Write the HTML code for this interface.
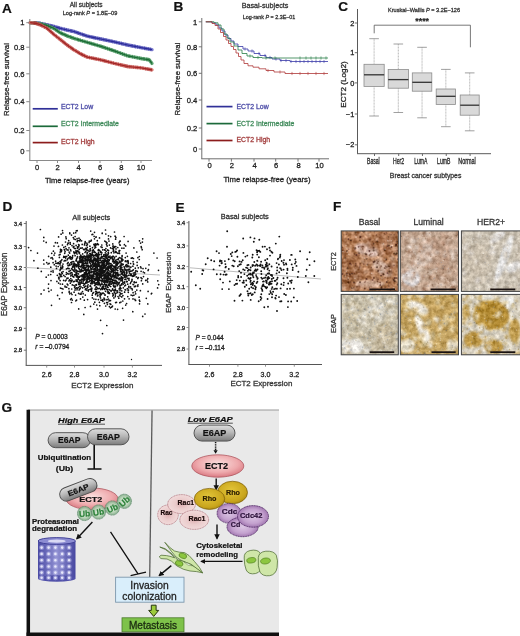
<!DOCTYPE html>
<html><head><meta charset="utf-8"><title>Figure</title>
<style>html,body{margin:0;padding:0;background:#fff}svg{display:block;filter:blur(0.35px)}text{font-family:'Liberation Sans', Arial, sans-serif}</style>
</head><body>
<svg width="520" height="636" viewBox="0 0 520 636" font-family="Liberation Sans, Arial, sans-serif">
<rect width="520" height="636" fill="#fff"/>
<text x="2.00" y="12.50" font-size="13.6" text-anchor="start" font-weight="bold" font-style="normal" fill="#111" stroke="#111" stroke-width="0.2">A</text>
<text x="173.50" y="11.10" font-size="13.6" text-anchor="start" font-weight="bold" font-style="normal" fill="#111" stroke="#111" stroke-width="0.2">B</text>
<text x="338.30" y="10.80" font-size="13.6" text-anchor="start" font-weight="bold" font-style="normal" fill="#111" stroke="#111" stroke-width="0.2">C</text>
<text x="2.50" y="211.40" font-size="13.6" text-anchor="start" font-weight="bold" font-style="normal" fill="#111" stroke="#111" stroke-width="0.2">D</text>
<text x="175.50" y="211.90" font-size="13.6" text-anchor="start" font-weight="bold" font-style="normal" fill="#111" stroke="#111" stroke-width="0.2">E</text>
<text x="333.00" y="211.40" font-size="13.6" text-anchor="start" font-weight="bold" font-style="normal" fill="#111" stroke="#111" stroke-width="0.2">F</text>
<text x="1.60" y="412.40" font-size="13.6" text-anchor="start" font-weight="bold" font-style="normal" fill="#111" stroke="#111" stroke-width="0.2">G</text>
<text x="86.20" y="7.14" font-size="6.5" text-anchor="middle" font-weight="normal" font-style="normal" fill="#333" stroke="#333" stroke-width="0.28">All subjects</text>
<text x="90.00" y="14.62" font-size="5.6" text-anchor="middle" font-weight="normal" font-style="normal" fill="#333" stroke="#333" stroke-width="0.28">Log-rank <tspan font-style="italic">P</tspan> = 1.8E–09</text>
<line x1="29.80" y1="19.00" x2="29.80" y2="160.50" stroke="#8a8a8a" stroke-width="1.1"/>
<line x1="29.30" y1="160.50" x2="152.00" y2="160.50" stroke="#8a8a8a" stroke-width="1.1"/>
<line x1="26.30" y1="22.70" x2="29.80" y2="22.70" stroke="#8a8a8a" stroke-width="1"/>
<text x="24.60" y="25.44" font-size="7.6" text-anchor="end" font-weight="normal" font-style="normal" fill="#222" stroke="#222" stroke-width="0.28">1</text>
<line x1="26.30" y1="47.20" x2="29.80" y2="47.20" stroke="#8a8a8a" stroke-width="1"/>
<text x="24.60" y="49.94" font-size="7.6" text-anchor="end" font-weight="normal" font-style="normal" fill="#222" stroke="#222" stroke-width="0.28">0.8</text>
<line x1="26.30" y1="73.80" x2="29.80" y2="73.80" stroke="#8a8a8a" stroke-width="1"/>
<text x="24.60" y="76.54" font-size="7.6" text-anchor="end" font-weight="normal" font-style="normal" fill="#222" stroke="#222" stroke-width="0.28">0.6</text>
<line x1="26.30" y1="101.70" x2="29.80" y2="101.70" stroke="#8a8a8a" stroke-width="1"/>
<text x="24.60" y="104.44" font-size="7.6" text-anchor="end" font-weight="normal" font-style="normal" fill="#222" stroke="#222" stroke-width="0.28">0.4</text>
<line x1="26.30" y1="130.50" x2="29.80" y2="130.50" stroke="#8a8a8a" stroke-width="1"/>
<text x="24.60" y="133.24" font-size="7.6" text-anchor="end" font-weight="normal" font-style="normal" fill="#222" stroke="#222" stroke-width="0.28">0.2</text>
<line x1="26.30" y1="150.80" x2="29.80" y2="150.80" stroke="#8a8a8a" stroke-width="1"/>
<text x="24.60" y="153.54" font-size="7.6" text-anchor="end" font-weight="normal" font-style="normal" fill="#222" stroke="#222" stroke-width="0.28">0</text>
<line x1="37.00" y1="160.50" x2="37.00" y2="163.00" stroke="#8a8a8a" stroke-width="1"/>
<text x="37.00" y="169.54" font-size="7.6" text-anchor="middle" font-weight="normal" font-style="normal" fill="#222" stroke="#222" stroke-width="0.28">0</text>
<line x1="57.50" y1="160.50" x2="57.50" y2="163.00" stroke="#8a8a8a" stroke-width="1"/>
<text x="57.50" y="169.54" font-size="7.6" text-anchor="middle" font-weight="normal" font-style="normal" fill="#222" stroke="#222" stroke-width="0.28">2</text>
<line x1="78.50" y1="160.50" x2="78.50" y2="163.00" stroke="#8a8a8a" stroke-width="1"/>
<text x="78.50" y="169.54" font-size="7.6" text-anchor="middle" font-weight="normal" font-style="normal" fill="#222" stroke="#222" stroke-width="0.28">4</text>
<line x1="100.00" y1="160.50" x2="100.00" y2="163.00" stroke="#8a8a8a" stroke-width="1"/>
<text x="100.00" y="169.54" font-size="7.6" text-anchor="middle" font-weight="normal" font-style="normal" fill="#222" stroke="#222" stroke-width="0.28">6</text>
<line x1="121.30" y1="160.50" x2="121.30" y2="163.00" stroke="#8a8a8a" stroke-width="1"/>
<text x="121.30" y="169.54" font-size="7.6" text-anchor="middle" font-weight="normal" font-style="normal" fill="#222" stroke="#222" stroke-width="0.28">8</text>
<line x1="141.00" y1="160.50" x2="141.00" y2="163.00" stroke="#8a8a8a" stroke-width="1"/>
<text x="141.00" y="169.54" font-size="7.6" text-anchor="middle" font-weight="normal" font-style="normal" fill="#222" stroke="#222" stroke-width="0.28">10</text>
<text x="87.20" y="182.72" font-size="7.55" text-anchor="middle" font-weight="normal" font-style="normal" fill="#222" stroke="#222" stroke-width="0.28">Time relapse-free (years)</text>
<text x="6.20" y="82.29" font-size="7.75" text-anchor="middle" font-weight="normal" font-style="normal" fill="#222" stroke="#222" stroke-width="0.28" transform="rotate(-90 6.20 79.50)">Relapse-free survival</text>
<path d="M30.2 22.7 L40.0 23.3 L47.0 24.8 L53.7 26.5 L60.4 28.3 L67.0 30.0 L73.9 31.5 L80.6 33.8 L87.3 36.1 L94.0 37.6 L100.8 39.0 L114.2 41.8 L127.7 45.0 L141.2 47.7 L152.0 49.6" fill="none" stroke="#6464c4" stroke-width="3.4" stroke-linejoin="round" stroke-linecap="round" opacity="0.85"/>
<path d="M30.2 22.7 L40.0 23.3 L47.0 24.8 L53.7 26.5 L60.4 28.3 L67.0 30.0 L73.9 31.5 L80.6 33.8 L87.3 36.1 L94.0 37.6 L100.8 39.0 L114.2 41.8 L127.7 45.0 L141.2 47.7 L152.0 49.6" fill="none" stroke="#2a2a98" stroke-width="1.2" stroke-linejoin="round"/>
<path d="M34.2 21.0v3.8M35.8 21.1v3.8M37.2 21.2v3.8M39.3 21.4v3.8M40.5 21.5v3.8M42.5 21.9v3.8M44.2 22.3v3.8M45.4 22.5v3.8M47.3 23.0v3.8M48.4 23.3v3.8M50.2 23.7v3.8M51.4 24.0v3.8M52.7 24.3v3.8M54.5 24.8v3.8M56.9 25.5v3.8M58.2 25.8v3.8M59.6 26.2v3.8M61.7 26.7v3.8M64.4 27.4v3.8M66.4 27.9v3.8M68.1 28.3v3.8M70.8 28.9v3.8M71.9 29.2v3.8M74.4 29.8v3.8M76.0 30.3v3.8M77.3 30.8v3.8M78.6 31.2v3.8M80.2 31.8v3.8M82.6 32.6v3.8M84.0 33.1v3.8M86.0 33.8v3.8M88.1 34.4v3.8M89.8 34.8v3.8M91.8 35.2v3.8M93.0 35.5v3.8M94.2 35.7v3.8M95.6 36.0v3.8M97.8 36.5v3.8M99.6 36.9v3.8M101.2 37.2v3.8M103.3 37.6v3.8M105.1 38.0v3.8M106.7 38.3v3.8M109.0 38.8v3.8M111.2 39.3v3.8M112.7 39.6v3.8M114.8 40.0v3.8M116.7 40.5v3.8M119.2 41.1v3.8M121.5 41.6v3.8M123.0 42.0v3.8M125.7 42.6v3.8M127.0 42.9v3.8M128.8 43.3v3.8M131.1 43.8v3.8M132.4 44.0v3.8M134.3 44.4v3.8M135.5 44.7v3.8M137.6 45.1v3.8M139.9 45.5v3.8M142.0 45.9v3.8M144.5 46.4v3.8M146.1 46.7v3.8M148.3 47.0v3.8M150.3 47.4v3.8" fill="none" stroke="#2a2a98" stroke-width="0.55" opacity="0.9"/>
<path d="M30.2 22.7 L40.0 23.6 L47.0 25.6 L53.7 28.3 L60.4 32.9 L67.0 35.8 L73.9 38.3 L80.6 40.4 L87.3 42.3 L100.8 46.3 L114.2 50.9 L127.7 55.8 L141.2 58.5 L149.2 59.8 L152.0 63.5" fill="none" stroke="#55a26a" stroke-width="3.4" stroke-linejoin="round" stroke-linecap="round" opacity="0.85"/>
<path d="M30.2 22.7 L40.0 23.6 L47.0 25.6 L53.7 28.3 L60.4 32.9 L67.0 35.8 L73.9 38.3 L80.6 40.4 L87.3 42.3 L100.8 46.3 L114.2 50.9 L127.7 55.8 L141.2 58.5 L149.2 59.8 L152.0 63.5" fill="none" stroke="#1a6a34" stroke-width="1.2" stroke-linejoin="round"/>
<path d="M34.2 21.2v3.8M36.0 21.3v3.8M38.5 21.6v3.8M41.1 22.0v3.8M42.9 22.5v3.8M45.1 23.2v3.8M46.3 23.5v3.8M48.5 24.3v3.8M50.7 25.2v3.8M53.4 26.3v3.8M55.8 27.8v3.8M57.3 28.9v3.8M59.0 30.1v3.8M61.2 31.4v3.8M62.3 31.9v3.8M64.2 32.7v3.8M65.6 33.3v3.8M66.8 33.8v3.8M68.0 34.3v3.8M70.4 35.1v3.8M71.7 35.6v3.8M73.2 36.1v3.8M74.9 36.7v3.8M77.4 37.5v3.8M78.6 37.9v3.8M80.4 38.4v3.8M82.4 39.0v3.8M84.9 39.7v3.8M87.3 40.4v3.8M89.8 41.1v3.8M91.4 41.6v3.8M93.1 42.1v3.8M94.8 42.6v3.8M97.3 43.4v3.8M99.9 44.1v3.8M101.3 44.6v3.8M102.7 45.0v3.8M104.1 45.5v3.8M105.6 46.1v3.8M107.5 46.7v3.8M109.5 47.4v3.8M111.1 47.9v3.8M112.2 48.3v3.8M113.9 48.9v3.8M115.6 49.5v3.8M117.6 50.2v3.8M120.3 51.2v3.8M122.5 52.0v3.8M124.4 52.7v3.8M126.5 53.5v3.8M128.7 54.1v3.8M129.8 54.3v3.8M132.4 54.8v3.8M134.7 55.3v3.8M137.2 55.8v3.8M139.6 56.3v3.8M141.3 56.6v3.8M143.1 56.9v3.8M144.3 57.1v3.8M146.5 57.5v3.8M147.7 57.6v3.8M148.9 57.8v3.8M150.3 59.3v3.8M151.7 61.1v3.8" fill="none" stroke="#1a6a34" stroke-width="0.55" opacity="0.9"/>
<path d="M30.2 22.7 L36.0 23.3 L40.2 24.8 L47.0 28.3 L53.7 34.2 L60.4 39.6 L67.1 45.0 L73.9 49.8 L80.6 53.9 L87.3 57.1 L100.8 59.8 L114.2 63.3 L127.7 66.5 L141.2 67.9 L152.0 69.8" fill="none" stroke="#d2645e" stroke-width="3.4" stroke-linejoin="round" stroke-linecap="round" opacity="0.85"/>
<path d="M30.2 22.7 L36.0 23.3 L40.2 24.8 L47.0 28.3 L53.7 34.2 L60.4 39.6 L67.1 45.0 L73.9 49.8 L80.6 53.9 L87.3 57.1 L100.8 59.8 L114.2 63.3 L127.7 66.5 L141.2 67.9 L152.0 69.8" fill="none" stroke="#a02424" stroke-width="1.2" stroke-linejoin="round"/>
<path d="M34.2 21.2v3.8M35.4 21.3v3.8M36.5 21.6v3.8M37.8 22.1v3.8M39.1 22.5v3.8M40.8 23.2v3.8M41.9 23.8v3.8M44.4 25.1v3.8M46.5 26.1v3.8M47.8 27.1v3.8M49.3 28.5v3.8M51.0 29.9v3.8M52.7 31.4v3.8M54.0 32.5v3.8M56.4 34.5v3.8M59.1 36.7v3.8M61.0 38.2v3.8M62.8 39.7v3.8M64.1 40.7v3.8M65.3 41.7v3.8M67.0 43.0v3.8M68.5 44.1v3.8M70.9 45.8v3.8M72.3 46.8v3.8M73.4 47.6v3.8M76.1 49.2v3.8M78.0 50.4v3.8M79.3 51.2v3.8M81.3 52.3v3.8M82.4 52.9v3.8M84.4 53.8v3.8M87.1 55.1v3.8M89.5 55.6v3.8M91.7 56.1v3.8M93.3 56.4v3.8M95.0 56.7v3.8M96.3 57.0v3.8M98.7 57.5v3.8M100.6 57.9v3.8M103.0 58.5v3.8M104.6 58.9v3.8M106.0 59.3v3.8M108.4 59.9v3.8M111.1 60.6v3.8M113.6 61.2v3.8M116.0 61.8v3.8M118.4 62.4v3.8M120.7 62.9v3.8M122.1 63.3v3.8M124.1 63.7v3.8M125.7 64.1v3.8M126.9 64.4v3.8M128.0 64.6v3.8M129.6 64.8v3.8M131.1 64.9v3.8M133.3 65.2v3.8M135.9 65.5v3.8M137.7 65.6v3.8M140.3 65.9v3.8M143.0 66.3v3.8M145.6 66.8v3.8M147.3 67.1v3.8M148.8 67.3v3.8M150.2 67.6v3.8M151.6 67.8v3.8" fill="none" stroke="#a02424" stroke-width="0.55" opacity="0.9"/>
<line x1="32.70" y1="108.80" x2="57.80" y2="108.80" stroke="#303098" stroke-width="1.7"/>
<text x="61.00" y="109.48" font-size="6.9" text-anchor="start" font-weight="normal" font-style="normal" fill="#4a4aa6" stroke="#4a4aa6" stroke-width="0.28">ECT2 Low</text>
<line x1="32.70" y1="126.30" x2="57.80" y2="126.30" stroke="#1c6a3a" stroke-width="1.7"/>
<text x="61.00" y="126.38" font-size="6.9" text-anchor="start" font-weight="normal" font-style="normal" fill="#3f8a5a" stroke="#3f8a5a" stroke-width="0.28">ECT2 Intermediate</text>
<line x1="32.70" y1="142.60" x2="57.80" y2="142.60" stroke="#8c1c1c" stroke-width="1.7"/>
<text x="61.00" y="143.88" font-size="6.9" text-anchor="start" font-weight="normal" font-style="normal" fill="#a23c3c" stroke="#a23c3c" stroke-width="0.28">ECT2 High</text>
<text x="265.00" y="7.99" font-size="7.2" text-anchor="middle" font-weight="normal" font-style="normal" fill="#333" stroke="#333" stroke-width="0.28">Basal-subjects</text>
<text x="269.00" y="18.94" font-size="5.4" text-anchor="middle" font-weight="normal" font-style="normal" fill="#333" stroke="#333" stroke-width="0.28">Log-rank <tspan font-style="italic">P</tspan> = 2.3E–01</text>
<line x1="201.80" y1="18.00" x2="201.80" y2="158.80" stroke="#666" stroke-width="0.95"/>
<line x1="201.30" y1="158.80" x2="329.00" y2="158.80" stroke="#666" stroke-width="0.95"/>
<line x1="198.80" y1="21.80" x2="201.80" y2="21.80" stroke="#666" stroke-width="0.9"/>
<text x="197.30" y="24.54" font-size="7.6" text-anchor="end" font-weight="normal" font-style="normal" fill="#222" stroke="#222" stroke-width="0.28">1</text>
<line x1="198.80" y1="46.80" x2="201.80" y2="46.80" stroke="#666" stroke-width="0.9"/>
<text x="197.30" y="49.54" font-size="7.6" text-anchor="end" font-weight="normal" font-style="normal" fill="#222" stroke="#222" stroke-width="0.28">0.8</text>
<line x1="198.80" y1="73.30" x2="201.80" y2="73.30" stroke="#666" stroke-width="0.9"/>
<text x="197.30" y="76.04" font-size="7.6" text-anchor="end" font-weight="normal" font-style="normal" fill="#222" stroke="#222" stroke-width="0.28">0.6</text>
<line x1="198.80" y1="100.00" x2="201.80" y2="100.00" stroke="#666" stroke-width="0.9"/>
<text x="197.30" y="102.74" font-size="7.6" text-anchor="end" font-weight="normal" font-style="normal" fill="#222" stroke="#222" stroke-width="0.28">0.4</text>
<line x1="198.80" y1="128.00" x2="201.80" y2="128.00" stroke="#666" stroke-width="0.9"/>
<text x="197.30" y="130.74" font-size="7.6" text-anchor="end" font-weight="normal" font-style="normal" fill="#222" stroke="#222" stroke-width="0.28">0.2</text>
<line x1="198.80" y1="149.00" x2="201.80" y2="149.00" stroke="#666" stroke-width="0.9"/>
<text x="197.30" y="151.74" font-size="7.6" text-anchor="end" font-weight="normal" font-style="normal" fill="#222" stroke="#222" stroke-width="0.28">0</text>
<line x1="209.00" y1="158.80" x2="209.00" y2="161.60" stroke="#666" stroke-width="0.9"/>
<text x="209.50" y="168.04" font-size="7.6" text-anchor="middle" font-weight="normal" font-style="normal" fill="#222" stroke="#222" stroke-width="0.28">0</text>
<line x1="231.40" y1="158.80" x2="231.40" y2="161.60" stroke="#666" stroke-width="0.9"/>
<text x="231.90" y="168.04" font-size="7.6" text-anchor="middle" font-weight="normal" font-style="normal" fill="#222" stroke="#222" stroke-width="0.28">2</text>
<line x1="254.00" y1="158.80" x2="254.00" y2="161.60" stroke="#666" stroke-width="0.9"/>
<text x="254.50" y="168.04" font-size="7.6" text-anchor="middle" font-weight="normal" font-style="normal" fill="#222" stroke="#222" stroke-width="0.28">4</text>
<line x1="275.70" y1="158.80" x2="275.70" y2="161.60" stroke="#666" stroke-width="0.9"/>
<text x="276.20" y="168.04" font-size="7.6" text-anchor="middle" font-weight="normal" font-style="normal" fill="#222" stroke="#222" stroke-width="0.28">6</text>
<line x1="298.00" y1="158.80" x2="298.00" y2="161.60" stroke="#666" stroke-width="0.9"/>
<text x="298.50" y="168.04" font-size="7.6" text-anchor="middle" font-weight="normal" font-style="normal" fill="#222" stroke="#222" stroke-width="0.28">8</text>
<line x1="319.00" y1="158.80" x2="319.00" y2="161.60" stroke="#666" stroke-width="0.9"/>
<text x="319.50" y="168.04" font-size="7.6" text-anchor="middle" font-weight="normal" font-style="normal" fill="#222" stroke="#222" stroke-width="0.28">10</text>
<text x="267.00" y="182.11" font-size="7.8" text-anchor="middle" font-weight="normal" font-style="normal" fill="#222" stroke="#222" stroke-width="0.28">Time relapse-free (years)</text>
<text x="177.50" y="81.79" font-size="7.75" text-anchor="middle" font-weight="normal" font-style="normal" fill="#222" stroke="#222" stroke-width="0.28" transform="rotate(-90 177.50 79.00)">Relapse-free survival</text>
<path d="M205.8 21.8 H212.0 V23.0 H216.0 V25.0 H219.0 V28.0 H222.0 V31.0 H225.0 V35.0 H228.0 V38.5 H231.0 V41.0 H234.0 V44.0 H238.0 V46.5 H243.0 V49.0 H248.0 V51.0 H254.0 V53.5 H260.0 V55.5 H266.0 V57.5 H272.0 V59.0 H280.0 V60.5 H290.0 V61.5 H328.0 V61.5" fill="none" stroke="#3a3aa8" stroke-width="0.9" opacity="0.9"/>
<path d="M245.0 47.4v3.2M252.0 49.4v3.2M259.0 51.9v3.2M265.0 53.9v3.2M270.0 55.9v3.2M276.0 57.4v3.2M281.0 58.9v3.2M286.0 58.9v3.2M291.0 59.9v3.2M296.0 59.9v3.2M300.0 59.9v3.2M304.0 59.9v3.2M308.0 59.9v3.2M312.0 59.9v3.2M316.0 59.9v3.2M320.0 59.9v3.2M324.0 59.9v3.2" fill="none" stroke="#3a3aa8" stroke-width="0.6"/>
<path d="M205.8 21.8 H214.0 V22.8 H218.0 V25.0 H221.0 V29.0 H224.0 V34.0 H227.0 V38.0 H230.0 V42.0 H234.0 V46.0 H238.0 V50.0 H242.0 V53.5 H247.0 V56.0 H253.0 V57.5 H262.0 V58.0 H328.0 V58.0" fill="none" stroke="#2a8048" stroke-width="0.9" opacity="0.9"/>
<path d="M250.0 54.4v3.2M258.0 55.9v3.2M266.0 56.4v3.2M275.0 56.4v3.2M300.0 56.4v3.2M306.0 56.4v3.2M311.0 56.4v3.2M316.0 56.4v3.2M321.0 56.4v3.2M326.0 56.4v3.2" fill="none" stroke="#2a8048" stroke-width="0.6"/>
<path d="M205.8 21.8 H212.0 V23.5 H215.0 V25.5 H218.0 V29.0 H220.5 V32.5 H223.5 V36.5 H226.0 V40.0 H228.5 V43.5 H231.0 V46.5 H233.5 V49.5 H236.0 V53.0 H238.5 V56.5 H241.0 V60.0 H244.0 V63.5 H248.0 V65.8 H253.0 V67.2 H259.0 V68.8 H266.0 V70.5 H274.0 V72.0 H285.0 V73.5 H328.0 V73.5" fill="none" stroke="#b03a3a" stroke-width="0.9" opacity="0.9"/>
<path d="M268.0 68.9v3.2M280.0 70.4v3.2M292.0 71.9v3.2M300.0 71.9v3.2M308.0 71.9v3.2M316.0 71.9v3.2M324.0 71.9v3.2" fill="none" stroke="#b03a3a" stroke-width="0.6"/>
<line x1="206.50" y1="106.60" x2="232.50" y2="106.60" stroke="#303098" stroke-width="1.7"/>
<text x="236.50" y="108.58" font-size="6.9" text-anchor="start" font-weight="normal" font-style="normal" fill="#4a4aa6" stroke="#4a4aa6" stroke-width="0.28">ECT2 Low</text>
<line x1="206.50" y1="123.60" x2="232.50" y2="123.60" stroke="#1c6a3a" stroke-width="1.7"/>
<text x="236.50" y="125.58" font-size="6.9" text-anchor="start" font-weight="normal" font-style="normal" fill="#3f8a5a" stroke="#3f8a5a" stroke-width="0.28">ECT2 Intermediate</text>
<line x1="206.50" y1="140.50" x2="232.50" y2="140.50" stroke="#8c1c1c" stroke-width="1.7"/>
<text x="236.50" y="142.48" font-size="6.9" text-anchor="start" font-weight="normal" font-style="normal" fill="#a23c3c" stroke="#a23c3c" stroke-width="0.28">ECT2 High</text>
<text x="424.00" y="11.72" font-size="5.6" text-anchor="middle" font-weight="normal" font-style="normal" fill="#333" stroke="#333" stroke-width="0.28">Kruskal–Wallis <tspan font-style="italic">P</tspan> = 3.2E–126</text>
<text x="422.20" y="23.87" font-size="8.8" text-anchor="middle" font-weight="bold" font-style="normal" fill="#222" stroke="#222" stroke-width="0.2">****</text>
<path d="M374.2 33.3V25.2H470.4V47.3" fill="none" stroke="#555" stroke-width="0.8"/>
<line x1="357.50" y1="9.00" x2="357.50" y2="153.70" stroke="#5a5a5a" stroke-width="1"/>
<line x1="357.00" y1="153.70" x2="491.00" y2="153.70" stroke="#5a5a5a" stroke-width="1"/>
<line x1="354.80" y1="23.00" x2="357.50" y2="23.00" stroke="#5a5a5a" stroke-width="0.9"/>
<text x="354.30" y="25.66" font-size="7.4" text-anchor="end" font-weight="normal" font-style="normal" fill="#222" stroke="#222" stroke-width="0.28">2</text>
<line x1="354.80" y1="52.70" x2="357.50" y2="52.70" stroke="#5a5a5a" stroke-width="0.9"/>
<text x="354.30" y="55.36" font-size="7.4" text-anchor="end" font-weight="normal" font-style="normal" fill="#222" stroke="#222" stroke-width="0.28">1</text>
<line x1="354.80" y1="82.90" x2="357.50" y2="82.90" stroke="#5a5a5a" stroke-width="0.9"/>
<text x="354.30" y="85.56" font-size="7.4" text-anchor="end" font-weight="normal" font-style="normal" fill="#222" stroke="#222" stroke-width="0.28">0</text>
<line x1="354.80" y1="114.00" x2="357.50" y2="114.00" stroke="#5a5a5a" stroke-width="0.9"/>
<text x="354.30" y="116.66" font-size="7.4" text-anchor="end" font-weight="normal" font-style="normal" fill="#222" stroke="#222" stroke-width="0.28">−1</text>
<line x1="354.80" y1="144.80" x2="357.50" y2="144.80" stroke="#5a5a5a" stroke-width="0.9"/>
<text x="354.30" y="147.46" font-size="7.4" text-anchor="end" font-weight="normal" font-style="normal" fill="#222" stroke="#222" stroke-width="0.28">−2</text>
<text x="343.30" y="87.42" font-size="8.1" text-anchor="middle" font-weight="normal" font-style="normal" fill="#222" stroke="#222" stroke-width="0.28" transform="rotate(-90 343.30 84.50)">ECT2 (Log2)</text>
<line x1="374.10" y1="38.70" x2="374.10" y2="64.30" stroke="#999" stroke-width="0.7" stroke-dasharray="1 0.5"/>
<line x1="374.10" y1="86.40" x2="374.10" y2="116.00" stroke="#999" stroke-width="0.7" stroke-dasharray="1 0.5"/>
<line x1="369.30" y1="38.70" x2="378.90" y2="38.70" stroke="#888" stroke-width="0.8"/>
<line x1="369.30" y1="116.00" x2="378.90" y2="116.00" stroke="#888" stroke-width="0.8"/>
<rect x="364" y="64.3" width="20.2" height="22.1" fill="#d9d9d9" stroke="#8c8c8c" stroke-width="0.8"/>
<line x1="364.00" y1="74.80" x2="384.20" y2="74.80" stroke="#333" stroke-width="1.3"/>
<line x1="374.50" y1="153.70" x2="374.50" y2="156.00" stroke="#5a5a5a" stroke-width="0.9"/>
<text x="373.40" y="163.75" font-size="8.2" text-anchor="middle" font-weight="normal" font-style="normal" fill="#222" stroke="#222" stroke-width="0.3" textLength="12.7" lengthAdjust="spacingAndGlyphs">Basal</text>
<line x1="398.30" y1="44.00" x2="398.30" y2="69.40" stroke="#999" stroke-width="0.7" stroke-dasharray="1 0.5"/>
<line x1="398.30" y1="88.20" x2="398.30" y2="112.50" stroke="#999" stroke-width="0.7" stroke-dasharray="1 0.5"/>
<line x1="393.50" y1="44.00" x2="403.10" y2="44.00" stroke="#888" stroke-width="0.8"/>
<line x1="393.50" y1="112.50" x2="403.10" y2="112.50" stroke="#888" stroke-width="0.8"/>
<rect x="388.2" y="69.4" width="20.2" height="18.8" fill="#d9d9d9" stroke="#8c8c8c" stroke-width="0.8"/>
<line x1="388.20" y1="79.60" x2="408.40" y2="79.60" stroke="#333" stroke-width="1.3"/>
<line x1="398.70" y1="153.70" x2="398.70" y2="156.00" stroke="#5a5a5a" stroke-width="0.9"/>
<text x="398.50" y="163.75" font-size="8.2" text-anchor="middle" font-weight="normal" font-style="normal" fill="#222" stroke="#222" stroke-width="0.3" textLength="11.1" lengthAdjust="spacingAndGlyphs">Her2</text>
<line x1="422.05" y1="47.30" x2="422.05" y2="72.90" stroke="#999" stroke-width="0.7" stroke-dasharray="1 0.5"/>
<line x1="422.05" y1="91.20" x2="422.05" y2="117.80" stroke="#999" stroke-width="0.7" stroke-dasharray="1 0.5"/>
<line x1="417.25" y1="47.30" x2="426.85" y2="47.30" stroke="#888" stroke-width="0.8"/>
<line x1="417.25" y1="117.80" x2="426.85" y2="117.80" stroke="#888" stroke-width="0.8"/>
<rect x="412.3" y="72.9" width="19.5" height="18.3" fill="#d9d9d9" stroke="#8c8c8c" stroke-width="0.8"/>
<line x1="412.30" y1="82.30" x2="431.80" y2="82.30" stroke="#333" stroke-width="1.3"/>
<line x1="422.45" y1="153.70" x2="422.45" y2="156.00" stroke="#5a5a5a" stroke-width="0.9"/>
<text x="420.80" y="163.75" font-size="8.2" text-anchor="middle" font-weight="normal" font-style="normal" fill="#222" stroke="#222" stroke-width="0.3" textLength="13.2" lengthAdjust="spacingAndGlyphs">LumA</text>
<line x1="445.85" y1="69.40" x2="445.85" y2="89.00" stroke="#999" stroke-width="0.7" stroke-dasharray="1 0.5"/>
<line x1="445.85" y1="104.40" x2="445.85" y2="126.70" stroke="#999" stroke-width="0.7" stroke-dasharray="1 0.5"/>
<line x1="441.05" y1="69.40" x2="450.65" y2="69.40" stroke="#888" stroke-width="0.8"/>
<line x1="441.05" y1="126.70" x2="450.65" y2="126.70" stroke="#888" stroke-width="0.8"/>
<rect x="436.2" y="89" width="19.3" height="15.4" fill="#d9d9d9" stroke="#8c8c8c" stroke-width="0.8"/>
<line x1="436.20" y1="96.30" x2="455.50" y2="96.30" stroke="#333" stroke-width="1.3"/>
<line x1="446.25" y1="153.70" x2="446.25" y2="156.00" stroke="#5a5a5a" stroke-width="0.9"/>
<text x="443.70" y="163.75" font-size="8.2" text-anchor="middle" font-weight="normal" font-style="normal" fill="#222" stroke="#222" stroke-width="0.3" textLength="13.2" lengthAdjust="spacingAndGlyphs">LumB</text>
<line x1="469.70" y1="72.90" x2="469.70" y2="95.00" stroke="#999" stroke-width="0.7" stroke-dasharray="1 0.5"/>
<line x1="469.70" y1="115.20" x2="469.70" y2="130.80" stroke="#999" stroke-width="0.7" stroke-dasharray="1 0.5"/>
<line x1="464.90" y1="72.90" x2="474.50" y2="72.90" stroke="#888" stroke-width="0.8"/>
<line x1="464.90" y1="130.80" x2="474.50" y2="130.80" stroke="#888" stroke-width="0.8"/>
<rect x="460.2" y="95" width="19.0" height="20.2" fill="#d9d9d9" stroke="#8c8c8c" stroke-width="0.8"/>
<line x1="460.20" y1="105.20" x2="479.20" y2="105.20" stroke="#333" stroke-width="1.3"/>
<line x1="470.10" y1="153.70" x2="470.10" y2="156.00" stroke="#5a5a5a" stroke-width="0.9"/>
<text x="467.00" y="163.75" font-size="8.2" text-anchor="middle" font-weight="normal" font-style="normal" fill="#222" stroke="#222" stroke-width="0.3" textLength="17.5" lengthAdjust="spacingAndGlyphs">Normal</text>
<text x="425.60" y="178.47" font-size="6.85" text-anchor="middle" font-weight="normal" font-style="normal" fill="#333" stroke="#333" stroke-width="0.28">Breast cancer subtypes</text>
<text x="91.30" y="219.90" font-size="7.5" text-anchor="middle" font-weight="normal" font-style="normal" fill="#333" stroke="#333" stroke-width="0.28">All subjects</text>
<line x1="26.20" y1="221.00" x2="26.20" y2="365.40" stroke="#555" stroke-width="1"/>
<line x1="25.70" y1="365.40" x2="162.00" y2="365.40" stroke="#555" stroke-width="1"/>
<line x1="23.80" y1="223.50" x2="26.20" y2="223.50" stroke="#555" stroke-width="0.8"/>
<text x="22.30" y="225.73" font-size="6.2" text-anchor="end" font-weight="normal" font-style="normal" fill="#222" stroke="#222" stroke-width="0.28">3.4</text>
<line x1="23.80" y1="246.60" x2="26.20" y2="246.60" stroke="#555" stroke-width="0.8"/>
<text x="22.30" y="248.83" font-size="6.2" text-anchor="end" font-weight="normal" font-style="normal" fill="#222" stroke="#222" stroke-width="0.28">3.3</text>
<line x1="23.80" y1="267.50" x2="26.20" y2="267.50" stroke="#555" stroke-width="0.8"/>
<text x="22.30" y="269.73" font-size="6.2" text-anchor="end" font-weight="normal" font-style="normal" fill="#222" stroke="#222" stroke-width="0.28">3.2</text>
<line x1="23.80" y1="287.50" x2="26.20" y2="287.50" stroke="#555" stroke-width="0.8"/>
<text x="22.30" y="289.73" font-size="6.2" text-anchor="end" font-weight="normal" font-style="normal" fill="#222" stroke="#222" stroke-width="0.28">3.1</text>
<line x1="23.80" y1="307.70" x2="26.20" y2="307.70" stroke="#555" stroke-width="0.8"/>
<text x="22.30" y="309.93" font-size="6.2" text-anchor="end" font-weight="normal" font-style="normal" fill="#222" stroke="#222" stroke-width="0.28">3.0</text>
<line x1="23.80" y1="328.30" x2="26.20" y2="328.30" stroke="#555" stroke-width="0.8"/>
<text x="22.30" y="330.53" font-size="6.2" text-anchor="end" font-weight="normal" font-style="normal" fill="#222" stroke="#222" stroke-width="0.28">2.9</text>
<line x1="23.80" y1="350.20" x2="26.20" y2="350.20" stroke="#555" stroke-width="0.8"/>
<text x="22.30" y="352.43" font-size="6.2" text-anchor="end" font-weight="normal" font-style="normal" fill="#222" stroke="#222" stroke-width="0.28">2.8</text>
<line x1="46.70" y1="365.40" x2="46.70" y2="367.60" stroke="#777" stroke-width="0.8"/>
<text x="46.70" y="377.26" font-size="7.1" text-anchor="middle" font-weight="normal" font-style="normal" fill="#222" stroke="#222" stroke-width="0.28">2.6</text>
<line x1="74.50" y1="365.40" x2="74.50" y2="367.60" stroke="#777" stroke-width="0.8"/>
<text x="74.50" y="377.26" font-size="7.1" text-anchor="middle" font-weight="normal" font-style="normal" fill="#222" stroke="#222" stroke-width="0.28">2.8</text>
<line x1="104.00" y1="365.40" x2="104.00" y2="367.60" stroke="#777" stroke-width="0.8"/>
<text x="104.00" y="377.26" font-size="7.1" text-anchor="middle" font-weight="normal" font-style="normal" fill="#222" stroke="#222" stroke-width="0.28">3.0</text>
<line x1="132.40" y1="365.40" x2="132.40" y2="367.60" stroke="#777" stroke-width="0.8"/>
<text x="132.40" y="377.26" font-size="7.1" text-anchor="middle" font-weight="normal" font-style="normal" fill="#222" stroke="#222" stroke-width="0.28">3.2</text>
<text x="102.30" y="388.48" font-size="8" text-anchor="middle" font-weight="normal" font-style="normal" fill="#333" stroke="#333" stroke-width="0.28">ECT2 Expression</text>
<text x="3.60" y="287.45" font-size="8.2" text-anchor="middle" font-weight="normal" font-style="normal" fill="#333" stroke="#333" stroke-width="0.28" transform="rotate(-90 3.60 284.50)">E6AP Expression</text>
<line x1="26.20" y1="267.50" x2="160.00" y2="275.00" stroke="#bdbdbd" stroke-width="1"/>
<path d="M67.5 244.7h0M110.3 258.7h0M77.5 246.8h0M123.3 284.1h0M127.5 261.7h0M98.0 254.4h0M113.3 294.1h0M80.2 288.6h0M117.8 270.6h0M58.6 283.1h0M96.1 261.5h0M106.0 276.8h0M128.0 260.7h0M120.7 293.8h0M127.0 272.0h0M83.1 281.6h0M100.3 272.1h0M126.5 270.8h0M52.1 257.6h0M60.9 275.5h0M104.3 262.6h0M97.8 281.3h0M99.6 288.4h0M96.8 284.0h0M127.8 296.6h0M84.6 279.9h0M60.5 249.4h0M58.7 278.6h0M73.4 266.0h0M94.2 269.0h0M86.2 271.4h0M133.8 276.1h0M108.6 285.3h0M94.0 252.2h0M86.9 283.0h0M65.1 256.8h0M118.1 283.9h0M98.2 281.0h0M101.3 254.4h0M66.7 256.5h0M116.5 265.1h0M80.0 256.7h0M67.4 263.7h0M74.4 271.3h0M50.8 267.2h0M85.2 241.5h0M112.5 268.5h0M53.4 251.2h0M103.8 264.6h0M113.6 282.6h0M111.3 276.5h0M124.7 283.1h0M107.0 242.9h0M115.9 290.6h0M92.1 262.7h0M136.8 252.0h0M107.4 304.5h0M79.4 276.6h0M135.7 274.2h0M109.2 284.1h0M79.9 266.0h0M103.9 282.2h0M97.3 267.2h0M77.7 262.0h0M115.8 274.1h0M80.9 255.9h0M151.3 293.8h0M110.7 236.6h0M110.4 278.5h0M131.7 281.0h0M96.7 276.9h0M59.1 278.1h0M104.5 261.4h0M124.5 298.8h0M70.0 256.6h0M103.8 273.4h0M90.0 255.5h0M140.4 290.7h0M74.1 248.0h0M132.1 288.8h0M134.4 286.7h0M80.6 270.9h0M54.8 253.1h0M96.8 277.0h0M83.4 266.1h0M107.2 276.6h0M110.8 274.8h0M91.5 279.8h0M99.0 258.9h0M85.5 268.1h0M95.8 271.8h0M98.0 272.4h0M95.3 252.4h0M106.4 285.7h0M106.7 268.8h0M106.9 258.2h0M60.1 265.0h0M79.4 277.2h0M76.3 230.8h0M77.2 288.4h0M90.4 250.1h0M82.7 274.8h0M107.9 273.9h0M127.7 284.2h0M97.6 278.1h0M131.1 288.4h0M118.5 258.4h0M95.0 279.5h0M92.1 283.7h0M109.9 284.2h0M93.8 304.1h0M122.8 270.9h0M99.8 305.7h0M91.1 280.9h0M117.6 273.1h0M74.7 269.0h0M105.2 286.5h0M113.7 272.7h0M115.1 280.0h0M102.1 271.4h0M93.1 278.6h0M76.9 258.2h0M98.1 250.0h0M89.3 241.2h0M84.3 275.7h0M109.3 271.0h0M93.4 249.9h0M134.6 282.7h0M119.9 261.3h0M94.3 244.6h0M113.6 285.2h0M60.1 263.4h0M110.6 247.9h0M61.5 249.8h0M85.4 248.9h0M98.6 273.5h0M110.7 281.5h0M128.1 290.5h0M71.8 259.1h0M76.8 252.0h0M96.4 269.8h0M107.8 249.8h0M73.2 265.9h0M94.0 265.1h0M96.7 259.4h0M112.0 277.0h0M96.2 260.6h0M94.5 232.3h0M78.4 267.5h0M67.9 268.1h0M100.9 251.6h0M93.0 264.9h0M107.2 279.8h0M97.3 258.3h0M95.1 268.7h0M112.7 276.3h0M83.5 249.3h0M90.5 258.7h0M75.8 265.0h0M88.2 269.9h0M108.5 266.0h0M144.5 272.8h0M120.0 275.1h0M120.3 241.0h0M83.0 271.1h0M110.0 303.8h0M104.5 288.5h0M113.3 285.3h0M108.2 269.4h0M108.2 256.8h0M121.6 259.7h0M103.0 299.7h0M93.5 269.6h0M121.3 273.9h0M81.8 271.0h0M109.6 281.5h0M82.5 291.6h0M131.3 275.4h0M103.4 265.0h0M126.3 264.7h0M111.5 265.5h0M84.1 277.7h0M124.7 274.0h0M84.5 279.0h0M97.0 274.1h0M128.5 290.1h0M87.6 299.6h0M98.1 280.7h0M85.1 267.4h0M63.0 289.0h0M125.3 257.6h0M67.9 243.2h0M121.5 267.3h0M96.8 265.5h0M95.6 254.8h0M98.5 250.4h0M96.6 274.0h0M107.4 268.3h0M79.9 269.4h0M88.3 289.9h0M113.4 270.8h0M88.6 259.0h0M79.3 262.3h0M103.9 277.9h0M109.4 300.4h0M83.9 268.0h0M153.9 253.1h0M87.6 270.7h0M101.1 276.0h0M93.2 274.3h0M99.1 280.7h0M60.1 252.1h0M98.0 255.9h0M77.1 275.4h0M85.0 276.7h0M112.9 276.5h0M108.2 270.1h0M69.8 265.2h0M107.1 264.2h0M96.0 279.9h0M80.4 276.0h0M135.3 268.2h0M100.9 268.4h0M128.8 279.1h0M116.0 263.3h0M97.7 269.8h0M62.5 284.2h0M116.0 248.9h0M112.9 270.5h0M107.0 276.4h0M68.0 262.5h0M127.9 266.7h0M77.5 248.3h0M73.6 270.8h0M131.9 281.1h0M102.9 301.3h0M87.6 259.2h0M108.6 279.1h0M77.7 250.9h0M103.8 274.3h0M71.9 263.2h0M87.1 274.6h0M95.7 268.5h0M90.9 283.3h0M125.8 269.3h0M114.9 262.3h0M99.4 280.5h0M128.3 269.4h0M96.5 272.5h0M68.0 265.6h0M84.5 273.0h0M75.4 239.5h0M98.8 273.7h0M87.0 280.4h0M92.5 260.9h0M107.6 250.1h0M84.5 267.6h0M115.0 270.4h0M104.2 262.0h0M104.0 293.6h0M84.3 300.2h0M85.1 268.3h0M101.5 284.5h0M73.3 237.5h0M110.1 282.7h0M110.5 307.8h0M102.1 274.1h0M116.6 277.9h0M131.3 258.2h0M114.2 267.4h0M116.5 302.3h0M97.9 266.5h0M88.0 257.0h0M85.4 276.8h0M98.7 271.0h0M94.5 282.0h0M107.9 269.6h0M111.3 270.0h0M74.9 286.3h0M107.3 258.4h0M119.6 278.0h0M66.7 287.2h0M104.7 283.2h0M102.0 268.6h0M67.0 278.5h0M98.6 266.2h0M105.0 272.1h0M111.5 267.0h0M97.3 240.7h0M89.5 277.9h0M124.7 269.1h0M95.6 291.3h0M91.5 279.0h0M131.6 275.7h0M122.5 264.1h0M102.2 269.6h0M100.3 285.8h0M145.8 268.3h0M86.5 275.0h0M76.9 273.5h0M109.4 268.0h0M108.6 250.5h0M113.2 251.2h0M84.1 260.3h0M90.0 280.5h0M99.6 264.8h0M108.9 293.3h0M98.1 275.0h0M122.8 277.5h0M72.3 300.1h0M142.2 249.7h0M97.2 275.6h0M117.3 282.1h0M92.6 254.8h0M100.1 284.4h0M76.2 252.6h0M97.5 243.5h0M92.8 263.2h0M107.0 261.8h0M80.4 261.9h0M97.0 260.8h0M98.2 280.3h0M121.7 296.9h0M82.3 261.9h0M48.3 288.3h0M83.5 267.3h0M108.5 253.1h0M107.3 271.1h0M61.5 268.4h0M121.9 248.2h0M114.1 275.3h0M107.5 277.5h0M124.1 271.0h0M115.5 267.1h0M112.6 261.1h0M95.8 293.3h0M106.9 269.2h0M75.1 255.7h0M101.9 283.4h0M106.5 278.5h0M97.2 288.3h0M90.2 261.3h0M115.8 273.6h0M92.4 261.3h0M92.9 277.7h0M105.1 254.6h0M106.5 273.8h0M78.0 277.5h0M92.4 264.6h0M113.9 290.5h0M84.2 273.9h0M80.5 298.9h0M88.1 284.8h0M85.1 279.1h0M142.4 242.1h0M89.3 275.5h0M96.1 260.6h0M141.0 277.7h0M65.1 276.6h0M63.6 280.4h0M86.4 270.2h0M123.2 275.5h0M70.2 242.6h0M121.7 283.8h0M81.7 279.2h0M107.9 280.4h0M52.8 258.9h0M116.0 282.8h0M115.6 239.2h0M101.4 277.2h0M149.0 264.8h0M91.4 269.5h0M115.7 266.7h0M120.9 262.8h0M103.3 263.6h0M101.2 261.1h0M66.1 280.0h0M104.1 263.3h0M102.0 284.1h0M78.5 265.5h0M108.8 278.8h0M91.3 240.2h0M122.9 278.3h0M98.3 266.2h0M103.3 265.0h0M77.5 256.7h0M86.1 259.8h0M74.8 275.1h0M71.8 275.0h0M77.7 271.7h0M125.5 277.0h0M83.4 268.4h0M101.0 246.8h0M85.8 270.4h0M88.6 269.6h0M112.7 282.7h0M116.1 280.8h0M92.2 268.9h0M92.6 264.9h0M94.4 245.9h0M91.3 268.6h0M78.5 266.7h0M108.3 269.3h0M139.5 240.8h0M93.9 244.4h0M117.6 309.3h0M48.0 264.0h0M108.4 267.5h0M109.0 241.1h0M115.0 277.7h0M98.5 262.0h0M110.8 265.3h0M102.5 263.7h0M53.1 262.7h0M102.0 280.9h0M80.5 266.8h0M110.3 273.9h0M122.8 301.0h0M79.8 241.0h0M115.1 293.5h0M116.4 284.0h0M85.6 258.3h0M115.8 260.3h0M61.7 250.8h0M147.8 303.9h0M84.3 257.9h0M102.6 260.5h0M124.2 273.0h0M76.3 284.5h0M86.3 271.2h0M97.7 265.7h0M104.5 261.5h0M61.1 234.2h0M72.7 255.7h0M97.5 270.7h0M109.1 273.3h0M82.1 257.9h0M55.6 261.2h0M107.7 278.7h0M95.6 267.2h0M116.7 273.1h0M112.8 280.2h0M102.3 288.5h0M86.5 263.3h0M81.8 256.6h0M129.1 298.8h0M98.5 277.8h0M121.5 284.6h0M122.1 256.5h0M85.2 274.2h0M126.7 275.8h0M80.8 262.5h0M84.8 256.2h0M128.0 266.1h0M98.4 299.6h0M121.7 278.2h0M85.8 273.7h0M130.4 283.5h0M123.2 275.2h0M108.3 268.8h0M106.5 289.1h0M69.4 264.7h0M102.8 262.9h0M91.8 279.8h0M138.0 284.8h0M104.5 249.8h0M136.6 277.0h0M97.3 254.6h0M96.9 254.9h0M99.4 276.6h0M98.6 273.9h0M81.0 286.9h0M84.9 243.2h0M94.2 259.0h0M77.8 262.0h0M103.8 254.8h0M95.2 289.1h0M111.7 270.0h0M100.6 268.8h0M97.0 279.9h0M96.1 236.9h0M97.6 257.8h0M111.0 263.7h0M101.0 300.2h0M77.1 251.4h0M69.8 232.9h0M60.4 269.2h0M85.2 242.5h0M68.3 273.9h0M82.5 262.6h0M104.6 289.5h0M136.8 290.1h0M100.9 273.0h0M134.0 295.1h0M91.8 275.3h0M103.7 271.6h0M88.0 250.3h0M87.3 247.3h0M122.5 281.1h0M73.9 285.3h0M115.8 246.7h0M134.8 286.7h0M139.3 259.5h0M108.6 277.4h0M102.0 273.0h0M119.1 252.8h0M73.2 247.1h0M86.8 260.0h0M105.3 274.8h0M98.6 260.9h0M89.2 281.6h0M113.3 273.7h0M91.5 290.2h0M86.1 277.0h0M121.1 269.9h0M114.5 257.3h0M118.3 275.8h0M66.3 274.3h0M80.2 284.8h0M84.4 265.7h0M103.7 266.3h0M103.2 263.2h0M111.4 272.1h0M102.2 233.1h0M121.2 274.0h0M62.3 265.8h0M107.3 286.1h0M76.3 287.8h0M94.8 302.2h0M95.1 278.8h0M90.7 253.6h0M119.9 285.8h0M128.8 286.4h0M86.5 245.5h0M85.0 258.8h0M81.7 275.4h0M104.6 267.3h0M101.5 268.5h0M102.3 280.9h0M117.2 263.6h0M67.9 284.9h0M100.3 285.5h0M65.1 260.4h0M98.5 250.4h0M87.7 278.3h0M119.6 295.1h0M80.7 248.2h0M108.4 284.4h0M101.9 252.8h0M113.6 283.2h0M109.1 265.1h0M104.1 281.7h0M86.8 243.1h0M104.6 277.6h0M98.3 282.2h0M86.3 267.1h0M91.9 276.9h0M129.9 271.5h0M139.1 297.2h0M113.8 280.5h0M133.4 273.0h0M95.8 255.1h0M107.5 289.8h0M108.6 277.4h0M94.0 271.7h0M69.5 279.9h0M89.8 253.7h0M83.0 256.4h0M115.1 287.1h0M70.8 278.5h0M115.8 264.8h0M68.3 255.2h0M85.3 272.7h0M90.8 241.2h0M102.7 249.8h0M116.1 256.3h0M84.1 256.2h0M87.1 286.1h0M115.0 280.8h0M104.4 249.8h0M87.6 260.9h0M78.5 273.9h0M83.2 258.0h0M77.1 238.7h0M109.9 290.0h0M101.5 257.2h0M43.9 264.0h0M122.3 277.8h0M116.5 293.0h0M120.5 267.4h0M119.0 283.8h0M67.3 259.7h0M69.5 264.1h0M109.6 257.2h0M56.9 281.4h0M105.5 291.3h0M71.5 280.4h0M139.5 303.8h0M93.8 273.0h0M94.9 283.2h0M118.8 274.4h0M70.8 275.9h0M88.6 277.1h0M103.3 293.0h0M120.8 267.3h0M105.0 295.2h0M87.3 274.3h0M121.8 290.8h0M108.4 253.6h0M72.8 269.5h0M105.7 306.0h0M80.8 282.9h0M113.4 249.5h0M81.6 269.8h0M88.1 266.4h0M107.4 260.4h0M107.3 262.7h0M87.1 275.7h0M86.5 272.2h0M130.0 275.3h0M95.1 279.6h0M90.7 283.7h0M72.3 274.5h0M87.8 257.5h0M133.4 263.8h0M133.1 284.4h0M127.1 261.1h0M122.0 293.6h0M95.7 267.9h0M147.1 280.0h0M89.5 260.1h0M106.9 275.9h0M101.6 294.1h0M91.4 275.5h0M127.2 260.8h0M118.8 298.2h0M70.9 250.8h0M77.2 241.6h0M107.1 246.0h0M108.0 291.4h0M65.7 260.7h0M59.6 274.7h0M83.3 264.1h0M99.1 277.6h0M91.1 269.1h0M87.1 269.9h0M74.5 267.3h0M59.4 257.4h0M136.3 277.0h0M72.8 269.6h0M78.6 244.5h0M83.3 277.8h0M105.7 269.9h0M79.5 252.4h0M125.0 277.5h0M79.0 238.2h0M70.6 299.6h0M75.0 265.4h0M102.2 268.5h0M92.4 250.4h0M77.0 289.8h0M82.9 279.2h0M64.1 261.0h0M103.2 285.0h0M75.5 274.7h0M105.7 261.1h0M107.5 259.2h0M82.1 267.3h0M43.7 260.1h0M78.0 246.9h0M89.5 279.1h0M89.9 286.0h0M74.8 248.5h0M129.0 280.2h0M116.9 261.6h0M114.1 276.0h0M111.0 272.3h0M122.1 264.9h0M78.7 246.9h0M121.2 263.5h0M77.1 254.0h0M89.1 251.3h0M92.2 260.5h0M87.0 255.2h0M98.7 263.8h0M100.3 273.8h0M104.8 241.1h0M87.3 257.5h0M113.5 250.8h0M83.7 263.8h0M91.3 282.5h0M89.1 281.8h0M68.7 240.7h0M122.4 279.7h0M107.8 273.2h0M107.7 254.9h0M117.0 265.7h0M117.7 274.2h0M58.5 246.3h0M120.6 271.6h0M90.1 272.1h0M89.5 261.3h0M100.0 272.3h0M128.3 275.3h0M135.6 300.4h0M132.3 289.8h0M100.6 272.3h0M95.1 259.6h0M96.7 261.0h0M130.8 282.3h0M89.1 242.5h0M96.9 264.2h0M76.3 251.1h0M53.0 270.8h0M96.7 305.0h0M97.4 267.9h0M126.9 276.3h0M101.3 265.4h0M85.9 288.6h0M118.0 296.5h0M91.0 269.3h0M80.4 280.5h0M70.1 273.4h0M119.9 292.6h0M79.2 282.0h0M83.7 257.5h0M71.5 281.7h0M131.0 267.0h0M82.8 263.0h0M148.1 291.4h0M87.1 243.8h0M84.5 284.1h0M135.4 272.1h0M84.2 260.9h0M60.3 276.6h0M76.3 281.2h0M63.8 247.4h0M103.8 260.5h0M113.6 272.5h0M74.5 274.9h0M114.8 246.5h0M134.5 282.4h0M113.2 246.9h0M83.6 263.0h0M119.5 253.4h0M80.3 239.6h0M93.2 274.0h0M64.3 256.7h0M108.2 293.2h0M111.3 267.9h0M74.4 253.6h0M84.7 270.0h0M97.0 292.6h0M103.7 256.2h0M128.9 287.7h0M100.0 260.5h0M60.6 250.3h0M116.2 261.8h0M71.6 268.6h0M102.9 279.0h0M111.1 291.3h0M81.2 280.8h0M78.3 276.4h0M101.6 273.9h0M117.4 272.7h0M120.2 285.4h0M100.7 262.7h0M82.9 260.5h0M94.0 269.0h0M157.6 287.9h0M113.4 260.6h0M83.8 263.5h0M101.8 256.4h0M130.2 267.3h0M119.6 241.4h0M97.9 273.8h0M101.8 278.8h0M103.6 273.1h0M60.1 254.4h0M51.1 271.4h0M104.1 268.3h0M81.6 259.5h0M134.9 299.3h0M96.8 287.4h0M66.2 238.7h0M88.3 256.6h0M86.8 270.8h0M158.5 270.3h0M99.0 273.9h0M97.3 282.6h0M133.5 258.5h0M101.2 266.9h0M105.1 250.2h0M62.8 232.9h0M108.5 274.2h0M99.5 237.9h0M90.5 258.5h0M69.7 253.1h0M112.0 279.6h0M97.5 277.0h0M85.9 269.1h0M98.8 277.7h0M96.6 267.8h0M95.3 260.8h0M142.7 283.9h0M106.6 302.6h0M126.1 253.1h0M111.9 283.6h0M135.7 293.8h0M113.4 256.3h0M80.6 271.0h0M108.1 257.6h0M90.3 263.3h0M99.2 274.8h0M92.3 252.2h0M122.9 295.6h0M95.9 283.7h0M106.9 280.4h0M107.6 261.1h0M109.5 285.6h0M80.1 294.1h0M139.8 301.3h0M137.8 286.3h0M91.2 260.8h0M81.7 269.1h0M97.3 279.1h0M57.6 295.4h0M143.5 276.6h0M111.5 278.6h0M103.5 268.0h0M95.5 258.4h0M101.6 270.2h0M104.4 259.3h0M98.8 270.8h0M110.1 257.3h0M106.4 284.7h0M109.9 266.8h0M88.2 265.3h0M112.6 293.5h0M94.8 260.7h0M105.5 273.9h0M79.8 257.1h0M96.0 278.9h0M74.1 252.4h0M108.0 254.8h0M100.2 275.1h0M95.8 255.8h0M96.8 265.3h0M104.7 259.6h0M119.8 250.5h0M94.5 269.6h0M117.2 264.7h0M108.9 263.9h0M112.8 296.0h0M90.0 274.8h0M79.5 280.4h0M122.2 274.2h0M75.3 272.0h0M121.0 288.4h0M114.3 247.5h0M84.4 287.3h0M73.5 281.7h0M135.6 286.2h0M120.4 268.9h0M73.5 264.8h0M94.0 268.7h0M111.9 270.2h0M101.8 276.4h0M97.9 295.2h0M106.8 272.5h0M93.8 260.8h0M124.9 276.2h0M76.4 259.0h0M95.3 263.5h0M119.7 257.5h0M107.8 273.5h0M74.4 267.0h0M96.1 276.6h0M89.0 272.8h0M64.7 250.1h0M113.7 286.6h0M97.7 261.8h0M119.7 244.8h0M82.0 276.7h0M111.1 257.9h0M60.3 284.0h0M101.1 258.2h0M99.1 282.5h0M46.2 277.2h0M112.8 243.9h0M113.4 248.1h0M120.8 279.0h0M143.0 268.6h0M98.1 284.3h0M85.2 258.4h0M90.6 267.9h0M76.4 273.3h0M108.9 272.6h0M132.0 270.8h0M124.1 266.6h0M113.1 245.9h0M102.0 268.2h0M88.1 260.1h0M91.1 259.1h0M54.1 255.1h0M87.0 261.1h0M76.8 264.9h0M113.7 269.0h0M88.1 287.0h0M117.5 285.6h0M121.1 269.1h0M95.4 284.8h0M86.9 266.7h0M105.6 276.3h0M92.5 282.6h0M94.4 279.4h0M119.4 282.3h0M112.7 256.4h0M71.8 257.5h0M107.5 292.0h0M73.6 270.4h0M80.9 257.4h0M92.5 278.6h0M102.3 286.8h0M78.3 279.1h0M116.6 273.8h0M107.5 263.8h0M76.2 261.1h0M85.1 307.5h0M88.3 291.0h0M102.0 274.9h0M112.9 261.7h0M116.3 278.0h0M67.7 273.5h0M109.1 277.9h0M129.7 269.2h0M108.2 281.8h0M80.0 283.6h0M69.0 247.8h0M108.4 256.7h0M95.7 247.2h0M99.4 254.7h0M104.8 250.1h0M107.0 267.7h0M99.3 269.3h0M100.6 252.4h0M46.7 262.6h0M79.3 260.9h0M106.5 244.2h0M82.7 259.3h0M76.9 271.2h0M95.2 258.4h0M78.3 278.0h0M84.8 276.0h0M107.0 245.5h0M76.3 266.7h0M104.8 281.7h0M114.0 286.6h0M90.5 266.0h0M113.5 266.6h0M119.1 251.6h0M111.1 269.6h0M58.7 277.3h0M104.2 271.2h0M76.5 260.3h0M128.2 263.4h0M28.6 247.6h0M74.0 264.5h0M90.1 256.3h0M81.2 281.7h0M69.2 292.3h0M87.1 253.4h0M113.7 280.1h0M77.1 277.0h0M61.2 251.7h0M120.5 270.0h0M72.0 273.0h0M116.3 272.5h0M61.9 259.7h0M106.4 281.8h0M135.1 272.3h0M88.4 268.0h0M122.1 260.9h0M124.1 236.5h0M114.0 263.2h0M107.2 280.8h0M74.3 265.2h0M102.8 278.8h0M79.4 253.6h0M59.5 298.8h0M94.2 266.4h0M68.1 278.1h0M87.3 288.0h0M115.0 272.9h0M112.5 257.1h0M91.5 261.1h0M72.6 266.3h0M95.1 289.2h0M30.9 250.5h0M79.6 260.8h0M106.4 276.8h0M98.6 263.6h0M107.9 276.4h0M61.1 260.7h0M70.5 249.6h0M100.9 271.3h0M100.3 258.4h0M94.0 256.9h0M105.6 280.6h0M133.1 292.7h0M81.9 261.3h0M79.2 271.3h0M137.6 285.8h0M54.0 246.1h0M72.1 273.1h0M98.0 274.1h0M133.6 264.2h0M81.0 294.2h0M104.8 260.4h0M57.4 242.9h0M49.1 263.4h0M98.9 283.7h0M95.2 260.1h0M83.2 293.7h0M62.7 266.9h0M98.5 278.5h0M89.9 275.6h0M114.3 270.5h0M88.8 266.0h0M78.7 264.2h0M92.0 271.9h0M124.7 292.0h0M89.1 276.9h0M103.9 281.3h0M98.4 273.7h0M88.6 257.8h0M115.4 290.4h0M111.2 278.0h0M103.3 264.7h0M62.3 273.6h0M102.0 263.0h0M78.7 284.5h0M61.9 288.5h0M110.8 304.3h0M83.6 267.5h0M87.9 270.6h0M93.8 259.1h0M119.5 262.6h0M87.8 276.0h0M87.2 262.4h0M105.1 266.1h0M73.1 264.8h0M93.6 292.6h0M76.1 279.9h0M82.3 262.7h0M91.5 272.7h0M115.3 296.6h0M85.3 286.2h0M117.9 284.2h0M82.8 280.0h0M95.9 274.5h0M92.6 278.2h0M120.3 288.9h0M93.9 283.0h0M127.0 261.7h0M127.4 256.3h0M108.9 279.8h0M127.7 278.4h0M88.4 257.6h0M73.0 276.6h0M93.3 259.5h0M108.6 261.2h0M89.3 262.4h0M131.1 295.1h0M94.8 248.1h0M103.5 271.8h0M105.0 278.8h0M91.6 281.6h0M114.7 275.5h0M89.9 262.2h0M111.9 257.1h0M94.8 259.3h0M70.1 274.0h0M97.5 270.4h0M115.5 252.3h0M96.7 273.7h0M114.6 257.7h0M112.3 275.2h0M125.1 289.7h0M109.0 301.0h0M98.0 264.2h0M91.2 256.1h0M97.4 244.3h0M96.3 275.6h0M117.8 268.3h0M125.8 265.4h0M95.3 243.9h0M82.8 256.8h0M127.2 281.6h0M76.4 273.8h0M107.4 268.3h0M98.4 266.0h0M87.4 244.7h0M96.2 286.9h0M126.0 270.6h0M83.4 264.9h0M115.5 277.4h0M86.6 273.1h0M94.0 276.3h0M90.0 249.2h0M99.1 280.3h0M76.4 265.2h0M115.1 267.7h0M85.3 295.1h0M114.2 286.2h0M79.6 288.9h0M65.7 258.1h0M112.4 289.9h0M79.9 258.4h0M101.8 245.0h0M110.4 279.4h0M89.3 275.8h0M113.1 276.4h0M108.1 291.6h0M88.7 270.7h0M87.9 282.1h0M90.1 275.1h0M100.7 271.3h0M131.3 274.0h0M125.5 285.2h0M123.6 271.8h0M116.0 282.8h0M86.1 271.7h0M95.5 269.1h0M123.2 264.4h0M65.5 242.0h0M89.3 260.1h0M98.3 277.5h0M132.0 279.3h0M106.9 261.7h0M109.2 289.6h0M123.9 248.2h0M115.2 293.5h0M113.9 252.8h0M92.1 276.8h0M106.0 260.6h0M80.8 280.1h0M72.3 284.9h0M98.4 274.0h0M72.3 258.2h0M111.3 252.7h0M137.9 257.7h0M74.5 266.9h0M107.3 281.1h0M90.9 266.2h0M93.5 261.7h0M48.4 275.0h0M102.8 272.8h0M85.9 271.4h0M97.7 269.0h0M119.2 250.7h0M102.8 256.8h0M91.9 288.7h0M77.2 265.5h0M86.6 280.7h0M79.2 245.0h0M107.9 266.9h0M91.9 283.2h0M80.9 262.5h0M100.8 275.9h0M88.1 282.0h0M141.1 271.3h0M133.9 247.9h0M125.0 269.6h0M100.6 266.0h0M85.8 251.4h0M90.4 285.8h0M119.9 268.8h0M87.9 259.2h0M75.0 290.1h0M110.7 273.5h0M88.6 255.1h0M123.3 284.1h0M79.7 280.2h0M76.7 275.1h0M79.5 261.7h0M107.5 277.1h0M117.4 262.0h0M128.3 292.3h0M97.8 276.1h0M83.1 265.7h0M72.6 267.3h0M101.8 288.2h0M116.2 283.5h0M91.1 266.0h0M91.5 271.9h0M60.9 274.4h0M67.9 258.6h0M98.4 263.3h0M129.9 273.6h0M128.2 290.0h0M88.5 273.8h0M122.9 269.5h0M99.7 262.9h0M99.1 265.5h0M99.6 283.4h0M124.7 275.9h0M101.9 281.8h0M92.4 255.3h0M119.3 261.0h0M115.9 260.1h0M133.1 261.7h0M114.3 292.2h0M79.5 286.6h0M82.2 244.4h0M111.9 281.3h0M94.1 236.3h0M96.9 265.8h0M90.7 265.1h0M63.6 257.3h0M132.6 295.6h0M91.1 259.6h0M105.6 285.1h0M111.9 256.8h0M101.1 272.3h0M125.6 289.9h0M108.1 287.5h0M90.4 289.0h0M89.8 273.9h0M115.6 260.7h0M84.5 244.9h0M101.2 269.8h0M91.7 275.6h0M57.4 263.4h0M99.7 266.8h0M113.2 295.3h0M89.4 256.4h0M86.4 269.4h0M109.3 260.4h0M117.2 259.5h0M113.9 278.0h0M106.9 299.7h0M92.9 267.1h0M107.1 282.7h0M72.3 269.6h0M83.8 276.1h0M124.3 274.7h0M96.0 272.1h0M41.3 271.4h0M108.8 273.8h0M90.4 259.2h0M94.6 285.4h0M96.0 287.4h0M48.6 256.4h0M103.3 270.6h0M66.1 256.4h0M122.0 256.8h0M79.0 252.7h0M87.4 276.8h0M109.4 245.1h0M126.0 266.5h0M86.7 290.1h0M96.4 253.5h0M85.7 258.6h0M78.6 262.6h0M114.8 277.2h0M71.5 302.5h0M79.0 268.6h0M98.6 280.1h0M91.7 275.0h0M138.4 277.5h0M77.2 271.1h0M82.6 262.8h0M101.6 275.0h0M92.5 280.3h0M94.3 252.3h0M114.9 267.8h0M121.3 265.0h0M109.0 275.8h0M46.2 242.4h0M76.5 285.1h0M61.7 276.4h0M119.0 279.7h0M110.9 265.5h0M97.8 272.9h0M106.1 280.5h0M94.0 260.2h0M87.2 273.7h0M66.1 248.7h0M90.1 261.5h0M92.8 234.3h0M91.5 265.7h0M112.9 246.3h0M92.1 275.3h0M107.4 287.1h0M118.3 259.4h0M110.2 267.5h0M82.6 287.8h0M85.9 256.9h0M90.2 257.6h0M117.4 278.0h0M124.9 279.5h0M86.2 281.9h0M85.4 262.0h0M94.8 270.0h0M121.0 265.6h0M104.8 270.7h0M73.8 251.9h0M93.8 274.7h0M104.2 277.2h0M98.9 264.3h0M106.2 258.1h0M72.1 261.6h0M70.5 259.0h0M83.6 260.5h0M97.1 259.3h0M89.9 246.2h0M100.8 258.8h0M105.8 234.0h0M82.5 270.8h0M50.9 258.0h0M99.8 271.6h0M69.1 268.6h0M100.9 257.6h0M112.4 271.6h0M98.4 264.1h0M108.6 272.9h0M119.9 279.3h0M86.1 265.2h0M115.7 267.9h0M105.4 278.0h0M94.5 238.8h0M100.5 273.2h0M100.6 260.4h0M121.4 271.8h0M85.9 258.7h0M104.9 256.7h0M78.6 293.4h0M123.3 287.8h0M124.4 281.9h0M65.4 280.8h0M122.0 280.2h0M60.1 280.6h0M124.4 267.6h0M100.5 280.6h0M96.4 284.3h0M99.6 279.4h0M99.7 250.7h0M78.7 308.9h0M103.4 288.2h0M120.1 296.1h0M108.7 263.8h0M98.4 244.6h0M94.4 281.4h0M56.1 266.1h0M114.0 290.0h0M80.0 258.6h0M61.6 250.9h0M108.4 299.0h0M75.8 284.8h0M106.3 264.7h0M140.6 243.1h0M96.7 272.7h0M139.4 300.2h0M142.0 278.6h0M117.1 291.0h0M107.9 276.3h0M94.4 264.0h0M74.1 292.2h0M89.3 241.1h0M103.1 270.3h0M101.4 294.6h0M95.9 266.2h0M83.5 267.5h0M89.5 271.4h0M158.7 284.6h0M81.3 293.1h0M114.8 283.4h0M111.9 283.0h0M111.1 290.8h0M117.6 290.9h0M88.2 268.5h0M83.8 280.5h0M114.2 266.3h0M109.4 306.6h0M122.1 258.9h0M96.2 278.2h0M97.3 275.0h0M121.0 277.9h0M76.6 276.2h0M96.1 271.2h0M87.0 249.9h0M73.7 261.6h0M77.2 230.7h0M120.4 258.0h0M83.9 274.9h0M51.0 280.6h0M83.0 276.5h0M88.6 272.6h0M100.1 270.3h0M62.4 245.0h0M97.2 288.6h0M87.4 275.4h0M101.2 276.9h0M117.3 253.0h0M103.3 268.5h0M91.9 257.7h0M82.7 253.9h0M76.6 300.1h0M131.1 275.2h0M112.5 259.2h0M43.8 237.4h0M100.8 289.6h0M97.2 256.6h0M93.3 256.0h0M70.8 262.7h0M90.2 258.0h0M80.7 255.0h0M102.6 289.3h0M93.9 299.1h0M66.5 268.8h0M75.5 264.4h0M100.0 277.7h0M120.0 266.0h0M73.8 263.8h0M103.7 261.6h0M115.4 295.1h0M70.3 270.6h0M117.8 247.5h0M102.0 267.6h0M70.3 283.2h0M102.2 264.3h0M106.6 279.9h0M113.0 280.0h0M106.0 255.6h0M89.8 270.4h0M44.0 290.1h0M90.6 254.8h0M62.5 267.9h0M98.6 262.3h0M89.9 256.9h0M83.4 266.4h0M85.5 277.1h0M95.2 271.3h0M105.9 288.1h0M109.7 274.8h0M94.8 258.8h0M91.3 278.1h0M102.4 265.5h0M72.0 245.6h0M104.3 284.6h0M105.3 252.8h0M93.9 272.3h0M80.1 271.9h0M94.1 258.3h0M73.8 277.1h0M105.0 259.3h0M78.2 278.8h0M109.6 267.7h0M129.0 270.9h0M77.4 281.4h0M94.3 274.0h0M98.7 256.8h0M74.9 263.9h0M125.4 260.9h0M124.5 277.0h0M76.3 270.2h0M109.0 259.7h0M56.5 268.4h0M76.4 272.5h0M60.8 262.4h0M82.2 247.9h0M93.3 271.6h0M87.2 252.6h0M102.1 247.4h0M108.4 278.1h0M130.6 286.8h0M104.9 274.6h0M98.5 252.5h0M126.4 281.4h0M92.4 253.9h0M126.9 281.5h0M75.0 275.4h0M134.8 275.4h0M105.8 265.7h0M85.8 282.4h0M157.8 280.8h0M95.6 280.2h0M92.1 278.8h0M114.1 259.0h0M77.2 265.8h0M114.2 276.2h0M122.1 255.5h0M107.6 263.2h0M99.9 274.6h0M79.2 264.1h0M75.4 270.0h0M81.5 260.9h0M102.2 262.0h0M120.3 265.0h0M114.5 276.3h0M77.9 264.0h0M81.8 262.7h0M92.7 293.3h0M89.9 289.5h0M106.7 254.0h0M53.1 272.1h0M59.4 273.6h0M117.9 278.2h0M93.9 266.1h0M103.0 266.8h0M87.6 263.5h0M120.7 265.3h0M105.4 255.9h0M84.2 249.7h0M94.2 278.4h0M103.9 264.4h0M109.8 267.2h0M105.2 274.7h0M108.5 238.9h0M72.8 276.3h0M95.9 299.3h0M93.5 262.0h0M126.9 281.8h0M134.7 282.4h0M94.1 279.0h0M82.8 261.8h0M87.3 265.4h0M113.1 266.0h0M104.2 264.4h0M115.1 236.2h0M94.0 271.6h0M77.1 280.2h0M102.2 287.6h0M116.6 281.3h0M95.1 255.2h0M93.7 263.3h0M102.8 264.6h0M157.1 258.0h0M120.7 267.3h0M93.3 281.5h0M98.1 254.0h0M106.0 268.7h0M58.2 266.5h0M77.6 257.0h0M107.3 275.4h0M92.4 297.8h0M106.1 263.2h0M102.6 269.1h0M55.4 242.7h0M71.2 293.1h0M94.4 265.8h0M87.1 281.3h0M98.5 292.6h0M113.2 294.0h0M95.7 274.6h0M89.6 266.5h0M64.6 257.2h0M79.6 258.6h0M121.5 277.1h0M121.6 284.9h0M115.7 286.0h0M86.3 278.8h0M91.8 262.1h0M121.0 302.0h0M79.1 290.0h0M114.0 261.3h0M103.3 275.7h0M105.2 266.4h0M73.2 266.6h0M114.6 282.9h0M110.7 286.5h0M78.9 266.5h0M104.6 284.2h0M101.0 277.3h0M100.6 298.0h0M55.9 263.2h0M145.7 280.4h0M62.7 266.3h0M70.4 256.8h0M102.3 293.2h0M106.9 280.2h0M117.6 275.7h0M81.5 266.2h0M104.5 267.4h0M85.1 263.3h0M69.1 252.1h0M96.3 265.0h0M98.7 288.6h0M103.8 270.5h0M75.4 252.3h0M105.2 259.6h0M106.3 257.2h0M100.6 269.4h0M117.2 267.8h0M90.8 272.1h0M99.1 292.4h0M93.0 262.2h0M91.9 275.3h0M102.5 279.8h0M71.4 298.5h0M133.4 275.0h0M74.7 268.5h0M106.0 241.9h0M98.3 250.6h0M106.8 289.5h0M117.9 253.3h0M124.6 286.0h0M91.1 275.5h0M127.2 270.1h0M97.7 262.6h0M120.3 245.1h0M125.3 261.5h0M115.8 251.4h0M80.0 259.4h0M113.9 251.1h0M109.6 263.4h0M121.9 269.6h0M107.4 269.2h0M132.5 270.6h0M97.5 296.0h0M99.5 279.2h0M83.8 270.4h0M54.3 264.7h0M85.6 248.3h0M70.7 280.8h0M106.2 251.3h0M132.9 266.2h0M90.9 272.1h0M76.1 245.4h0M83.7 283.3h0M116.3 252.1h0M121.2 274.0h0M107.6 272.2h0M106.0 258.1h0M80.5 258.1h0M90.9 277.0h0M74.6 287.3h0M85.8 260.4h0M111.5 277.8h0M91.5 254.9h0M78.8 246.0h0M120.0 287.6h0M134.0 282.1h0M104.4 280.9h0M116.3 269.4h0M104.8 299.4h0M65.4 246.5h0M79.5 277.0h0M120.9 269.1h0M110.9 271.4h0M103.8 263.8h0M97.5 269.9h0M119.8 302.7h0M63.1 271.6h0M97.9 282.7h0M118.4 283.4h0M113.6 259.9h0M65.2 286.9h0M121.3 261.1h0M122.9 282.6h0M50.7 274.5h0M79.0 282.4h0M84.9 258.2h0M68.2 262.6h0M117.6 264.2h0M62.2 292.7h0M133.5 284.6h0M87.6 252.5h0M66.4 272.5h0M123.0 259.9h0M98.0 266.3h0M93.1 275.8h0M138.3 267.8h0M114.4 286.9h0M92.5 267.2h0M72.1 280.2h0M87.8 259.8h0M99.3 258.9h0M77.9 263.0h0M126.7 271.7h0M108.2 252.3h0M60.5 288.1h0M90.3 248.6h0M96.0 277.7h0M64.7 253.3h0M103.0 258.6h0M113.4 285.0h0M106.5 265.7h0M97.1 261.5h0M95.5 273.8h0M92.2 281.9h0M148.1 270.5h0M104.6 281.9h0M110.4 268.8h0M88.7 281.8h0M110.1 278.5h0M82.5 275.9h0M113.3 269.9h0M110.5 300.6h0M61.7 272.4h0M75.4 248.5h0M93.5 276.5h0M99.0 254.8h0M70.2 258.4h0M98.3 259.1h0M68.9 288.7h0M81.8 265.4h0M87.4 260.6h0M98.8 266.2h0M110.0 256.2h0M69.2 291.3h0M96.5 279.9h0M120.8 280.8h0M98.7 249.6h0M67.0 278.2h0M111.1 279.5h0M65.9 236.9h0M77.5 251.2h0M101.1 257.0h0M128.7 266.5h0M87.1 279.8h0M104.4 259.1h0M113.9 297.9h0M74.2 263.0h0M77.1 241.1h0M110.2 281.1h0M116.9 278.6h0M58.9 263.6h0M85.0 252.4h0M76.5 276.8h0M92.2 295.2h0M107.1 246.1h0M115.4 289.2h0M98.6 254.0h0M132.4 257.9h0M96.4 244.4h0M73.6 243.7h0M119.2 288.9h0M90.1 250.8h0M96.8 274.9h0M68.3 250.0h0M96.0 279.0h0M99.5 276.2h0M73.7 233.1h0M104.1 258.7h0M95.6 264.6h0M107.4 261.2h0M126.2 274.8h0M108.3 280.0h0M118.2 278.5h0M63.8 256.4h0M134.3 281.9h0M109.0 277.9h0M85.5 259.0h0M85.4 283.5h0M105.1 294.9h0M107.7 296.8h0M107.0 255.6h0M132.1 279.8h0M121.3 276.5h0M91.6 271.3h0M76.0 250.6h0M80.6 260.3h0M71.4 264.5h0M104.0 298.1h0M134.1 274.9h0M115.4 269.7h0M105.7 270.7h0M87.4 269.4h0M69.0 271.4h0M92.3 254.6h0M90.9 276.3h0M84.6 274.3h0M109.2 292.7h0M76.6 265.2h0M108.1 291.7h0M103.2 280.9h0M69.1 257.7h0M130.7 271.2h0M140.6 266.8h0M92.5 247.7h0M110.5 275.5h0M137.8 278.4h0M93.1 250.3h0M96.4 282.5h0M112.6 288.8h0M115.1 272.0h0M109.9 274.2h0M71.7 289.0h0M105.4 257.0h0M105.6 275.1h0M117.7 292.5h0M37.9 268.2h0M128.3 261.9h0M61.3 268.1h0M104.6 275.8h0M76.0 260.3h0M101.9 280.7h0M141.4 280.7h0M124.7 272.6h0M94.2 251.3h0M115.9 237.4h0M99.8 274.8h0M104.7 299.8h0M94.5 273.6h0M119.1 242.8h0M89.5 272.5h0M121.6 258.5h0M117.7 282.4h0M58.6 236.9h0M60.0 270.4h0M102.3 287.6h0M118.2 263.2h0M124.6 292.2h0M109.2 283.4h0M63.8 275.4h0M70.3 244.2h0M88.0 273.8h0M95.6 265.0h0M71.2 272.7h0M77.8 240.6h0M99.4 302.3h0M86.5 248.8h0M132.8 311.7h0M89.4 266.7h0M102.5 333.6h0M100.5 293.0h0M108.5 235.8h0M68.5 243.1h0M108.2 275.6h0M143.3 272.0h0M105.0 274.5h0M100.6 320.3h0M104.4 303.3h0M130.6 263.5h0M114.8 266.3h0M99.8 275.6h0M97.5 262.4h0M137.3 271.4h0M115.2 309.0h0M113.2 295.2h0M133.0 298.9h0M141.5 247.8h0M147.8 278.7h0M51.7 253.3h0M60.8 267.2h0M58.4 246.5h0M104.7 276.2h0M76.3 264.6h0M94.4 273.2h0M96.8 267.4h0M119.8 241.5h0M84.2 273.2h0M86.6 259.3h0M85.7 275.0h0M129.3 272.1h0M90.1 278.5h0M90.7 231.1h0M104.0 265.0h0M82.1 283.2h0M98.1 260.4h0M40.4 229.5h0M97.4 269.6h0M108.4 278.0h0M84.6 244.2h0M68.6 265.7h0M67.2 284.1h0M62.5 230.6h0M92.0 234.6h0M139.3 256.5h0M95.7 266.8h0M75.7 232.7h0M48.6 284.1h0M123.5 320.1h0M59.0 279.0h0M96.6 289.5h0M83.6 285.4h0M120.3 287.4h0M134.6 272.9h0M137.1 262.3h0M97.4 255.4h0M97.0 293.4h0M115.7 276.2h0M141.2 246.7h0M75.8 300.8h0M105.5 230.0h0M105.9 248.5h0M135.4 300.4h0M82.8 297.1h0M75.3 288.5h0M112.1 271.2h0M60.0 261.7h0M37.5 253.1h0M48.9 291.4h0M112.2 281.5h0M83.8 314.4h0M117.1 275.8h0M109.5 293.5h0M81.6 240.8h0M95.9 237.2h0M97.2 288.0h0M136.3 282.3h0M102.1 288.2h0M133.4 269.8h0M65.1 251.7h0M64.3 249.6h0M93.9 278.7h0M101.1 273.9h0M87.7 279.7h0M120.0 290.6h0M135.9 270.7h0M90.5 306.4h0M102.2 281.2h0M88.3 291.1h0M86.5 249.8h0M95.4 262.6h0M118.7 266.8h0M100.2 267.9h0M105.8 260.0h0M125.7 245.9h0M87.0 256.1h0M113.8 274.9h0M109.6 266.7h0M78.3 246.5h0M88.3 259.8h0M104.3 280.2h0M122.4 272.9h0M77.5 247.6h0M98.6 279.7h0M147.7 281.9h0M142.7 316.4h0M69.7 293.8h0M126.6 303.5h0M96.7 291.8h0M84.5 269.0h0M97.5 309.1h0M91.4 291.2h0M98.7 257.5h0M103.3 286.5h0M78.5 282.9h0M78.5 251.5h0M102.7 267.8h0M71.5 235.1h0M97.6 277.1h0M85.1 274.4h0M57.3 275.3h0M107.8 279.1h0M81.1 271.7h0M100.4 294.6h0M104.2 278.1h0M78.2 287.6h0M127.5 265.4h0M113.6 280.4h0M95.8 245.2h0M142.7 238.8h0M104.9 265.1h0M126.8 266.8h0M98.0 284.8h0M108.9 262.7h0M114.7 282.3h0M122.7 264.5h0M95.8 263.7h0M75.2 274.6h0M107.6 302.7h0M88.6 279.0h0M126.7 273.2h0M98.6 275.0h0M79.1 249.4h0M126.0 279.1h0M95.1 246.0h0M100.1 296.7h0M67.2 249.9h0M125.7 305.1h0M137.2 265.4h0M112.5 258.4h0M110.5 266.1h0M102.1 300.3h0M105.8 268.1h0M98.4 277.7h0M83.7 274.7h0M112.5 306.1h0M43.7 241.0h0M65.0 286.2h0M100.1 295.9h0M33.9 260.7h0M83.9 260.4h0M105.8 261.0h0M125.7 275.4h0M106.8 325.5h0M85.4 289.7h0M75.6 295.1h0M121.9 277.9h0M122.6 308.3h0M132.6 276.3h0M95.6 294.6h0M59.1 255.0h0M109.5 285.2h0M145.0 314.0h0M105.4 282.1h0M63.0 264.1h0M103.7 268.2h0M98.5 284.7h0M72.5 257.4h0M51.2 290.0h0M69.8 233.7h0M116.8 270.0h0M121.9 267.4h0M151.7 293.3h0M100.9 274.8h0M91.7 288.0h0M148.4 269.6h0M69.0 280.9h0M124.4 244.7h0M79.2 249.4h0M111.4 284.1h0M78.1 246.6h0M114.5 232.0h0M113.5 270.8h0M146.3 298.3h0M82.1 264.6h0M89.9 256.2h0M99.1 292.0h0M58.3 262.6h0M135.3 291.8h0M76.1 253.0h0M75.1 236.5h0M126.5 277.0h0M79.1 240.5h0M87.2 260.3h0M141.1 267.9h0M100.0 294.3h0M114.1 270.4h0M41.1 293.9h0M112.3 265.0h0M94.7 252.2h0M74.0 238.9h0M109.8 284.1h0M101.5 288.5h0M110.7 276.2h0M74.4 281.3h0M127.3 288.6h0M128.9 266.2h0M72.0 294.5h0M82.1 275.1h0M92.1 271.9h0M90.1 260.2h0M51.5 305.3h0M102.2 233.4h0M73.9 246.3h0M111.7 307.2h0M90.7 286.4h0M112.3 248.5h0M128.1 241.4h0M82.3 262.9h0M129.0 278.3h0M93.8 255.3h0M99.3 273.1h0M115.6 302.6h0M115.8 274.6h0" stroke="#111" stroke-width="1.7" stroke-linecap="round" fill="none"/>
<path d="M131.5 359.5h0" stroke="#111" stroke-width="1.4" stroke-linecap="round"/>
<text x="35.30" y="339.41" font-size="6.7" text-anchor="start" font-weight="normal" font-style="normal" fill="#222" stroke="#222" stroke-width="0.28"><tspan font-style="italic">P</tspan> = 0.0003</text>
<text x="35.30" y="349.11" font-size="6.7" text-anchor="start" font-weight="normal" font-style="normal" fill="#222" stroke="#222" stroke-width="0.28"><tspan font-style="italic">r</tspan> = –0.0794</text>
<text x="244.80" y="219.02" font-size="7" text-anchor="middle" font-weight="normal" font-style="normal" fill="#333" stroke="#333" stroke-width="0.28" textLength="48.0" lengthAdjust="spacingAndGlyphs">Basal subjects</text>
<line x1="188.90" y1="221.00" x2="188.90" y2="364.50" stroke="#555" stroke-width="1"/>
<line x1="188.40" y1="364.50" x2="322.00" y2="364.50" stroke="#555" stroke-width="1"/>
<line x1="186.50" y1="222.70" x2="188.70" y2="222.70" stroke="#777" stroke-width="0.8"/>
<text x="185.30" y="224.93" font-size="6.2" text-anchor="end" font-weight="normal" font-style="normal" fill="#222" stroke="#222" stroke-width="0.28">3.4</text>
<line x1="186.50" y1="245.90" x2="188.70" y2="245.90" stroke="#777" stroke-width="0.8"/>
<text x="185.30" y="248.13" font-size="6.2" text-anchor="end" font-weight="normal" font-style="normal" fill="#222" stroke="#222" stroke-width="0.28">3.3</text>
<line x1="186.50" y1="266.60" x2="188.70" y2="266.60" stroke="#777" stroke-width="0.8"/>
<text x="185.30" y="268.83" font-size="6.2" text-anchor="end" font-weight="normal" font-style="normal" fill="#222" stroke="#222" stroke-width="0.28">3.2</text>
<line x1="186.50" y1="286.70" x2="188.70" y2="286.70" stroke="#777" stroke-width="0.8"/>
<text x="185.30" y="288.93" font-size="6.2" text-anchor="end" font-weight="normal" font-style="normal" fill="#222" stroke="#222" stroke-width="0.28">3.1</text>
<line x1="186.50" y1="307.50" x2="188.70" y2="307.50" stroke="#777" stroke-width="0.8"/>
<text x="185.30" y="309.73" font-size="6.2" text-anchor="end" font-weight="normal" font-style="normal" fill="#222" stroke="#222" stroke-width="0.28">3.0</text>
<line x1="186.50" y1="327.50" x2="188.70" y2="327.50" stroke="#777" stroke-width="0.8"/>
<text x="185.30" y="329.73" font-size="6.2" text-anchor="end" font-weight="normal" font-style="normal" fill="#222" stroke="#222" stroke-width="0.28">2.9</text>
<line x1="186.50" y1="349.00" x2="188.70" y2="349.00" stroke="#777" stroke-width="0.8"/>
<text x="185.30" y="351.23" font-size="6.2" text-anchor="end" font-weight="normal" font-style="normal" fill="#222" stroke="#222" stroke-width="0.28">2.8</text>
<line x1="209.50" y1="364.50" x2="209.50" y2="366.70" stroke="#777" stroke-width="0.8"/>
<text x="209.50" y="376.56" font-size="7.1" text-anchor="middle" font-weight="normal" font-style="normal" fill="#222" stroke="#222" stroke-width="0.28">2.6</text>
<line x1="237.90" y1="364.50" x2="237.90" y2="366.70" stroke="#777" stroke-width="0.8"/>
<text x="237.90" y="376.56" font-size="7.1" text-anchor="middle" font-weight="normal" font-style="normal" fill="#222" stroke="#222" stroke-width="0.28">2.8</text>
<line x1="265.50" y1="364.50" x2="265.50" y2="366.70" stroke="#777" stroke-width="0.8"/>
<text x="265.50" y="376.56" font-size="7.1" text-anchor="middle" font-weight="normal" font-style="normal" fill="#222" stroke="#222" stroke-width="0.28">3.0</text>
<line x1="294.30" y1="364.50" x2="294.30" y2="366.70" stroke="#777" stroke-width="0.8"/>
<text x="294.30" y="376.56" font-size="7.1" text-anchor="middle" font-weight="normal" font-style="normal" fill="#222" stroke="#222" stroke-width="0.28">3.2</text>
<text x="261.40" y="386.48" font-size="8" text-anchor="middle" font-weight="normal" font-style="normal" fill="#333" stroke="#333" stroke-width="0.28" textLength="62.0" lengthAdjust="spacingAndGlyphs">ECT2 Expression</text>
<text x="168.00" y="285.24" font-size="7.9" text-anchor="middle" font-weight="normal" font-style="normal" fill="#333" stroke="#333" stroke-width="0.28" transform="rotate(-90 168.00 282.40)">E6AP Expression</text>
<line x1="188.90" y1="267.70" x2="321.00" y2="279.00" stroke="#bdbdbd" stroke-width="1"/>
<path d="M260.6 297.0h0M266.2 275.3h0M291.2 301.5h0M271.9 274.9h0M253.1 288.3h0M255.9 287.3h0M250.7 274.5h0M269.3 278.1h0M266.7 280.9h0M245.4 256.6h0M260.7 299.8h0M261.1 261.8h0M252.7 273.8h0M281.5 270.1h0M271.8 279.0h0M257.4 260.9h0M260.6 264.5h0M271.4 251.8h0M280.6 288.4h0M272.0 297.3h0M272.4 252.7h0M263.8 281.4h0M252.3 257.5h0M269.8 283.2h0M256.4 270.5h0M255.1 265.8h0M262.1 289.8h0M237.9 266.2h0M288.2 283.5h0M265.4 287.0h0M247.3 255.6h0M237.1 250.5h0M266.9 287.5h0M256.5 264.5h0M269.3 284.6h0M267.0 249.2h0M254.5 238.4h0M266.8 263.8h0M252.8 294.2h0M283.6 285.1h0M267.3 278.1h0M253.9 272.8h0M292.8 267.7h0M252.7 275.6h0M276.9 288.8h0M247.9 270.7h0M258.9 257.2h0M264.2 268.5h0M277.3 283.3h0M250.9 274.1h0M257.4 265.3h0M255.4 288.5h0M256.6 250.2h0M250.9 284.2h0M296.5 265.9h0M257.5 269.5h0M241.1 277.0h0M262.2 278.7h0M297.8 277.0h0M275.4 288.6h0M253.1 265.2h0M287.2 288.9h0M265.2 260.2h0M276.7 284.6h0M297.2 301.0h0M275.5 280.8h0M264.0 267.5h0M267.8 279.2h0M273.1 291.7h0M267.9 268.3h0M275.6 298.6h0M250.0 278.7h0M271.5 283.8h0M270.9 275.0h0M261.4 298.1h0M289.9 260.0h0M223.5 274.6h0M252.5 266.1h0M238.2 275.9h0M262.2 267.4h0M277.0 311.0h0M285.9 295.0h0M256.6 283.1h0M262.4 290.9h0M272.1 276.0h0M271.6 266.5h0M275.3 297.9h0M257.4 281.8h0M237.1 283.8h0M276.6 263.1h0M290.1 281.0h0M236.1 251.6h0M276.6 273.4h0M280.2 256.3h0M261.5 288.3h0M252.5 282.7h0M257.4 278.9h0M268.0 306.8h0M243.8 282.7h0M283.4 262.8h0M264.3 307.2h0M279.3 236.6h0M259.3 250.7h0M267.7 265.7h0M254.3 262.0h0M267.6 269.3h0M248.9 269.6h0M269.3 264.2h0M280.3 254.8h0M269.3 270.6h0M287.5 270.1h0M252.7 254.7h0M293.9 288.6h0M246.1 267.6h0M248.1 293.7h0M269.5 247.8h0M266.3 288.2h0M263.0 281.6h0M261.3 277.6h0M266.3 265.7h0M268.4 278.2h0M262.4 265.4h0M247.2 275.8h0M275.8 243.6h0M254.7 292.4h0M277.2 267.4h0M284.0 264.8h0M250.7 299.9h0M256.2 270.9h0M237.4 256.8h0M244.7 270.1h0M234.5 285.1h0M257.5 265.7h0M253.1 283.7h0M286.9 273.2h0M288.1 301.4h0M283.9 282.6h0M239.8 280.6h0M256.6 276.7h0M233.7 266.3h0M266.6 262.6h0M267.6 299.0h0M266.6 266.1h0M300.1 251.2h0M248.7 278.3h0M253.8 241.7h0M267.1 287.2h0M250.6 293.3h0M270.8 292.8h0M239.2 271.1h0M287.9 307.1h0M283.5 278.3h0M265.9 266.8h0M280.1 268.1h0M264.9 246.6h0M239.5 295.9h0M263.9 278.1h0M228.8 269.0h0M295.3 259.5h0M225.9 266.7h0M254.7 270.7h0M243.4 252.9h0M243.7 280.8h0M262.3 286.3h0M246.2 280.5h0M256.1 275.1h0M277.6 277.8h0M257.5 250.9h0M264.0 286.1h0M253.1 272.5h0M235.3 251.9h0M269.3 294.1h0M258.1 250.9h0M257.1 252.2h0M258.7 301.3h0M267.7 273.6h0M279.2 272.3h0M268.2 278.6h0M270.0 255.6h0M274.1 289.1h0M227.2 231.2h0M249.0 293.6h0M263.3 284.5h0M271.7 288.9h0M253.0 265.2h0M268.9 284.5h0M272.0 281.2h0M255.4 289.2h0M270.4 291.1h0M223.0 282.6h0M224.6 271.7h0M252.5 275.0h0M255.5 269.4h0M266.0 280.4h0M250.4 237.4h0M250.7 280.6h0M249.7 278.9h0M257.2 260.8h0M281.4 301.3h0M261.4 274.0h0M278.1 258.8h0M249.2 288.7h0M277.2 270.4h0M250.7 277.9h0M240.8 264.3h0M259.3 239.7h0M272.3 287.3h0M279.9 257.5h0M242.7 260.2h0M242.4 300.6h0M247.5 268.1h0M266.3 282.0h0M286.0 263.4h0M276.9 279.4h0M244.4 274.1h0M240.8 294.3h0M251.4 287.3h0M283.6 269.6h0M248.8 274.5h0M246.4 285.0h0M265.8 264.7h0M252.1 283.5h0M240.0 295.2h0M250.5 270.2h0M248.3 295.6h0M276.1 295.6h0M273.4 278.0h0M290.0 288.8h0M269.9 284.3h0M274.7 280.9h0M260.3 251.9h0M295.8 261.9h0M228.7 259.3h0M293.8 297.4h0M253.4 277.2h0M262.6 246.7h0M257.7 278.3h0M281.7 261.0h0M227.0 246.7h0M268.3 277.0h0M265.4 277.5h0M257.2 254.6h0M270.2 281.7h0M272.2 294.2h0M243.2 238.5h0M234.5 300.8h0M248.4 278.3h0M262.8 285.3h0M314.3 276.0h0M260.3 266.0h0M266.9 283.1h0M247.5 291.2h0M281.3 284.3h0M261.2 271.3h0M236.7 280.1h0M247.4 265.3h0M278.9 264.5h0M254.7 285.9h0M292.7 270.0h0M280.7 268.5h0M269.2 282.9h0M244.8 286.7h0M291.8 280.4h0M267.3 259.0h0M291.6 280.6h0M242.6 282.6h0M239.6 261.4h0M228.9 289.1h0M298.4 271.7h0M252.5 265.1h0M254.0 281.4h0M286.3 264.4h0M270.0 250.4h0M287.4 277.7h0M251.8 295.0h0M261.3 294.3h0M280.2 301.4h0M250.2 273.7h0M268.9 273.2h0M287.4 268.8h0M279.0 297.1h0M231.7 256.1h0M248.5 264.9h0M269.2 273.5h0M264.3 268.7h0M220.6 274.2h0M234.7 261.3h0M220.1 260.5h0M219.0 253.1h0M238.2 277.4h0M219.9 261.4h0M214.2 261.2h0M195.8 285.2h0M277.9 259.2h0M202.2 274.0h0M232.3 252.4h0M213.6 269.4h0M221.9 262.9h0M219.6 265.6h0M243.2 269.4h0M221.5 263.2h0M211.2 260.2h0M222.2 289.1h0M241.0 272.8h0M250.4 281.9h0M225.5 267.4h0M203.3 270.5h0M216.6 251.3h0M200.2 288.8h0M225.6 274.7h0M225.4 264.1h0M229.8 281.4h0M216.8 274.3h0M239.4 264.8h0M224.9 261.1h0M232.3 265.6h0M241.5 261.9h0M250.7 267.5h0M207.7 258.2h0M233.3 260.4h0M252.7 285.0h0M230.8 254.0h0M221.6 261.0h0M191.2 271.7h0M259.4 265.6h0M235.8 283.9h0M205.7 264.2h0M226.6 274.5h0M202.5 270.1h0M220.2 279.3h0M284.0 260.1h0M295.0 263.6h0M307.2 259.2h0M308.4 282.3h0M309.6 265.1h0M291.7 264.4h0M306.7 269.7h0M305.8 276.0h0M291.2 254.9h0M314.4 261.2h0M284.2 294.0h0M291.7 254.9h0M309.7 252.2h0M291.3 282.7h0" stroke="#111" stroke-width="1.9" stroke-linecap="round" fill="none"/>
<text x="195.60" y="339.94" font-size="6.5" text-anchor="start" font-weight="normal" font-style="normal" fill="#222" stroke="#222" stroke-width="0.28"><tspan font-style="italic">P</tspan> = 0.044</text>
<text x="195.60" y="349.54" font-size="6.5" text-anchor="start" font-weight="normal" font-style="normal" fill="#222" stroke="#222" stroke-width="0.28"><tspan font-style="italic">r</tspan> = –0.114</text>
<text x="369.50" y="224.90" font-size="8.6" text-anchor="middle" font-weight="normal" font-style="normal" fill="#333" stroke="#333" stroke-width="0.28">Basal</text>
<text x="428.60" y="224.90" font-size="8.6" text-anchor="middle" font-weight="normal" font-style="normal" fill="#333" stroke="#333" stroke-width="0.28">Luminal</text>
<text x="491.00" y="224.90" font-size="8.6" text-anchor="middle" font-weight="normal" font-style="normal" fill="#333" stroke="#333" stroke-width="0.28">HER2+</text>
<text x="333.50" y="264.13" font-size="7.3" text-anchor="middle" font-weight="normal" font-style="normal" fill="#333" stroke="#333" stroke-width="0.28" transform="rotate(-90 333.50 261.50)">ECT2</text>
<text x="333.50" y="326.16" font-size="7.4" text-anchor="middle" font-weight="normal" font-style="normal" fill="#333" stroke="#333" stroke-width="0.28" transform="rotate(-90 333.50 323.50)">E6AP</text>
<defs>
<filter id="bl" x="-5%" y="-5%" width="110%" height="110%"><feGaussianBlur stdDeviation="0.9"/></filter>
<filter id="bl0" x="-5%" y="-5%" width="110%" height="110%"><feGaussianBlur stdDeviation="0.6"/></filter>
<filter id="bl2" x="-5%" y="-5%" width="110%" height="110%"><feGaussianBlur stdDeviation="1.3"/></filter>
</defs>
<clipPath id="c1"><rect x="341.2" y="230.9" width="57.1" height="60.5"/></clipPath>
<filter id="tx1" x="0" y="0" width="100%" height="100%" color-interpolation-filters="sRGB"><feTurbulence type="fractalNoise" baseFrequency="0.25" numOctaves="3" seed="7" result="n"/><feColorMatrix in="n" type="matrix" values="1 0 0 0 0  1 0 0 0 0  1 0 0 0 0  0 0 0 0 1" result="g"/><feComposite in="SourceGraphic" in2="g" operator="arithmetic" k1="0" k2="1" k3="0.55" k4="-0.275"/></filter>
<g clip-path="url(#c1)"><g filter="url(#tx1)"><rect x="341.2" y="230.9" width="57.1" height="60.5" fill="#b07a54"/>
<g filter="url(#bl2)">
<ellipse cx="366.9" cy="250.3" rx="12.6" ry="6.0" fill="#d9c3bd" opacity="0.8" transform="rotate(20 366.9 250.3)"/>
<ellipse cx="382.3" cy="268.4" rx="11.4" ry="6.0" fill="#d6c0b8" opacity="0.7" transform="rotate(40 382.3 268.4)"/>
<ellipse cx="369.8" cy="284.1" rx="14.3" ry="4.2" fill="#d8c4bc" opacity="0.55" transform="rotate(0 369.8 284.1)"/>
<ellipse cx="349.8" cy="273.2" rx="11.4" ry="15.1" fill="#8f5a3a" opacity="0.5" transform="rotate(0 349.8 273.2)"/>
<ellipse cx="386.9" cy="243.0" rx="11.4" ry="12.1" fill="#9a6240" opacity="0.45" transform="rotate(0 386.9 243.0)"/>
</g><g filter="url(#bl)">
<ellipse cx="358.3" cy="289.5" rx="2.0" ry="1.1" fill="#8a5638" opacity="0.6"/>
<ellipse cx="341.8" cy="264.4" rx="1.5" ry="1.1" fill="#8a5638" opacity="0.6"/>
<ellipse cx="389.0" cy="271.4" rx="2.7" ry="2.8" fill="#8a5638" opacity="0.6"/>
<ellipse cx="379.9" cy="274.0" rx="0.9" ry="1.1" fill="#8a5638" opacity="0.6"/>
<ellipse cx="396.5" cy="249.8" rx="1.4" ry="1.9" fill="#8a5638" opacity="0.6"/>
<ellipse cx="392.7" cy="266.6" rx="1.7" ry="1.9" fill="#8a5638" opacity="0.6"/>
<ellipse cx="351.4" cy="281.3" rx="1.7" ry="1.2" fill="#8a5638" opacity="0.6"/>
<ellipse cx="391.5" cy="262.1" rx="2.1" ry="1.6" fill="#8a5638" opacity="0.6"/>
<ellipse cx="381.0" cy="235.0" rx="3.0" ry="1.8" fill="#8a5638" opacity="0.6"/>
<ellipse cx="383.8" cy="247.3" rx="1.3" ry="1.5" fill="#8a5638" opacity="0.6"/>
<ellipse cx="395.6" cy="291.0" rx="2.8" ry="2.8" fill="#8a5638" opacity="0.6"/>
<ellipse cx="350.4" cy="274.8" rx="1.8" ry="2.4" fill="#8a5638" opacity="0.6"/>
<ellipse cx="355.8" cy="239.5" rx="1.1" ry="1.5" fill="#8a5638" opacity="0.6"/>
<ellipse cx="386.9" cy="240.6" rx="2.0" ry="2.0" fill="#8a5638" opacity="0.6"/>
<ellipse cx="364.8" cy="263.8" rx="0.9" ry="1.2" fill="#8a5638" opacity="0.6"/>
<ellipse cx="354.7" cy="276.7" rx="1.8" ry="1.3" fill="#8a5638" opacity="0.6"/>
<ellipse cx="346.5" cy="259.8" rx="1.6" ry="2.0" fill="#8a5638" opacity="0.6"/>
<ellipse cx="353.9" cy="271.4" rx="2.3" ry="2.4" fill="#8a5638" opacity="0.6"/>
<ellipse cx="393.9" cy="267.4" rx="1.1" ry="1.1" fill="#8a5638" opacity="0.6"/>
<ellipse cx="360.1" cy="236.3" rx="2.0" ry="1.9" fill="#8a5638" opacity="0.6"/>
<ellipse cx="370.4" cy="287.6" rx="1.2" ry="1.4" fill="#8a5638" opacity="0.6"/>
<ellipse cx="359.7" cy="285.9" rx="2.1" ry="1.8" fill="#8a5638" opacity="0.6"/>
<ellipse cx="343.8" cy="238.3" rx="2.6" ry="1.9" fill="#8a5638" opacity="0.6"/>
<ellipse cx="376.9" cy="234.4" rx="1.7" ry="1.5" fill="#8a5638" opacity="0.6"/>
<ellipse cx="383.6" cy="274.3" rx="1.5" ry="2.1" fill="#8a5638" opacity="0.6"/>
<ellipse cx="365.9" cy="270.9" rx="1.6" ry="0.9" fill="#8a5638" opacity="0.6"/>
<ellipse cx="353.9" cy="255.0" rx="1.1" ry="1.6" fill="#8a5638" opacity="0.6"/>
<ellipse cx="397.9" cy="251.2" rx="1.7" ry="1.3" fill="#8a5638" opacity="0.6"/>
<ellipse cx="364.1" cy="272.5" rx="1.4" ry="1.3" fill="#8a5638" opacity="0.6"/>
<ellipse cx="372.2" cy="290.8" rx="1.9" ry="2.5" fill="#8a5638" opacity="0.6"/>
<ellipse cx="369.1" cy="242.6" rx="2.1" ry="2.5" fill="#8a5638" opacity="0.6"/>
<ellipse cx="357.9" cy="287.4" rx="2.3" ry="1.8" fill="#8a5638" opacity="0.6"/>
<ellipse cx="368.8" cy="238.6" rx="2.4" ry="2.3" fill="#8a5638" opacity="0.6"/>
<ellipse cx="396.9" cy="233.6" rx="2.6" ry="1.7" fill="#8a5638" opacity="0.6"/>
<ellipse cx="359.6" cy="234.2" rx="2.3" ry="1.8" fill="#8a5638" opacity="0.6"/>
<ellipse cx="380.9" cy="253.1" rx="1.9" ry="2.8" fill="#8a5638" opacity="0.6"/>
<ellipse cx="366.2" cy="231.1" rx="1.5" ry="1.6" fill="#8a5638" opacity="0.6"/>
<ellipse cx="377.6" cy="240.3" rx="2.7" ry="1.9" fill="#8a5638" opacity="0.6"/>
<ellipse cx="362.9" cy="271.5" rx="0.9" ry="1.1" fill="#8a5638" opacity="0.6"/>
<ellipse cx="391.1" cy="291.2" rx="2.0" ry="1.9" fill="#8a5638" opacity="0.6"/>
<ellipse cx="390.6" cy="266.5" rx="2.8" ry="3.2" fill="#8a5638" opacity="0.6"/>
<ellipse cx="373.5" cy="242.8" rx="1.9" ry="1.7" fill="#8a5638" opacity="0.6"/>
<ellipse cx="362.5" cy="261.8" rx="1.7" ry="1.8" fill="#8a5638" opacity="0.6"/>
<ellipse cx="369.9" cy="261.4" rx="2.0" ry="1.4" fill="#8a5638" opacity="0.6"/>
<ellipse cx="371.6" cy="247.6" rx="2.6" ry="2.7" fill="#8a5638" opacity="0.6"/>
<ellipse cx="370.7" cy="246.0" rx="2.5" ry="2.3" fill="#8a5638" opacity="0.6"/>
<ellipse cx="357.8" cy="255.2" rx="2.6" ry="2.2" fill="#8a5638" opacity="0.6"/>
<ellipse cx="382.9" cy="243.8" rx="1.7" ry="1.6" fill="#8a5638" opacity="0.6"/>
<ellipse cx="361.7" cy="276.6" rx="1.8" ry="1.9" fill="#8a5638" opacity="0.6"/>
<ellipse cx="386.0" cy="270.5" rx="2.3" ry="2.4" fill="#8a5638" opacity="0.6"/>
<ellipse cx="356.8" cy="234.6" rx="1.2" ry="2.2" fill="#8a5638" opacity="0.6"/>
<ellipse cx="371.2" cy="271.4" rx="3.0" ry="2.1" fill="#8a5638" opacity="0.6"/>
<ellipse cx="360.4" cy="237.5" rx="2.6" ry="2.3" fill="#8a5638" opacity="0.6"/>
<ellipse cx="362.3" cy="247.2" rx="2.1" ry="2.3" fill="#8a5638" opacity="0.6"/>
<ellipse cx="389.7" cy="283.4" rx="1.7" ry="1.6" fill="#8a5638" opacity="0.6"/>
<ellipse cx="396.8" cy="242.0" rx="1.2" ry="1.8" fill="#8a5638" opacity="0.6"/>
<ellipse cx="389.9" cy="251.0" rx="3.0" ry="2.3" fill="#8a5638" opacity="0.6"/>
<ellipse cx="352.2" cy="277.7" rx="1.3" ry="2.1" fill="#8a5638" opacity="0.6"/>
<ellipse cx="366.3" cy="254.9" rx="1.7" ry="1.4" fill="#8a5638" opacity="0.6"/>
<ellipse cx="363.5" cy="253.8" rx="1.1" ry="1.4" fill="#8a5638" opacity="0.6"/>
<ellipse cx="360.2" cy="272.0" rx="1.7" ry="1.5" fill="#8a5638" opacity="0.6"/>
<ellipse cx="379.7" cy="267.9" rx="1.3" ry="2.0" fill="#8a5638" opacity="0.6"/>
<ellipse cx="393.1" cy="245.0" rx="2.1" ry="1.8" fill="#8a5638" opacity="0.6"/>
<ellipse cx="343.3" cy="250.6" rx="2.2" ry="2.1" fill="#8a5638" opacity="0.6"/>
<ellipse cx="348.2" cy="243.8" rx="1.6" ry="1.5" fill="#8a5638" opacity="0.6"/>
<ellipse cx="392.7" cy="237.9" rx="2.2" ry="3.1" fill="#8a5638" opacity="0.6"/>
<ellipse cx="355.1" cy="266.4" rx="1.2" ry="2.0" fill="#8a5638" opacity="0.6"/>
<ellipse cx="387.5" cy="247.2" rx="2.3" ry="3.0" fill="#8a5638" opacity="0.6"/>
<ellipse cx="344.3" cy="253.9" rx="1.6" ry="1.8" fill="#8a5638" opacity="0.6"/>
<ellipse cx="389.3" cy="264.1" rx="2.1" ry="1.3" fill="#8a5638" opacity="0.6"/>
<ellipse cx="356.0" cy="276.4" rx="2.1" ry="1.2" fill="#d2b4a0" opacity="0.6"/>
<ellipse cx="367.6" cy="243.8" rx="0.8" ry="0.8" fill="#d2b4a0" opacity="0.6"/>
<ellipse cx="362.3" cy="257.1" rx="1.5" ry="1.9" fill="#d2b4a0" opacity="0.6"/>
<ellipse cx="370.7" cy="290.3" rx="1.2" ry="1.2" fill="#d2b4a0" opacity="0.6"/>
<ellipse cx="362.4" cy="283.0" rx="1.6" ry="1.2" fill="#d2b4a0" opacity="0.6"/>
<ellipse cx="360.4" cy="268.1" rx="1.6" ry="1.3" fill="#d2b4a0" opacity="0.6"/>
<ellipse cx="395.7" cy="253.2" rx="1.3" ry="1.2" fill="#d2b4a0" opacity="0.6"/>
<ellipse cx="359.9" cy="250.8" rx="2.0" ry="2.1" fill="#d2b4a0" opacity="0.6"/>
<ellipse cx="395.8" cy="252.7" rx="1.2" ry="1.7" fill="#d2b4a0" opacity="0.6"/>
<ellipse cx="379.2" cy="257.9" rx="1.3" ry="1.8" fill="#d2b4a0" opacity="0.6"/>
<ellipse cx="367.3" cy="281.2" rx="1.7" ry="1.1" fill="#d2b4a0" opacity="0.6"/>
<ellipse cx="353.7" cy="289.0" rx="2.2" ry="2.0" fill="#d2b4a0" opacity="0.6"/>
<ellipse cx="368.2" cy="242.9" rx="1.4" ry="1.4" fill="#d2b4a0" opacity="0.6"/>
<ellipse cx="356.0" cy="269.9" rx="1.3" ry="1.0" fill="#d2b4a0" opacity="0.6"/>
<ellipse cx="370.3" cy="249.9" rx="1.4" ry="1.8" fill="#d2b4a0" opacity="0.6"/>
<ellipse cx="376.4" cy="239.1" rx="1.6" ry="1.5" fill="#d2b4a0" opacity="0.6"/>
<ellipse cx="376.4" cy="278.1" rx="1.5" ry="1.7" fill="#d2b4a0" opacity="0.6"/>
<ellipse cx="388.6" cy="265.2" rx="1.9" ry="2.0" fill="#d2b4a0" opacity="0.6"/>
<ellipse cx="396.6" cy="280.6" rx="1.5" ry="2.0" fill="#d2b4a0" opacity="0.6"/>
<ellipse cx="343.1" cy="287.4" rx="2.7" ry="2.0" fill="#d2b4a0" opacity="0.6"/>
<ellipse cx="389.5" cy="241.6" rx="2.2" ry="1.5" fill="#d2b4a0" opacity="0.6"/>
<ellipse cx="392.0" cy="257.5" rx="2.4" ry="2.2" fill="#d2b4a0" opacity="0.6"/>
<ellipse cx="390.4" cy="243.2" rx="2.0" ry="1.6" fill="#d2b4a0" opacity="0.6"/>
<ellipse cx="360.4" cy="234.9" rx="1.2" ry="0.9" fill="#d2b4a0" opacity="0.6"/>
<ellipse cx="350.3" cy="248.6" rx="1.7" ry="1.7" fill="#d2b4a0" opacity="0.6"/>
<ellipse cx="390.9" cy="290.8" rx="1.9" ry="1.4" fill="#d2b4a0" opacity="0.6"/>
<ellipse cx="394.1" cy="279.9" rx="1.7" ry="1.5" fill="#d2b4a0" opacity="0.6"/>
<ellipse cx="394.0" cy="264.3" rx="2.3" ry="1.5" fill="#d2b4a0" opacity="0.6"/>
<ellipse cx="381.1" cy="259.0" rx="2.0" ry="1.7" fill="#d2b4a0" opacity="0.6"/>
<ellipse cx="395.8" cy="247.9" rx="2.4" ry="1.7" fill="#d2b4a0" opacity="0.6"/>
<ellipse cx="380.9" cy="254.9" rx="1.1" ry="1.7" fill="#d2b4a0" opacity="0.6"/>
<ellipse cx="362.2" cy="261.7" rx="1.2" ry="2.0" fill="#d2b4a0" opacity="0.6"/>
<ellipse cx="383.7" cy="283.9" rx="1.2" ry="1.4" fill="#d2b4a0" opacity="0.6"/>
<ellipse cx="383.0" cy="270.7" rx="1.6" ry="1.2" fill="#d2b4a0" opacity="0.6"/>
<ellipse cx="393.6" cy="259.4" rx="2.0" ry="1.4" fill="#d2b4a0" opacity="0.6"/>
<ellipse cx="382.5" cy="252.3" rx="1.6" ry="1.9" fill="#d2b4a0" opacity="0.6"/>
<ellipse cx="377.5" cy="260.1" rx="1.6" ry="1.3" fill="#d2b4a0" opacity="0.6"/>
<ellipse cx="366.2" cy="231.0" rx="1.8" ry="2.5" fill="#d2b4a0" opacity="0.6"/>
<ellipse cx="372.7" cy="267.3" rx="1.5" ry="2.2" fill="#d2b4a0" opacity="0.6"/>
<ellipse cx="357.9" cy="283.1" rx="2.3" ry="2.5" fill="#d2b4a0" opacity="0.6"/>
<ellipse cx="366.1" cy="271.6" rx="1.9" ry="1.8" fill="#d2b4a0" opacity="0.6"/>
<ellipse cx="364.7" cy="261.7" rx="1.0" ry="1.5" fill="#d2b4a0" opacity="0.6"/>
<ellipse cx="363.4" cy="239.9" rx="1.3" ry="1.0" fill="#d2b4a0" opacity="0.6"/>
<ellipse cx="368.3" cy="263.4" rx="1.6" ry="1.9" fill="#d2b4a0" opacity="0.6"/>
<ellipse cx="342.2" cy="287.2" rx="0.9" ry="1.5" fill="#d2b4a0" opacity="0.6"/>
<ellipse cx="373.7" cy="263.4" rx="1.5" ry="1.2" fill="#d2b4a0" opacity="0.6"/>
<ellipse cx="382.7" cy="244.7" rx="2.0" ry="1.7" fill="#d2b4a0" opacity="0.6"/>
<ellipse cx="368.6" cy="234.8" rx="2.1" ry="1.5" fill="#d2b4a0" opacity="0.6"/>
<ellipse cx="372.6" cy="275.3" rx="1.4" ry="1.4" fill="#d2b4a0" opacity="0.6"/>
<ellipse cx="344.1" cy="245.9" rx="1.0" ry="0.8" fill="#d2b4a0" opacity="0.6"/>
<ellipse cx="369.1" cy="246.0" rx="1.9" ry="1.8" fill="#c99a7a" opacity="0.5"/>
<ellipse cx="386.2" cy="274.6" rx="1.4" ry="1.2" fill="#c99a7a" opacity="0.5"/>
<ellipse cx="360.0" cy="237.4" rx="3.0" ry="3.3" fill="#c99a7a" opacity="0.5"/>
<ellipse cx="353.1" cy="233.1" rx="2.5" ry="3.3" fill="#c99a7a" opacity="0.5"/>
<ellipse cx="363.6" cy="249.8" rx="2.0" ry="1.6" fill="#c99a7a" opacity="0.5"/>
<ellipse cx="366.4" cy="257.3" rx="3.2" ry="2.6" fill="#c99a7a" opacity="0.5"/>
<ellipse cx="351.4" cy="255.5" rx="2.7" ry="3.1" fill="#c99a7a" opacity="0.5"/>
<ellipse cx="373.2" cy="258.8" rx="2.0" ry="2.4" fill="#c99a7a" opacity="0.5"/>
<ellipse cx="390.6" cy="235.7" rx="2.5" ry="2.6" fill="#c99a7a" opacity="0.5"/>
<ellipse cx="342.0" cy="268.8" rx="3.0" ry="2.4" fill="#c99a7a" opacity="0.5"/>
<ellipse cx="348.7" cy="249.1" rx="2.9" ry="2.1" fill="#c99a7a" opacity="0.5"/>
<ellipse cx="377.9" cy="270.6" rx="1.8" ry="2.4" fill="#c99a7a" opacity="0.5"/>
<ellipse cx="359.8" cy="267.0" rx="1.6" ry="2.2" fill="#c99a7a" opacity="0.5"/>
<ellipse cx="357.6" cy="278.7" rx="2.0" ry="2.3" fill="#c99a7a" opacity="0.5"/>
<ellipse cx="347.8" cy="275.1" rx="2.0" ry="1.1" fill="#c99a7a" opacity="0.5"/>
<ellipse cx="382.5" cy="253.2" rx="1.7" ry="1.8" fill="#c99a7a" opacity="0.5"/>
<ellipse cx="364.9" cy="238.3" rx="2.0" ry="2.9" fill="#c99a7a" opacity="0.5"/>
<ellipse cx="363.1" cy="257.2" rx="2.4" ry="1.6" fill="#c99a7a" opacity="0.5"/>
<ellipse cx="378.1" cy="281.3" rx="2.4" ry="1.8" fill="#c99a7a" opacity="0.5"/>
<ellipse cx="347.5" cy="233.5" rx="2.7" ry="1.8" fill="#c99a7a" opacity="0.5"/>
<ellipse cx="366.4" cy="277.1" rx="1.5" ry="1.9" fill="#c99a7a" opacity="0.5"/>
<ellipse cx="365.5" cy="287.7" rx="2.4" ry="2.9" fill="#c99a7a" opacity="0.5"/>
<ellipse cx="365.0" cy="232.9" rx="2.7" ry="1.9" fill="#c99a7a" opacity="0.5"/>
<ellipse cx="374.7" cy="273.9" rx="2.0" ry="1.2" fill="#c99a7a" opacity="0.5"/>
<ellipse cx="358.4" cy="274.2" rx="1.4" ry="1.2" fill="#c99a7a" opacity="0.5"/>
<ellipse cx="368.2" cy="231.9" rx="1.4" ry="1.3" fill="#c99a7a" opacity="0.5"/>
<ellipse cx="346.4" cy="242.7" rx="1.8" ry="2.7" fill="#c99a7a" opacity="0.5"/>
<ellipse cx="365.0" cy="246.1" rx="2.2" ry="1.4" fill="#c99a7a" opacity="0.5"/>
<ellipse cx="383.6" cy="236.8" rx="2.8" ry="3.1" fill="#c99a7a" opacity="0.5"/>
<ellipse cx="390.5" cy="237.0" rx="1.8" ry="1.7" fill="#c99a7a" opacity="0.5"/>
<ellipse cx="382.4" cy="247.7" rx="1.8" ry="2.2" fill="#c99a7a" opacity="0.5"/>
<ellipse cx="357.3" cy="266.3" rx="1.7" ry="2.1" fill="#c99a7a" opacity="0.5"/>
<ellipse cx="346.1" cy="279.4" rx="1.9" ry="1.7" fill="#c99a7a" opacity="0.5"/>
<ellipse cx="370.3" cy="261.4" rx="2.4" ry="2.4" fill="#c99a7a" opacity="0.5"/>
<ellipse cx="392.2" cy="247.5" rx="3.7" ry="3.8" fill="#c99a7a" opacity="0.5"/>
<ellipse cx="395.1" cy="246.5" rx="2.9" ry="2.2" fill="#c99a7a" opacity="0.5"/>
<ellipse cx="398.2" cy="270.1" rx="2.8" ry="2.0" fill="#c99a7a" opacity="0.5"/>
<ellipse cx="390.5" cy="241.5" rx="2.0" ry="1.5" fill="#c99a7a" opacity="0.5"/>
<ellipse cx="367.6" cy="274.1" rx="1.8" ry="1.3" fill="#c99a7a" opacity="0.5"/>
<ellipse cx="368.4" cy="270.2" rx="1.8" ry="2.1" fill="#c99a7a" opacity="0.5"/>
</g><g filter="url(#bl0)">
<path d="M396.0 254.6h0M365.5 253.6h0M381.0 275.7h0M378.3 255.2h0M373.7 262.1h0M351.9 288.3h0M396.3 277.9h0M397.9 259.1h0M389.1 245.5h0M383.6 274.2h0M394.8 281.3h0M391.4 247.1h0M386.2 259.7h0M359.0 253.2h0M386.8 281.9h0M389.4 271.4h0M350.9 240.3h0M373.6 243.7h0M360.4 237.1h0M350.0 274.3h0M354.0 282.2h0M360.0 282.3h0M358.5 247.1h0M363.7 231.6h0M366.1 253.9h0M341.9 283.0h0M362.6 230.9h0M396.0 244.7h0M355.6 232.4h0M346.9 273.8h0M374.4 261.4h0M355.3 248.2h0M396.6 253.4h0M397.7 284.5h0M348.3 282.2h0M342.4 273.9h0M387.4 273.0h0M372.6 280.1h0M350.0 263.6h0M356.4 255.0h0M352.1 273.8h0M373.9 278.0h0M377.1 267.2h0M393.8 280.1h0M373.6 250.6h0M394.2 253.4h0M347.0 251.1h0M381.5 287.2h0M378.1 271.0h0M394.7 278.0h0M366.6 258.8h0M384.6 250.1h0M347.5 268.4h0M387.4 245.9h0M380.2 284.9h0M348.5 239.1h0M369.4 251.1h0M395.4 291.2h0M366.6 278.9h0M377.3 241.4h0M396.7 241.5h0M345.5 258.3h0" stroke="#3a1c10" stroke-width="2.0" stroke-linecap="round" opacity="0.56" fill="none"/>
<path d="M342.2 260.0h0M364.7 288.6h0M364.8 282.3h0M385.7 266.4h0M354.8 249.3h0M369.3 254.8h0M378.1 261.5h0M359.6 267.6h0M398.1 243.2h0M360.4 231.6h0M346.6 234.3h0M365.3 281.5h0M381.0 289.3h0M389.0 266.3h0M374.3 231.7h0M363.1 246.7h0M376.6 234.9h0M372.2 253.6h0M369.3 255.4h0M347.0 275.2h0M386.9 267.1h0M347.8 267.1h0M390.9 290.6h0M384.5 233.7h0M391.4 271.1h0M357.0 286.6h0M388.4 285.1h0M355.3 265.8h0M362.8 248.8h0M384.7 268.2h0M360.1 263.8h0M394.2 265.2h0M393.4 265.1h0M397.9 232.7h0M367.5 264.3h0M382.7 289.5h0M376.8 259.8h0M377.4 263.2h0M381.5 288.2h0M342.0 250.3h0M391.2 234.5h0M386.3 232.8h0M378.2 279.3h0M354.8 254.0h0M354.1 273.5h0M371.4 267.5h0M359.8 266.4h0M395.7 278.0h0M395.5 245.9h0M370.7 254.2h0M361.0 279.5h0M351.2 264.7h0M385.4 287.5h0M342.3 247.3h0M369.4 287.6h0M350.5 281.8h0M363.9 264.0h0M394.2 234.8h0M360.0 240.3h0M348.8 249.3h0M381.2 266.0h0M348.2 279.4h0M370.2 239.6h0M388.0 280.6h0M353.6 287.7h0M387.5 244.8h0M341.3 283.4h0M388.4 236.8h0M385.0 277.7h0M377.4 281.3h0M397.4 250.7h0M388.8 286.6h0M359.1 272.3h0M380.3 282.3h0M373.6 247.6h0M355.6 263.7h0M348.9 282.9h0" stroke="#5a3020" stroke-width="1.7" stroke-linecap="round" opacity="0.49" fill="none"/>
<path d="M392.0 245.6h0M381.0 271.6h0M348.2 278.0h0M385.0 249.4h0M346.8 248.0h0M385.3 259.1h0M387.8 240.6h0M347.3 252.0h0M391.4 240.7h0M345.4 276.4h0M346.4 271.3h0M346.0 245.8h0M379.1 283.8h0M364.6 258.1h0M343.0 251.5h0M355.0 278.6h0M382.0 278.4h0M371.6 273.2h0M348.5 254.2h0M357.9 248.0h0M383.4 243.9h0M359.8 248.0h0M390.5 269.5h0M368.6 253.9h0M393.8 287.7h0M366.9 265.2h0M390.4 246.4h0M356.0 237.1h0" stroke="#e9dcd6" stroke-width="1.6" stroke-linecap="round" opacity="0.41" fill="none"/>
</g></g></g>
<rect x="341.2" y="230.9" width="57.1" height="60.5" fill="none" stroke="#444" stroke-width="1"/>
<line x1="369.40" y1="289.40" x2="395.00" y2="289.40" stroke="#1a1210" stroke-width="1.8"/>
<clipPath id="c2"><rect x="400.3" y="230.9" width="58.2" height="60.5"/></clipPath>
<filter id="tx2" x="0" y="0" width="100%" height="100%" color-interpolation-filters="sRGB"><feTurbulence type="fractalNoise" baseFrequency="0.22" numOctaves="3" seed="12" result="n"/><feColorMatrix in="n" type="matrix" values="1 0 0 0 0  1 0 0 0 0  1 0 0 0 0  0 0 0 0 1" result="g"/><feComposite in="SourceGraphic" in2="g" operator="arithmetic" k1="0" k2="1" k3="0.4" k4="-0.200"/></filter>
<g clip-path="url(#c2)"><g filter="url(#tx2)"><rect x="400.3" y="230.9" width="58.2" height="60.5" fill="#c6ac98"/>
<g filter="url(#bl2)">
<ellipse cx="410.8" cy="278.1" rx="9.3" ry="8.5" fill="#dfe0e6" opacity="0.8" transform="rotate(30 410.8 278.1)"/>
<ellipse cx="435.2" cy="252.1" rx="17.5" ry="13.3" fill="#b7957e" opacity="0.45" transform="rotate(20 435.2 252.1)"/>
<ellipse cx="443.9" cy="273.2" rx="11.6" ry="10.9" fill="#b7957e" opacity="0.4" transform="rotate(0 443.9 273.2)"/>
<ellipse cx="420.7" cy="261.1" rx="7.0" ry="18.1" fill="#e4d6cc" opacity="0.5" transform="rotate(35 420.7 261.1)"/>
</g><g filter="url(#bl)">
<ellipse cx="429.5" cy="277.4" rx="1.3" ry="1.8" fill="#a67c62" opacity="0.55"/>
<ellipse cx="428.3" cy="254.0" rx="2.7" ry="2.0" fill="#a67c62" opacity="0.55"/>
<ellipse cx="407.5" cy="269.4" rx="2.6" ry="2.3" fill="#a67c62" opacity="0.55"/>
<ellipse cx="418.2" cy="262.1" rx="1.5" ry="1.5" fill="#a67c62" opacity="0.55"/>
<ellipse cx="453.4" cy="285.7" rx="2.3" ry="3.0" fill="#a67c62" opacity="0.55"/>
<ellipse cx="408.4" cy="286.6" rx="2.4" ry="1.9" fill="#a67c62" opacity="0.55"/>
<ellipse cx="458.0" cy="232.4" rx="2.6" ry="2.1" fill="#a67c62" opacity="0.55"/>
<ellipse cx="448.5" cy="243.8" rx="2.1" ry="2.0" fill="#a67c62" opacity="0.55"/>
<ellipse cx="411.7" cy="279.3" rx="1.6" ry="2.7" fill="#a67c62" opacity="0.55"/>
<ellipse cx="413.2" cy="253.6" rx="1.8" ry="2.1" fill="#a67c62" opacity="0.55"/>
<ellipse cx="455.3" cy="269.2" rx="1.3" ry="1.2" fill="#a67c62" opacity="0.55"/>
<ellipse cx="430.5" cy="266.2" rx="2.2" ry="1.6" fill="#a67c62" opacity="0.55"/>
<ellipse cx="420.7" cy="256.2" rx="1.8" ry="1.5" fill="#a67c62" opacity="0.55"/>
<ellipse cx="431.9" cy="256.7" rx="1.3" ry="1.5" fill="#a67c62" opacity="0.55"/>
<ellipse cx="426.3" cy="290.1" rx="1.5" ry="1.4" fill="#a67c62" opacity="0.55"/>
<ellipse cx="409.6" cy="251.8" rx="2.6" ry="1.8" fill="#a67c62" opacity="0.55"/>
<ellipse cx="445.7" cy="257.6" rx="1.9" ry="1.3" fill="#a67c62" opacity="0.55"/>
<ellipse cx="404.2" cy="271.3" rx="1.9" ry="2.5" fill="#a67c62" opacity="0.55"/>
<ellipse cx="448.0" cy="249.2" rx="1.3" ry="1.4" fill="#a67c62" opacity="0.55"/>
<ellipse cx="413.4" cy="233.6" rx="1.3" ry="2.0" fill="#a67c62" opacity="0.55"/>
<ellipse cx="436.7" cy="247.8" rx="1.5" ry="1.4" fill="#a67c62" opacity="0.55"/>
<ellipse cx="410.9" cy="280.2" rx="2.0" ry="1.6" fill="#a67c62" opacity="0.55"/>
<ellipse cx="447.3" cy="266.9" rx="1.9" ry="2.1" fill="#a67c62" opacity="0.55"/>
<ellipse cx="411.4" cy="289.8" rx="2.0" ry="2.2" fill="#a67c62" opacity="0.55"/>
<ellipse cx="406.1" cy="251.1" rx="1.8" ry="1.0" fill="#a67c62" opacity="0.55"/>
<ellipse cx="426.2" cy="283.4" rx="2.4" ry="1.9" fill="#a67c62" opacity="0.55"/>
<ellipse cx="413.8" cy="273.5" rx="1.8" ry="1.4" fill="#a67c62" opacity="0.55"/>
<ellipse cx="444.6" cy="265.6" rx="2.8" ry="2.0" fill="#a67c62" opacity="0.55"/>
<ellipse cx="457.7" cy="231.5" rx="1.6" ry="2.3" fill="#a67c62" opacity="0.55"/>
<ellipse cx="422.9" cy="277.5" rx="1.3" ry="1.8" fill="#a67c62" opacity="0.55"/>
<ellipse cx="432.3" cy="276.6" rx="1.3" ry="2.1" fill="#a67c62" opacity="0.55"/>
<ellipse cx="413.0" cy="259.4" rx="1.0" ry="1.3" fill="#a67c62" opacity="0.55"/>
<ellipse cx="444.8" cy="269.4" rx="2.0" ry="1.9" fill="#a67c62" opacity="0.55"/>
<ellipse cx="412.3" cy="263.3" rx="2.2" ry="1.6" fill="#a67c62" opacity="0.55"/>
<ellipse cx="418.4" cy="251.6" rx="1.2" ry="1.5" fill="#a67c62" opacity="0.55"/>
<ellipse cx="433.9" cy="241.4" rx="1.6" ry="2.4" fill="#a67c62" opacity="0.55"/>
<ellipse cx="408.9" cy="236.7" rx="1.5" ry="1.3" fill="#a67c62" opacity="0.55"/>
<ellipse cx="451.8" cy="287.7" rx="1.8" ry="1.7" fill="#a67c62" opacity="0.55"/>
<ellipse cx="433.0" cy="246.3" rx="3.0" ry="1.7" fill="#a67c62" opacity="0.55"/>
<ellipse cx="419.5" cy="250.3" rx="1.4" ry="1.8" fill="#a67c62" opacity="0.55"/>
<ellipse cx="401.7" cy="281.5" rx="1.1" ry="1.9" fill="#a67c62" opacity="0.55"/>
<ellipse cx="416.1" cy="243.7" rx="1.2" ry="1.0" fill="#a67c62" opacity="0.55"/>
<ellipse cx="410.8" cy="246.0" rx="1.8" ry="1.7" fill="#a67c62" opacity="0.55"/>
<ellipse cx="430.9" cy="277.7" rx="1.9" ry="2.6" fill="#a67c62" opacity="0.55"/>
<ellipse cx="446.4" cy="264.9" rx="1.6" ry="1.4" fill="#a67c62" opacity="0.55"/>
<ellipse cx="451.8" cy="267.7" rx="1.7" ry="1.6" fill="#a67c62" opacity="0.55"/>
<ellipse cx="402.3" cy="273.3" rx="1.5" ry="1.8" fill="#a67c62" opacity="0.55"/>
<ellipse cx="420.7" cy="261.0" rx="1.6" ry="2.1" fill="#a67c62" opacity="0.55"/>
<ellipse cx="425.0" cy="290.3" rx="1.6" ry="1.0" fill="#a67c62" opacity="0.55"/>
<ellipse cx="416.3" cy="238.0" rx="1.4" ry="1.1" fill="#a67c62" opacity="0.55"/>
<ellipse cx="446.6" cy="236.7" rx="2.4" ry="1.5" fill="#a67c62" opacity="0.55"/>
<ellipse cx="413.0" cy="277.2" rx="2.2" ry="1.6" fill="#a67c62" opacity="0.55"/>
<ellipse cx="423.5" cy="288.8" rx="2.1" ry="2.0" fill="#a67c62" opacity="0.55"/>
<ellipse cx="412.0" cy="263.9" rx="1.8" ry="2.8" fill="#a67c62" opacity="0.55"/>
<ellipse cx="445.4" cy="276.2" rx="1.5" ry="2.4" fill="#a67c62" opacity="0.55"/>
<ellipse cx="406.3" cy="278.3" rx="1.8" ry="2.3" fill="#a67c62" opacity="0.55"/>
<ellipse cx="424.2" cy="276.3" rx="1.6" ry="1.2" fill="#a67c62" opacity="0.55"/>
<ellipse cx="447.0" cy="259.4" rx="1.9" ry="2.2" fill="#a67c62" opacity="0.55"/>
<ellipse cx="401.8" cy="260.5" rx="1.6" ry="1.4" fill="#a67c62" opacity="0.55"/>
<ellipse cx="425.0" cy="289.8" rx="3.0" ry="1.8" fill="#a67c62" opacity="0.55"/>
<ellipse cx="441.3" cy="274.9" rx="1.4" ry="2.4" fill="#a67c62" opacity="0.55"/>
<ellipse cx="425.8" cy="266.9" rx="1.9" ry="1.6" fill="#a67c62" opacity="0.55"/>
<ellipse cx="454.0" cy="247.3" rx="1.0" ry="1.6" fill="#a67c62" opacity="0.55"/>
<ellipse cx="443.4" cy="243.6" rx="1.7" ry="1.5" fill="#a67c62" opacity="0.55"/>
<ellipse cx="434.2" cy="238.8" rx="2.2" ry="1.2" fill="#a67c62" opacity="0.55"/>
<ellipse cx="424.7" cy="234.4" rx="1.8" ry="3.0" fill="#a67c62" opacity="0.55"/>
<ellipse cx="449.3" cy="275.2" rx="1.4" ry="1.2" fill="#a67c62" opacity="0.55"/>
<ellipse cx="428.9" cy="239.7" rx="2.1" ry="1.4" fill="#a67c62" opacity="0.55"/>
<ellipse cx="451.3" cy="256.3" rx="1.3" ry="1.5" fill="#a67c62" opacity="0.55"/>
<ellipse cx="438.0" cy="265.4" rx="2.3" ry="2.3" fill="#a67c62" opacity="0.55"/>
<ellipse cx="457.9" cy="243.9" rx="1.1" ry="1.1" fill="#a67c62" opacity="0.55"/>
<ellipse cx="407.5" cy="256.2" rx="1.6" ry="1.2" fill="#a67c62" opacity="0.55"/>
<ellipse cx="451.4" cy="273.1" rx="2.4" ry="1.8" fill="#a67c62" opacity="0.55"/>
<ellipse cx="442.7" cy="243.4" rx="2.0" ry="2.2" fill="#a67c62" opacity="0.55"/>
<ellipse cx="410.1" cy="251.7" rx="2.6" ry="2.8" fill="#a67c62" opacity="0.55"/>
<ellipse cx="407.2" cy="243.6" rx="1.5" ry="1.5" fill="#a67c62" opacity="0.55"/>
<ellipse cx="438.0" cy="278.1" rx="1.9" ry="2.3" fill="#a67c62" opacity="0.55"/>
<ellipse cx="438.0" cy="270.6" rx="1.9" ry="2.2" fill="#a67c62" opacity="0.55"/>
<ellipse cx="433.6" cy="238.7" rx="1.6" ry="1.6" fill="#a67c62" opacity="0.55"/>
<ellipse cx="432.9" cy="252.8" rx="1.6" ry="1.5" fill="#a67c62" opacity="0.55"/>
<ellipse cx="456.9" cy="236.4" rx="1.4" ry="1.1" fill="#a67c62" opacity="0.55"/>
<ellipse cx="426.4" cy="266.7" rx="1.4" ry="1.2" fill="#a67c62" opacity="0.55"/>
<ellipse cx="451.2" cy="287.7" rx="1.5" ry="1.4" fill="#a67c62" opacity="0.55"/>
<ellipse cx="403.7" cy="284.9" rx="1.9" ry="1.9" fill="#a67c62" opacity="0.55"/>
<ellipse cx="440.9" cy="279.1" rx="1.6" ry="1.5" fill="#a67c62" opacity="0.55"/>
<ellipse cx="446.8" cy="283.1" rx="1.7" ry="2.4" fill="#a67c62" opacity="0.55"/>
<ellipse cx="457.6" cy="274.2" rx="1.4" ry="1.3" fill="#a67c62" opacity="0.55"/>
<ellipse cx="442.9" cy="235.1" rx="2.4" ry="2.1" fill="#a67c62" opacity="0.55"/>
<ellipse cx="452.2" cy="287.3" rx="1.5" ry="2.0" fill="#a67c62" opacity="0.55"/>
<ellipse cx="424.8" cy="246.0" rx="2.6" ry="1.8" fill="#a67c62" opacity="0.55"/>
<ellipse cx="413.6" cy="251.6" rx="1.8" ry="1.9" fill="#e4d8d0" opacity="0.6"/>
<ellipse cx="447.6" cy="241.9" rx="2.0" ry="2.8" fill="#e4d8d0" opacity="0.6"/>
<ellipse cx="455.7" cy="250.7" rx="1.6" ry="1.9" fill="#e4d8d0" opacity="0.6"/>
<ellipse cx="436.6" cy="269.5" rx="1.2" ry="1.3" fill="#e4d8d0" opacity="0.6"/>
<ellipse cx="432.9" cy="241.3" rx="1.7" ry="2.0" fill="#e4d8d0" opacity="0.6"/>
<ellipse cx="430.3" cy="246.3" rx="1.7" ry="2.4" fill="#e4d8d0" opacity="0.6"/>
<ellipse cx="409.4" cy="246.8" rx="2.3" ry="1.4" fill="#e4d8d0" opacity="0.6"/>
<ellipse cx="411.5" cy="238.9" rx="1.3" ry="1.4" fill="#e4d8d0" opacity="0.6"/>
<ellipse cx="444.5" cy="255.3" rx="1.7" ry="2.2" fill="#e4d8d0" opacity="0.6"/>
<ellipse cx="452.9" cy="256.6" rx="2.1" ry="3.2" fill="#e4d8d0" opacity="0.6"/>
<ellipse cx="430.9" cy="272.2" rx="1.5" ry="1.4" fill="#e4d8d0" opacity="0.6"/>
<ellipse cx="451.8" cy="252.7" rx="2.1" ry="2.2" fill="#e4d8d0" opacity="0.6"/>
<ellipse cx="412.3" cy="241.6" rx="1.9" ry="1.7" fill="#e4d8d0" opacity="0.6"/>
<ellipse cx="400.4" cy="273.9" rx="1.3" ry="1.5" fill="#e4d8d0" opacity="0.6"/>
<ellipse cx="412.6" cy="280.7" rx="1.8" ry="1.7" fill="#e4d8d0" opacity="0.6"/>
<ellipse cx="417.2" cy="247.8" rx="2.0" ry="2.0" fill="#e4d8d0" opacity="0.6"/>
<ellipse cx="440.9" cy="284.4" rx="1.6" ry="1.5" fill="#e4d8d0" opacity="0.6"/>
<ellipse cx="409.9" cy="246.5" rx="2.3" ry="2.0" fill="#e4d8d0" opacity="0.6"/>
<ellipse cx="425.3" cy="245.5" rx="3.0" ry="2.3" fill="#e4d8d0" opacity="0.6"/>
<ellipse cx="403.0" cy="290.3" rx="1.9" ry="1.2" fill="#e4d8d0" opacity="0.6"/>
<ellipse cx="438.3" cy="252.5" rx="2.1" ry="1.9" fill="#e4d8d0" opacity="0.6"/>
<ellipse cx="411.9" cy="279.6" rx="2.8" ry="2.9" fill="#e4d8d0" opacity="0.6"/>
<ellipse cx="416.7" cy="247.4" rx="1.7" ry="1.0" fill="#e4d8d0" opacity="0.6"/>
<ellipse cx="435.9" cy="252.1" rx="1.4" ry="1.8" fill="#e4d8d0" opacity="0.6"/>
<ellipse cx="414.7" cy="240.9" rx="2.3" ry="2.1" fill="#e4d8d0" opacity="0.6"/>
<ellipse cx="410.8" cy="283.8" rx="1.1" ry="1.1" fill="#e4d8d0" opacity="0.6"/>
<ellipse cx="430.2" cy="259.7" rx="2.2" ry="2.4" fill="#e4d8d0" opacity="0.6"/>
<ellipse cx="427.6" cy="233.4" rx="1.7" ry="2.1" fill="#e4d8d0" opacity="0.6"/>
<ellipse cx="408.6" cy="267.3" rx="1.8" ry="2.0" fill="#e4d8d0" opacity="0.6"/>
<ellipse cx="449.8" cy="272.6" rx="1.5" ry="1.6" fill="#e4d8d0" opacity="0.6"/>
<ellipse cx="424.1" cy="240.3" rx="1.9" ry="1.7" fill="#e4d8d0" opacity="0.6"/>
<ellipse cx="409.9" cy="255.3" rx="1.3" ry="1.4" fill="#e4d8d0" opacity="0.6"/>
<ellipse cx="432.4" cy="255.3" rx="1.7" ry="2.1" fill="#e4d8d0" opacity="0.6"/>
<ellipse cx="454.6" cy="283.2" rx="2.9" ry="2.5" fill="#e4d8d0" opacity="0.6"/>
<ellipse cx="446.1" cy="265.5" rx="1.2" ry="1.0" fill="#e4d8d0" opacity="0.6"/>
<ellipse cx="451.2" cy="250.4" rx="1.8" ry="1.3" fill="#e4d8d0" opacity="0.6"/>
<ellipse cx="441.4" cy="279.0" rx="2.8" ry="2.1" fill="#e4d8d0" opacity="0.6"/>
<ellipse cx="408.8" cy="277.0" rx="2.0" ry="2.0" fill="#e4d8d0" opacity="0.6"/>
<ellipse cx="409.2" cy="281.2" rx="2.2" ry="1.7" fill="#e4d8d0" opacity="0.6"/>
<ellipse cx="419.0" cy="262.0" rx="2.8" ry="2.0" fill="#e4d8d0" opacity="0.6"/>
<ellipse cx="440.7" cy="255.3" rx="3.2" ry="2.9" fill="#b8947c" opacity="0.45"/>
<ellipse cx="421.4" cy="247.5" rx="3.3" ry="2.5" fill="#b8947c" opacity="0.45"/>
<ellipse cx="405.2" cy="242.7" rx="2.1" ry="3.5" fill="#b8947c" opacity="0.45"/>
<ellipse cx="431.1" cy="264.4" rx="2.2" ry="2.4" fill="#b8947c" opacity="0.45"/>
<ellipse cx="405.5" cy="286.6" rx="1.3" ry="1.8" fill="#b8947c" opacity="0.45"/>
<ellipse cx="437.6" cy="279.7" rx="3.2" ry="1.9" fill="#b8947c" opacity="0.45"/>
<ellipse cx="400.9" cy="245.2" rx="2.1" ry="2.7" fill="#b8947c" opacity="0.45"/>
<ellipse cx="445.1" cy="240.4" rx="2.8" ry="2.6" fill="#b8947c" opacity="0.45"/>
<ellipse cx="423.5" cy="259.9" rx="2.4" ry="2.2" fill="#b8947c" opacity="0.45"/>
<ellipse cx="439.9" cy="249.3" rx="2.6" ry="3.1" fill="#b8947c" opacity="0.45"/>
<ellipse cx="421.5" cy="284.2" rx="2.5" ry="2.6" fill="#b8947c" opacity="0.45"/>
<ellipse cx="447.1" cy="262.9" rx="2.1" ry="3.6" fill="#b8947c" opacity="0.45"/>
<ellipse cx="441.9" cy="260.5" rx="2.2" ry="2.5" fill="#b8947c" opacity="0.45"/>
<ellipse cx="441.8" cy="280.7" rx="2.7" ry="2.2" fill="#b8947c" opacity="0.45"/>
<ellipse cx="402.9" cy="238.4" rx="1.7" ry="1.4" fill="#b8947c" opacity="0.45"/>
<ellipse cx="415.5" cy="258.0" rx="2.0" ry="1.9" fill="#b8947c" opacity="0.45"/>
<ellipse cx="432.8" cy="257.8" rx="2.1" ry="1.8" fill="#b8947c" opacity="0.45"/>
<ellipse cx="457.1" cy="288.7" rx="3.1" ry="1.9" fill="#b8947c" opacity="0.45"/>
<ellipse cx="407.5" cy="251.8" rx="1.6" ry="2.2" fill="#b8947c" opacity="0.45"/>
<ellipse cx="448.9" cy="288.9" rx="1.5" ry="1.3" fill="#b8947c" opacity="0.45"/>
<ellipse cx="416.2" cy="234.3" rx="2.0" ry="2.5" fill="#b8947c" opacity="0.45"/>
<ellipse cx="433.0" cy="267.0" rx="2.2" ry="2.2" fill="#b8947c" opacity="0.45"/>
<ellipse cx="441.9" cy="259.4" rx="1.9" ry="1.6" fill="#b8947c" opacity="0.45"/>
<ellipse cx="427.4" cy="268.2" rx="2.2" ry="2.2" fill="#b8947c" opacity="0.45"/>
<ellipse cx="450.0" cy="280.3" rx="1.8" ry="1.9" fill="#b8947c" opacity="0.45"/>
<ellipse cx="443.2" cy="290.5" rx="1.2" ry="1.5" fill="#b8947c" opacity="0.45"/>
<ellipse cx="420.6" cy="267.1" rx="2.0" ry="1.5" fill="#b8947c" opacity="0.45"/>
<ellipse cx="453.2" cy="250.8" rx="1.6" ry="2.5" fill="#b8947c" opacity="0.45"/>
<ellipse cx="434.6" cy="280.8" rx="1.6" ry="1.8" fill="#b8947c" opacity="0.45"/>
<ellipse cx="457.6" cy="287.6" rx="1.5" ry="2.2" fill="#b8947c" opacity="0.45"/>
<ellipse cx="431.4" cy="288.8" rx="1.3" ry="2.4" fill="#b8947c" opacity="0.45"/>
<ellipse cx="415.7" cy="264.8" rx="2.1" ry="2.6" fill="#b8947c" opacity="0.45"/>
<ellipse cx="455.4" cy="284.0" rx="2.2" ry="1.3" fill="#b8947c" opacity="0.45"/>
<ellipse cx="424.5" cy="288.0" rx="1.7" ry="2.0" fill="#b8947c" opacity="0.45"/>
<ellipse cx="414.1" cy="273.8" rx="1.9" ry="3.1" fill="#b8947c" opacity="0.45"/>
<ellipse cx="404.5" cy="273.0" rx="1.6" ry="1.5" fill="#b8947c" opacity="0.45"/>
<ellipse cx="458.4" cy="279.3" rx="2.6" ry="2.8" fill="#b8947c" opacity="0.45"/>
<ellipse cx="454.2" cy="263.1" rx="1.9" ry="2.5" fill="#b8947c" opacity="0.45"/>
<ellipse cx="442.8" cy="271.4" rx="2.6" ry="2.9" fill="#b8947c" opacity="0.45"/>
<ellipse cx="449.7" cy="242.9" rx="2.0" ry="2.9" fill="#b8947c" opacity="0.45"/>
<ellipse cx="433.8" cy="239.8" rx="2.8" ry="2.3" fill="#b8947c" opacity="0.45"/>
<ellipse cx="424.3" cy="266.7" rx="1.5" ry="1.6" fill="#b8947c" opacity="0.45"/>
<ellipse cx="441.8" cy="238.9" rx="2.2" ry="2.3" fill="#b8947c" opacity="0.45"/>
<ellipse cx="451.6" cy="241.5" rx="1.7" ry="1.6" fill="#b8947c" opacity="0.45"/>
<ellipse cx="421.5" cy="232.0" rx="1.8" ry="2.3" fill="#b8947c" opacity="0.45"/>
<ellipse cx="457.4" cy="243.6" rx="1.8" ry="1.2" fill="#b8947c" opacity="0.45"/>
<ellipse cx="413.3" cy="257.5" rx="2.7" ry="2.6" fill="#b8947c" opacity="0.45"/>
<ellipse cx="428.0" cy="240.7" rx="2.4" ry="1.9" fill="#b8947c" opacity="0.45"/>
<ellipse cx="446.6" cy="242.1" rx="1.8" ry="1.6" fill="#b8947c" opacity="0.45"/>
<ellipse cx="453.7" cy="237.3" rx="2.9" ry="2.4" fill="#b8947c" opacity="0.45"/>
</g><g filter="url(#bl0)">
<path d="M407.8 267.9h0M444.4 259.5h0M427.8 272.4h0M435.8 256.5h0M411.1 258.9h0M432.3 285.1h0M458.2 264.6h0M419.4 244.4h0M437.0 275.6h0M414.7 272.7h0M458.5 254.6h0M454.9 257.3h0M438.3 283.3h0M412.1 251.8h0M457.6 234.8h0M418.1 259.7h0M443.7 269.0h0M454.4 271.4h0M400.4 235.2h0M402.4 257.0h0M401.9 262.7h0M437.1 243.1h0M450.1 255.9h0M456.2 252.5h0M436.4 263.7h0M415.6 278.1h0M400.5 246.0h0M419.0 284.3h0M429.4 233.1h0M417.7 267.8h0M447.4 237.5h0M445.7 254.5h0M430.8 256.4h0M425.8 290.8h0M453.8 286.4h0M443.1 273.3h0M408.5 233.0h0M448.7 271.6h0M437.0 249.8h0M415.8 286.6h0M431.3 232.1h0M420.1 252.0h0M404.2 290.1h0M452.9 280.2h0M400.5 256.2h0M406.8 274.8h0M447.4 278.7h0M446.4 238.2h0M401.1 236.5h0M449.3 281.1h0M430.3 245.1h0M450.2 238.2h0M419.2 231.0h0M457.5 256.0h0M445.2 279.4h0M434.1 290.6h0M445.4 287.0h0M456.4 235.9h0M444.0 244.6h0M419.2 251.6h0M457.8 234.5h0M425.6 238.6h0" stroke="#7a5440" stroke-width="1.6" stroke-linecap="round" opacity="0.38" fill="none"/>
<path d="M458.4 260.9h0M441.2 262.4h0M445.0 251.3h0M424.4 275.9h0M441.2 284.6h0M418.3 282.2h0M443.2 265.6h0M424.1 265.2h0M404.8 236.8h0M418.4 238.4h0M403.1 274.3h0M442.9 268.2h0M412.3 274.6h0M448.4 268.4h0M413.5 265.1h0M423.3 247.2h0M408.9 283.2h0M437.1 287.3h0M410.3 246.9h0M429.9 234.5h0M417.9 263.6h0M428.3 285.9h0M433.9 269.5h0M434.4 278.4h0" stroke="#8c93a8" stroke-width="1.4" stroke-linecap="round" opacity="0.34" fill="none"/>
<path d="M421.6 230.9h0M457.4 278.8h0M407.7 237.7h0M413.2 270.7h0M407.9 232.1h0M429.1 231.3h0M415.4 254.0h0M412.2 231.0h0M415.4 245.6h0M419.2 256.0h0M421.2 250.5h0M401.4 281.6h0M443.3 260.7h0M400.5 245.0h0M452.7 258.6h0M412.3 280.5h0M452.2 238.3h0M429.5 264.9h0M407.1 250.2h0M436.3 271.6h0M436.9 268.4h0M422.3 235.1h0M401.2 281.6h0M450.6 285.7h0M404.7 277.4h0M410.3 251.8h0M412.0 282.9h0M448.0 281.3h0" stroke="#efe8e4" stroke-width="1.4" stroke-linecap="round" opacity="0.38" fill="none"/>
</g></g></g>
<rect x="400.3" y="230.9" width="58.2" height="60.5" fill="none" stroke="#444" stroke-width="1"/>
<line x1="430.60" y1="289.40" x2="455.70" y2="289.40" stroke="#1a1210" stroke-width="1.8"/>
<clipPath id="c3"><rect x="461.4" y="230.9" width="59.1" height="60.5"/></clipPath>
<filter id="tx3" x="0" y="0" width="100%" height="100%" color-interpolation-filters="sRGB"><feTurbulence type="fractalNoise" baseFrequency="0.22" numOctaves="3" seed="17" result="n"/><feColorMatrix in="n" type="matrix" values="1 0 0 0 0  1 0 0 0 0  1 0 0 0 0  0 0 0 0 1" result="g"/><feComposite in="SourceGraphic" in2="g" operator="arithmetic" k1="0" k2="1" k3="0.4" k4="-0.200"/></filter>
<g clip-path="url(#c3)"><g filter="url(#tx3)"><rect x="461.4" y="230.9" width="59.1" height="60.5" fill="#c9c0b1"/>
<g filter="url(#bl2)">
<ellipse cx="504.0" cy="258.1" rx="4.1" ry="24.2" fill="#e6e7ea" opacity="0.85" transform="rotate(20 504.0 258.1)"/>
<ellipse cx="513.4" cy="267.2" rx="8.3" ry="4.8" fill="#e6e7ea" opacity="0.8" transform="rotate(-20 513.4 267.2)"/>
<ellipse cx="496.9" cy="236.9" rx="8.9" ry="4.2" fill="#e3e3e6" opacity="0.7" transform="rotate(-30 496.9 236.9)"/>
<ellipse cx="476.2" cy="264.2" rx="14.8" ry="21.2" fill="#c9bba8" opacity="0.4" transform="rotate(0 476.2 264.2)"/>
</g><g filter="url(#bl)">
<ellipse cx="483.9" cy="287.5" rx="1.7" ry="1.8" fill="#c8bba9" opacity="0.45"/>
<ellipse cx="475.2" cy="254.0" rx="1.6" ry="1.1" fill="#c8bba9" opacity="0.45"/>
<ellipse cx="469.4" cy="247.7" rx="2.5" ry="2.4" fill="#c8bba9" opacity="0.45"/>
<ellipse cx="511.8" cy="276.4" rx="1.6" ry="1.3" fill="#c8bba9" opacity="0.45"/>
<ellipse cx="475.7" cy="239.8" rx="1.2" ry="1.6" fill="#c8bba9" opacity="0.45"/>
<ellipse cx="500.2" cy="236.2" rx="1.7" ry="1.6" fill="#c8bba9" opacity="0.45"/>
<ellipse cx="463.0" cy="236.6" rx="2.4" ry="1.7" fill="#c8bba9" opacity="0.45"/>
<ellipse cx="507.1" cy="245.4" rx="2.3" ry="2.0" fill="#c8bba9" opacity="0.45"/>
<ellipse cx="517.3" cy="254.8" rx="2.0" ry="2.4" fill="#c8bba9" opacity="0.45"/>
<ellipse cx="519.8" cy="277.5" rx="2.5" ry="2.3" fill="#c8bba9" opacity="0.45"/>
<ellipse cx="518.1" cy="289.6" rx="2.1" ry="2.7" fill="#c8bba9" opacity="0.45"/>
<ellipse cx="487.4" cy="244.9" rx="2.2" ry="2.9" fill="#c8bba9" opacity="0.45"/>
<ellipse cx="490.3" cy="256.7" rx="2.8" ry="3.2" fill="#c8bba9" opacity="0.45"/>
<ellipse cx="520.4" cy="279.3" rx="1.8" ry="1.7" fill="#c8bba9" opacity="0.45"/>
<ellipse cx="517.0" cy="257.9" rx="1.3" ry="1.8" fill="#c8bba9" opacity="0.45"/>
<ellipse cx="492.9" cy="249.6" rx="1.4" ry="1.0" fill="#c8bba9" opacity="0.45"/>
<ellipse cx="471.5" cy="257.8" rx="1.8" ry="1.9" fill="#c8bba9" opacity="0.45"/>
<ellipse cx="484.4" cy="239.0" rx="1.3" ry="1.6" fill="#c8bba9" opacity="0.45"/>
<ellipse cx="478.0" cy="252.2" rx="2.0" ry="1.8" fill="#c8bba9" opacity="0.45"/>
<ellipse cx="508.4" cy="231.2" rx="1.2" ry="1.3" fill="#c8bba9" opacity="0.45"/>
<ellipse cx="485.0" cy="254.2" rx="2.8" ry="3.1" fill="#c8bba9" opacity="0.45"/>
<ellipse cx="518.3" cy="269.7" rx="2.7" ry="2.0" fill="#c8bba9" opacity="0.45"/>
<ellipse cx="463.5" cy="288.8" rx="2.3" ry="1.6" fill="#c8bba9" opacity="0.45"/>
<ellipse cx="505.4" cy="253.5" rx="2.1" ry="2.9" fill="#c8bba9" opacity="0.45"/>
<ellipse cx="483.2" cy="247.6" rx="2.3" ry="2.4" fill="#c8bba9" opacity="0.45"/>
<ellipse cx="490.2" cy="290.2" rx="1.2" ry="1.7" fill="#c8bba9" opacity="0.45"/>
<ellipse cx="465.8" cy="256.0" rx="2.9" ry="3.1" fill="#c8bba9" opacity="0.45"/>
<ellipse cx="468.3" cy="284.7" rx="2.2" ry="1.8" fill="#c8bba9" opacity="0.45"/>
<ellipse cx="514.1" cy="259.8" rx="1.3" ry="1.7" fill="#c8bba9" opacity="0.45"/>
<ellipse cx="464.3" cy="240.8" rx="2.9" ry="3.4" fill="#c8bba9" opacity="0.45"/>
<ellipse cx="470.3" cy="260.0" rx="1.6" ry="1.8" fill="#c8bba9" opacity="0.45"/>
<ellipse cx="515.9" cy="274.7" rx="2.3" ry="2.6" fill="#c8bba9" opacity="0.45"/>
<ellipse cx="517.8" cy="266.9" rx="1.6" ry="1.0" fill="#c8bba9" opacity="0.45"/>
<ellipse cx="475.6" cy="239.2" rx="2.2" ry="2.1" fill="#c8bba9" opacity="0.45"/>
<ellipse cx="489.2" cy="239.4" rx="2.5" ry="2.2" fill="#c8bba9" opacity="0.45"/>
<ellipse cx="510.7" cy="287.7" rx="3.7" ry="2.1" fill="#c8bba9" opacity="0.45"/>
<ellipse cx="484.4" cy="258.1" rx="1.9" ry="2.1" fill="#c8bba9" opacity="0.45"/>
<ellipse cx="469.6" cy="261.5" rx="3.6" ry="2.9" fill="#c8bba9" opacity="0.45"/>
<ellipse cx="467.6" cy="258.5" rx="2.5" ry="1.7" fill="#c8bba9" opacity="0.45"/>
<ellipse cx="477.9" cy="290.5" rx="1.3" ry="0.9" fill="#c8bba9" opacity="0.45"/>
<ellipse cx="505.8" cy="256.5" rx="2.4" ry="3.5" fill="#c8bba9" opacity="0.45"/>
<ellipse cx="474.8" cy="233.8" rx="1.0" ry="1.3" fill="#c8bba9" opacity="0.45"/>
<ellipse cx="518.8" cy="252.4" rx="1.8" ry="2.5" fill="#c8bba9" opacity="0.45"/>
<ellipse cx="493.3" cy="236.8" rx="2.2" ry="2.0" fill="#c8bba9" opacity="0.45"/>
<ellipse cx="510.5" cy="272.7" rx="1.1" ry="1.0" fill="#c8bba9" opacity="0.45"/>
<ellipse cx="477.0" cy="269.4" rx="3.8" ry="3.6" fill="#c8bba9" opacity="0.45"/>
<ellipse cx="468.8" cy="278.8" rx="2.5" ry="3.3" fill="#c8bba9" opacity="0.45"/>
<ellipse cx="496.8" cy="238.1" rx="1.2" ry="1.7" fill="#c8bba9" opacity="0.45"/>
<ellipse cx="498.3" cy="282.8" rx="0.9" ry="1.6" fill="#c8bba9" opacity="0.45"/>
<ellipse cx="476.9" cy="246.9" rx="2.1" ry="3.2" fill="#c8bba9" opacity="0.45"/>
<ellipse cx="514.4" cy="264.9" rx="1.5" ry="2.3" fill="#e2ddd8" opacity="0.55"/>
<ellipse cx="497.7" cy="277.5" rx="1.6" ry="1.7" fill="#e2ddd8" opacity="0.55"/>
<ellipse cx="500.0" cy="235.7" rx="1.2" ry="1.6" fill="#e2ddd8" opacity="0.55"/>
<ellipse cx="493.7" cy="252.5" rx="2.9" ry="2.3" fill="#e2ddd8" opacity="0.55"/>
<ellipse cx="494.8" cy="282.7" rx="1.7" ry="1.9" fill="#e2ddd8" opacity="0.55"/>
<ellipse cx="519.7" cy="269.5" rx="1.6" ry="1.3" fill="#e2ddd8" opacity="0.55"/>
<ellipse cx="489.4" cy="274.0" rx="1.2" ry="1.1" fill="#e2ddd8" opacity="0.55"/>
<ellipse cx="496.8" cy="280.6" rx="2.1" ry="1.7" fill="#e2ddd8" opacity="0.55"/>
<ellipse cx="476.5" cy="261.8" rx="1.7" ry="2.4" fill="#e2ddd8" opacity="0.55"/>
<ellipse cx="490.9" cy="252.4" rx="1.9" ry="2.0" fill="#e2ddd8" opacity="0.55"/>
<ellipse cx="516.8" cy="245.9" rx="1.4" ry="0.9" fill="#e2ddd8" opacity="0.55"/>
<ellipse cx="512.0" cy="272.0" rx="1.7" ry="1.9" fill="#e2ddd8" opacity="0.55"/>
<ellipse cx="470.9" cy="253.0" rx="2.7" ry="2.6" fill="#e2ddd8" opacity="0.55"/>
<ellipse cx="467.5" cy="244.0" rx="1.2" ry="1.7" fill="#e2ddd8" opacity="0.55"/>
<ellipse cx="495.3" cy="286.8" rx="2.6" ry="2.0" fill="#e2ddd8" opacity="0.55"/>
<ellipse cx="492.0" cy="247.9" rx="2.5" ry="1.9" fill="#e2ddd8" opacity="0.55"/>
<ellipse cx="461.5" cy="252.3" rx="1.6" ry="1.5" fill="#e2ddd8" opacity="0.55"/>
<ellipse cx="489.5" cy="287.0" rx="1.8" ry="1.7" fill="#e2ddd8" opacity="0.55"/>
<ellipse cx="502.8" cy="267.0" rx="2.2" ry="1.6" fill="#e2ddd8" opacity="0.55"/>
<ellipse cx="488.1" cy="281.4" rx="1.6" ry="1.7" fill="#e2ddd8" opacity="0.55"/>
<ellipse cx="514.9" cy="263.9" rx="1.6" ry="1.8" fill="#e2ddd8" opacity="0.55"/>
<ellipse cx="512.5" cy="269.9" rx="1.9" ry="2.4" fill="#e2ddd8" opacity="0.55"/>
<ellipse cx="509.3" cy="251.6" rx="1.7" ry="1.6" fill="#e2ddd8" opacity="0.55"/>
<ellipse cx="461.8" cy="234.7" rx="2.7" ry="2.2" fill="#e2ddd8" opacity="0.55"/>
<ellipse cx="513.2" cy="237.3" rx="1.7" ry="1.9" fill="#e2ddd8" opacity="0.55"/>
<ellipse cx="470.2" cy="259.0" rx="1.4" ry="1.4" fill="#e2ddd8" opacity="0.55"/>
<ellipse cx="514.9" cy="277.4" rx="1.6" ry="1.4" fill="#e2ddd8" opacity="0.55"/>
<ellipse cx="516.7" cy="260.7" rx="1.5" ry="1.1" fill="#e2ddd8" opacity="0.55"/>
<ellipse cx="519.6" cy="263.5" rx="2.6" ry="2.4" fill="#e2ddd8" opacity="0.55"/>
<ellipse cx="500.5" cy="273.8" rx="1.7" ry="1.8" fill="#e2ddd8" opacity="0.55"/>
<ellipse cx="503.6" cy="244.7" rx="1.4" ry="1.6" fill="#e2ddd8" opacity="0.55"/>
<ellipse cx="465.3" cy="247.3" rx="2.4" ry="3.2" fill="#e2ddd8" opacity="0.55"/>
<ellipse cx="479.5" cy="236.1" rx="2.4" ry="2.3" fill="#e2ddd8" opacity="0.55"/>
<ellipse cx="464.2" cy="273.5" rx="2.2" ry="2.4" fill="#e2ddd8" opacity="0.55"/>
<ellipse cx="492.2" cy="242.0" rx="1.8" ry="2.0" fill="#e2ddd8" opacity="0.55"/>
<ellipse cx="511.7" cy="265.3" rx="2.3" ry="2.0" fill="#e2ddd8" opacity="0.55"/>
<ellipse cx="484.1" cy="264.3" rx="1.1" ry="0.9" fill="#e2ddd8" opacity="0.55"/>
<ellipse cx="520.2" cy="285.8" rx="1.8" ry="2.7" fill="#e2ddd8" opacity="0.55"/>
<ellipse cx="478.1" cy="279.6" rx="2.4" ry="2.6" fill="#e2ddd8" opacity="0.55"/>
<ellipse cx="477.2" cy="281.4" rx="2.4" ry="2.5" fill="#e2ddd8" opacity="0.55"/>
</g><g filter="url(#bl0)">
<path d="M476.4 255.7h0M482.8 235.6h0M513.1 272.4h0M490.4 263.9h0M513.4 235.1h0M482.5 272.4h0M493.0 261.0h0M476.7 244.4h0M501.0 251.5h0M516.8 285.5h0M518.7 247.6h0M491.8 237.2h0M482.6 235.4h0M491.0 288.8h0M506.5 252.9h0M477.7 287.3h0M464.5 282.0h0M512.0 235.1h0M517.6 270.0h0M484.4 256.6h0M497.4 262.8h0M512.7 285.1h0M480.7 231.4h0M507.4 270.1h0M500.1 235.4h0M465.9 285.3h0M482.9 259.5h0M518.9 242.7h0M498.9 234.6h0M494.6 275.6h0M470.7 276.9h0M518.6 280.9h0M508.1 288.2h0M503.8 264.0h0M510.1 279.7h0M498.6 271.4h0M471.9 251.4h0M480.6 282.9h0M507.6 248.5h0M520.1 234.5h0M465.0 250.7h0M466.0 288.4h0M482.6 254.4h0M511.9 263.1h0M498.7 257.5h0M488.6 288.8h0M477.8 262.7h0M489.7 239.4h0M470.0 261.6h0" stroke="#a89480" stroke-width="1.5" stroke-linecap="round" opacity="0.3" fill="none"/>
<path d="M508.6 257.0h0M464.9 287.5h0M469.5 284.4h0M464.1 270.2h0M470.0 246.7h0M486.3 276.6h0M487.1 256.2h0M485.2 262.4h0M478.0 288.6h0M472.7 238.9h0M493.8 252.2h0M504.0 233.3h0M501.4 252.9h0M516.2 249.1h0M487.0 250.1h0M492.9 247.9h0M501.0 255.8h0M503.3 248.5h0M488.4 264.6h0M503.9 270.4h0M486.8 236.1h0" stroke="#9aa2b2" stroke-width="1.4" stroke-linecap="round" opacity="0.3" fill="none"/>
<path d="M468.0 239.8h0M472.3 242.0h0M500.5 251.5h0M515.1 245.1h0M475.9 242.0h0M469.9 272.2h0M495.6 246.1h0M509.3 271.8h0M486.7 267.7h0M500.2 257.6h0M466.8 253.0h0M517.3 253.5h0M499.2 236.2h0M507.1 283.2h0M483.5 253.4h0M491.7 246.2h0M473.8 238.7h0M502.0 261.7h0M517.9 289.1h0M513.1 288.0h0M510.9 232.4h0" stroke="#f0eeec" stroke-width="1.4" stroke-linecap="round" opacity="0.38" fill="none"/>
</g></g></g>
<rect x="461.4" y="230.9" width="59.1" height="60.5" fill="none" stroke="#444" stroke-width="1"/>
<line x1="490.30" y1="289.40" x2="515.30" y2="289.40" stroke="#1a1210" stroke-width="1.8"/>
<clipPath id="c4"><rect x="341.2" y="294.4" width="57.1" height="60.4"/></clipPath>
<filter id="tx4" x="0" y="0" width="100%" height="100%" color-interpolation-filters="sRGB"><feTurbulence type="fractalNoise" baseFrequency="0.22" numOctaves="3" seed="22" result="n"/><feColorMatrix in="n" type="matrix" values="1 0 0 0 0  1 0 0 0 0  1 0 0 0 0  0 0 0 0 1" result="g"/><feComposite in="SourceGraphic" in2="g" operator="arithmetic" k1="0" k2="1" k3="0.4" k4="-0.200"/></filter>
<g clip-path="url(#c4)"><g filter="url(#tx4)"><rect x="341.2" y="294.4" width="57.1" height="60.4" fill="#c6beaa"/>
<g filter="url(#bl2)">
<ellipse cx="352.6" cy="345.7" rx="11.4" ry="7.2" fill="#f2f1ef" opacity="0.85" transform="rotate(10 352.6 345.7)"/>
<ellipse cx="369.8" cy="312.5" rx="14.3" ry="4.8" fill="#eeece8" opacity="0.6" transform="rotate(-30 369.8 312.5)"/>
<ellipse cx="384.0" cy="336.7" rx="12.6" ry="13.3" fill="#c3b28e" opacity="0.45" transform="rotate(0 384.0 336.7)"/>
<ellipse cx="352.6" cy="312.5" rx="10.3" ry="12.1" fill="#c6b796" opacity="0.4" transform="rotate(0 352.6 312.5)"/>
</g><g filter="url(#bl)">
<ellipse cx="348.6" cy="353.3" rx="3.0" ry="3.0" fill="#c6b694" opacity="0.5"/>
<ellipse cx="366.1" cy="320.1" rx="1.5" ry="1.3" fill="#c6b694" opacity="0.5"/>
<ellipse cx="348.2" cy="347.0" rx="2.7" ry="2.0" fill="#c6b694" opacity="0.5"/>
<ellipse cx="374.1" cy="311.1" rx="2.2" ry="2.9" fill="#c6b694" opacity="0.5"/>
<ellipse cx="372.9" cy="314.1" rx="1.3" ry="1.4" fill="#c6b694" opacity="0.5"/>
<ellipse cx="387.9" cy="306.7" rx="1.4" ry="1.8" fill="#c6b694" opacity="0.5"/>
<ellipse cx="354.5" cy="332.7" rx="0.9" ry="1.4" fill="#c6b694" opacity="0.5"/>
<ellipse cx="369.6" cy="301.2" rx="2.6" ry="1.9" fill="#c6b694" opacity="0.5"/>
<ellipse cx="373.0" cy="319.8" rx="1.5" ry="2.6" fill="#c6b694" opacity="0.5"/>
<ellipse cx="374.3" cy="315.4" rx="1.4" ry="2.2" fill="#c6b694" opacity="0.5"/>
<ellipse cx="389.2" cy="317.3" rx="2.4" ry="1.9" fill="#c6b694" opacity="0.5"/>
<ellipse cx="343.1" cy="338.8" rx="1.6" ry="1.1" fill="#c6b694" opacity="0.5"/>
<ellipse cx="342.4" cy="304.3" rx="2.5" ry="3.1" fill="#c6b694" opacity="0.5"/>
<ellipse cx="378.9" cy="325.9" rx="1.6" ry="1.2" fill="#c6b694" opacity="0.5"/>
<ellipse cx="390.2" cy="296.9" rx="2.7" ry="2.2" fill="#c6b694" opacity="0.5"/>
<ellipse cx="364.4" cy="298.9" rx="1.9" ry="2.5" fill="#c6b694" opacity="0.5"/>
<ellipse cx="351.1" cy="336.1" rx="2.6" ry="2.9" fill="#c6b694" opacity="0.5"/>
<ellipse cx="358.1" cy="335.7" rx="2.4" ry="2.3" fill="#c6b694" opacity="0.5"/>
<ellipse cx="384.8" cy="330.6" rx="2.1" ry="2.1" fill="#c6b694" opacity="0.5"/>
<ellipse cx="395.4" cy="314.8" rx="3.0" ry="3.2" fill="#c6b694" opacity="0.5"/>
<ellipse cx="387.0" cy="321.9" rx="2.3" ry="2.1" fill="#c6b694" opacity="0.5"/>
<ellipse cx="372.0" cy="347.2" rx="0.9" ry="1.2" fill="#c6b694" opacity="0.5"/>
<ellipse cx="346.8" cy="345.3" rx="1.7" ry="1.1" fill="#c6b694" opacity="0.5"/>
<ellipse cx="348.9" cy="339.9" rx="2.3" ry="2.6" fill="#c6b694" opacity="0.5"/>
<ellipse cx="372.8" cy="351.7" rx="2.2" ry="2.1" fill="#c6b694" opacity="0.5"/>
<ellipse cx="364.7" cy="336.1" rx="1.6" ry="1.8" fill="#c6b694" opacity="0.5"/>
<ellipse cx="384.7" cy="327.2" rx="1.4" ry="1.4" fill="#c6b694" opacity="0.5"/>
<ellipse cx="372.0" cy="347.6" rx="2.2" ry="3.2" fill="#c6b694" opacity="0.5"/>
<ellipse cx="387.3" cy="323.4" rx="2.2" ry="2.5" fill="#c6b694" opacity="0.5"/>
<ellipse cx="370.6" cy="338.3" rx="1.8" ry="2.4" fill="#c6b694" opacity="0.5"/>
<ellipse cx="363.6" cy="319.7" rx="1.6" ry="1.8" fill="#c6b694" opacity="0.5"/>
<ellipse cx="361.9" cy="334.4" rx="1.5" ry="2.7" fill="#c6b694" opacity="0.5"/>
<ellipse cx="357.6" cy="327.4" rx="2.4" ry="2.2" fill="#c6b694" opacity="0.5"/>
<ellipse cx="352.9" cy="303.6" rx="2.8" ry="2.0" fill="#c6b694" opacity="0.5"/>
<ellipse cx="356.7" cy="325.3" rx="1.3" ry="1.9" fill="#c6b694" opacity="0.5"/>
<ellipse cx="366.6" cy="308.5" rx="1.7" ry="2.3" fill="#c6b694" opacity="0.5"/>
<ellipse cx="378.2" cy="299.8" rx="1.9" ry="2.5" fill="#c6b694" opacity="0.5"/>
<ellipse cx="376.4" cy="349.3" rx="1.9" ry="1.9" fill="#c6b694" opacity="0.5"/>
<ellipse cx="381.4" cy="343.3" rx="1.2" ry="1.1" fill="#c6b694" opacity="0.5"/>
<ellipse cx="367.9" cy="347.1" rx="2.5" ry="2.6" fill="#c6b694" opacity="0.5"/>
<ellipse cx="357.1" cy="331.8" rx="1.8" ry="1.9" fill="#c6b694" opacity="0.5"/>
<ellipse cx="379.3" cy="304.6" rx="2.2" ry="2.4" fill="#c6b694" opacity="0.5"/>
<ellipse cx="389.7" cy="353.9" rx="2.4" ry="1.3" fill="#c6b694" opacity="0.5"/>
<ellipse cx="395.7" cy="306.5" rx="1.5" ry="1.0" fill="#c6b694" opacity="0.5"/>
<ellipse cx="384.1" cy="294.8" rx="1.3" ry="1.1" fill="#c6b694" opacity="0.5"/>
<ellipse cx="368.1" cy="315.3" rx="2.5" ry="3.2" fill="#c6b694" opacity="0.5"/>
<ellipse cx="389.4" cy="304.7" rx="3.5" ry="3.0" fill="#c6b694" opacity="0.5"/>
<ellipse cx="371.3" cy="304.7" rx="1.5" ry="1.5" fill="#c6b694" opacity="0.5"/>
<ellipse cx="376.3" cy="314.0" rx="2.7" ry="3.1" fill="#c6b694" opacity="0.5"/>
<ellipse cx="346.2" cy="345.6" rx="2.3" ry="1.8" fill="#c6b694" opacity="0.5"/>
<ellipse cx="380.9" cy="318.9" rx="2.5" ry="1.8" fill="#ebe9e4" opacity="0.6"/>
<ellipse cx="358.4" cy="339.8" rx="1.3" ry="1.3" fill="#ebe9e4" opacity="0.6"/>
<ellipse cx="382.0" cy="314.3" rx="1.9" ry="2.3" fill="#ebe9e4" opacity="0.6"/>
<ellipse cx="345.4" cy="325.2" rx="1.7" ry="1.4" fill="#ebe9e4" opacity="0.6"/>
<ellipse cx="353.0" cy="308.4" rx="2.4" ry="3.2" fill="#ebe9e4" opacity="0.6"/>
<ellipse cx="383.2" cy="310.6" rx="1.5" ry="2.6" fill="#ebe9e4" opacity="0.6"/>
<ellipse cx="377.2" cy="301.2" rx="2.0" ry="2.2" fill="#ebe9e4" opacity="0.6"/>
<ellipse cx="357.7" cy="349.4" rx="1.6" ry="2.6" fill="#ebe9e4" opacity="0.6"/>
<ellipse cx="391.7" cy="312.8" rx="2.8" ry="2.9" fill="#ebe9e4" opacity="0.6"/>
<ellipse cx="345.2" cy="344.9" rx="1.9" ry="1.8" fill="#ebe9e4" opacity="0.6"/>
<ellipse cx="367.8" cy="348.9" rx="3.2" ry="3.2" fill="#ebe9e4" opacity="0.6"/>
<ellipse cx="373.9" cy="338.8" rx="2.1" ry="2.3" fill="#ebe9e4" opacity="0.6"/>
<ellipse cx="370.2" cy="307.4" rx="2.0" ry="2.0" fill="#ebe9e4" opacity="0.6"/>
<ellipse cx="381.0" cy="336.0" rx="2.1" ry="2.2" fill="#ebe9e4" opacity="0.6"/>
<ellipse cx="341.6" cy="321.2" rx="2.3" ry="2.7" fill="#ebe9e4" opacity="0.6"/>
<ellipse cx="345.6" cy="309.8" rx="1.8" ry="3.0" fill="#ebe9e4" opacity="0.6"/>
<ellipse cx="386.8" cy="346.8" rx="2.0" ry="1.5" fill="#ebe9e4" opacity="0.6"/>
<ellipse cx="366.9" cy="351.8" rx="2.3" ry="1.6" fill="#ebe9e4" opacity="0.6"/>
<ellipse cx="341.5" cy="310.4" rx="1.6" ry="1.2" fill="#ebe9e4" opacity="0.6"/>
<ellipse cx="395.9" cy="335.4" rx="1.7" ry="1.3" fill="#ebe9e4" opacity="0.6"/>
<ellipse cx="371.3" cy="299.0" rx="3.0" ry="2.7" fill="#ebe9e4" opacity="0.6"/>
<ellipse cx="380.6" cy="314.9" rx="1.3" ry="1.6" fill="#ebe9e4" opacity="0.6"/>
<ellipse cx="373.4" cy="302.5" rx="1.6" ry="1.1" fill="#ebe9e4" opacity="0.6"/>
<ellipse cx="343.8" cy="321.6" rx="1.7" ry="1.1" fill="#ebe9e4" opacity="0.6"/>
<ellipse cx="384.0" cy="342.4" rx="1.7" ry="2.2" fill="#ebe9e4" opacity="0.6"/>
<ellipse cx="376.4" cy="317.8" rx="2.4" ry="3.5" fill="#ebe9e4" opacity="0.6"/>
<ellipse cx="358.9" cy="319.9" rx="1.9" ry="2.1" fill="#ebe9e4" opacity="0.6"/>
<ellipse cx="380.5" cy="305.4" rx="3.2" ry="2.8" fill="#ebe9e4" opacity="0.6"/>
<ellipse cx="389.7" cy="300.9" rx="2.5" ry="2.5" fill="#ebe9e4" opacity="0.6"/>
<ellipse cx="379.6" cy="298.2" rx="1.7" ry="2.1" fill="#ebe9e4" opacity="0.6"/>
<ellipse cx="363.9" cy="321.9" rx="2.2" ry="2.5" fill="#ebe9e4" opacity="0.6"/>
<ellipse cx="357.3" cy="311.0" rx="1.1" ry="1.8" fill="#ebe9e4" opacity="0.6"/>
<ellipse cx="393.7" cy="302.0" rx="2.2" ry="2.2" fill="#ebe9e4" opacity="0.6"/>
<ellipse cx="397.1" cy="354.3" rx="1.2" ry="1.4" fill="#ebe9e4" opacity="0.6"/>
<ellipse cx="369.9" cy="295.3" rx="1.6" ry="1.8" fill="#ebe9e4" opacity="0.6"/>
<ellipse cx="350.0" cy="301.8" rx="1.3" ry="1.3" fill="#ebe9e4" opacity="0.6"/>
<ellipse cx="347.1" cy="342.7" rx="1.9" ry="3.1" fill="#ebe9e4" opacity="0.6"/>
<ellipse cx="389.4" cy="333.7" rx="2.0" ry="1.3" fill="#ebe9e4" opacity="0.6"/>
<ellipse cx="343.9" cy="352.1" rx="1.9" ry="1.8" fill="#ebe9e4" opacity="0.6"/>
<ellipse cx="343.9" cy="300.1" rx="1.8" ry="2.5" fill="#ebe9e4" opacity="0.6"/>
</g><g filter="url(#bl0)">
<path d="M379.6 308.4h0M368.4 307.2h0M391.0 332.5h0M380.7 331.9h0M344.7 347.9h0M385.7 325.5h0M374.9 324.1h0M384.3 326.6h0M357.1 325.6h0M353.4 294.7h0M370.9 347.0h0M382.3 307.0h0M370.2 329.6h0M374.3 322.2h0M370.3 336.0h0M391.5 325.5h0M386.0 335.5h0M348.0 310.0h0M359.1 315.8h0M369.2 312.2h0M398.2 338.7h0M362.4 336.7h0M394.0 304.0h0M377.1 352.3h0M362.6 347.4h0M387.1 313.7h0M349.4 343.1h0M364.9 315.6h0M367.7 338.4h0M392.3 349.8h0M385.0 305.0h0M362.3 294.8h0M352.7 315.0h0M351.3 323.2h0M348.7 333.8h0M364.7 309.3h0M380.4 314.2h0M342.6 345.0h0M384.3 347.4h0M358.0 310.3h0M381.0 303.2h0M396.4 333.9h0M372.5 297.5h0M357.4 320.0h0M397.2 303.1h0M375.0 299.1h0M396.7 339.5h0M387.6 339.7h0M351.5 309.0h0M343.4 327.7h0M345.8 305.8h0M351.1 350.0h0M386.3 311.7h0M396.6 304.0h0M349.2 317.4h0M387.2 300.4h0" stroke="#7f8b9c" stroke-width="1.6" stroke-linecap="round" opacity="0.41" fill="none"/>
<path d="M386.2 327.3h0M386.8 314.7h0M343.6 300.4h0M382.5 325.0h0M384.8 306.4h0M357.1 307.2h0M389.8 336.9h0M350.0 338.2h0M343.4 322.6h0M355.9 340.6h0M382.2 335.7h0M352.5 297.0h0M377.7 336.4h0M341.7 345.0h0M392.4 316.2h0M370.8 333.7h0M394.1 333.6h0M370.6 340.8h0M369.2 296.4h0M372.5 319.4h0M360.3 318.2h0M353.8 313.2h0M383.9 347.9h0M367.3 345.5h0M348.4 325.6h0M383.7 341.6h0M363.3 304.5h0M396.1 331.2h0M378.5 315.3h0M347.7 328.9h0M364.3 348.2h0M379.1 340.0h0M373.7 339.9h0M348.8 354.6h0M374.4 330.5h0M352.0 299.9h0M381.5 338.3h0M379.3 309.8h0M369.0 340.8h0M377.8 349.3h0M346.3 341.2h0M342.0 332.2h0" stroke="#a8946a" stroke-width="1.5" stroke-linecap="round" opacity="0.34" fill="none"/>
<path d="M371.7 298.9h0M365.1 334.7h0M390.7 299.1h0M370.3 342.4h0M347.9 348.3h0M394.8 315.1h0M353.1 303.2h0M353.7 319.7h0M381.6 351.0h0M373.1 352.0h0M365.6 334.1h0M341.2 319.7h0M342.5 302.4h0M387.4 301.3h0M358.3 326.2h0M371.2 296.2h0M347.5 335.3h0M364.3 300.0h0M368.5 316.9h0M398.3 297.3h0M351.5 298.9h0M372.7 352.4h0M385.6 301.2h0M372.0 316.0h0M397.0 337.1h0M375.7 309.9h0M366.1 326.2h0M362.8 328.5h0" stroke="#f6f5f2" stroke-width="1.5" stroke-linecap="round" opacity="0.41" fill="none"/>
</g></g></g>
<rect x="341.2" y="294.4" width="57.1" height="60.4" fill="none" stroke="#444" stroke-width="1"/>
<line x1="369.60" y1="352.20" x2="394.20" y2="352.20" stroke="#1a1210" stroke-width="1.8"/>
<clipPath id="c5"><rect x="400.3" y="294.4" width="58.2" height="60.4"/></clipPath>
<filter id="tx5" x="0" y="0" width="100%" height="100%" color-interpolation-filters="sRGB"><feTurbulence type="fractalNoise" baseFrequency="0.22" numOctaves="3" seed="27" result="n"/><feColorMatrix in="n" type="matrix" values="1 0 0 0 0  1 0 0 0 0  1 0 0 0 0  0 0 0 0 1" result="g"/><feComposite in="SourceGraphic" in2="g" operator="arithmetic" k1="0" k2="1" k3="0.4" k4="-0.200"/></filter>
<g clip-path="url(#c5)"><g filter="url(#tx5)"><rect x="400.3" y="294.4" width="58.2" height="60.4" fill="#c4a462"/>
<g filter="url(#bl2)">
<ellipse cx="417.8" cy="307.7" rx="11.6" ry="5.4" fill="#f3f1ec" opacity="0.9" transform="rotate(25 417.8 307.7)"/>
<ellipse cx="423.6" cy="331.8" rx="4.7" ry="18.1" fill="#f3f1ec" opacity="0.9" transform="rotate(-25 423.6 331.8)"/>
<ellipse cx="407.3" cy="345.7" rx="8.1" ry="7.2" fill="#efece4" opacity="0.8" transform="rotate(0 407.3 345.7)"/>
<ellipse cx="452.7" cy="345.7" rx="5.8" ry="7.2" fill="#f0ede6" opacity="0.75" transform="rotate(0 452.7 345.7)"/>
<ellipse cx="441.0" cy="315.5" rx="14.5" ry="15.1" fill="#bf9c55" opacity="0.5" transform="rotate(0 441.0 315.5)"/>
</g><g filter="url(#bl)">
<ellipse cx="405.5" cy="319.8" rx="2.8" ry="3.0" fill="#b8964e" opacity="0.55"/>
<ellipse cx="444.2" cy="343.5" rx="2.4" ry="2.9" fill="#b8964e" opacity="0.55"/>
<ellipse cx="411.9" cy="331.7" rx="1.1" ry="1.1" fill="#b8964e" opacity="0.55"/>
<ellipse cx="420.8" cy="339.0" rx="1.6" ry="1.0" fill="#b8964e" opacity="0.55"/>
<ellipse cx="455.6" cy="351.7" rx="2.8" ry="3.0" fill="#b8964e" opacity="0.55"/>
<ellipse cx="426.4" cy="346.1" rx="1.6" ry="1.5" fill="#b8964e" opacity="0.55"/>
<ellipse cx="445.5" cy="303.4" rx="1.5" ry="1.5" fill="#b8964e" opacity="0.55"/>
<ellipse cx="440.3" cy="305.2" rx="2.9" ry="1.9" fill="#b8964e" opacity="0.55"/>
<ellipse cx="448.0" cy="352.4" rx="2.4" ry="2.3" fill="#b8964e" opacity="0.55"/>
<ellipse cx="427.5" cy="301.9" rx="1.2" ry="1.1" fill="#b8964e" opacity="0.55"/>
<ellipse cx="452.7" cy="316.3" rx="2.9" ry="3.5" fill="#b8964e" opacity="0.55"/>
<ellipse cx="452.5" cy="337.4" rx="1.7" ry="2.1" fill="#b8964e" opacity="0.55"/>
<ellipse cx="418.4" cy="344.4" rx="1.5" ry="1.2" fill="#b8964e" opacity="0.55"/>
<ellipse cx="424.8" cy="327.2" rx="3.8" ry="2.7" fill="#b8964e" opacity="0.55"/>
<ellipse cx="456.0" cy="352.1" rx="2.3" ry="1.8" fill="#b8964e" opacity="0.55"/>
<ellipse cx="446.2" cy="323.7" rx="3.3" ry="2.8" fill="#b8964e" opacity="0.55"/>
<ellipse cx="440.8" cy="327.6" rx="1.5" ry="1.1" fill="#b8964e" opacity="0.55"/>
<ellipse cx="410.8" cy="353.6" rx="1.5" ry="1.9" fill="#b8964e" opacity="0.55"/>
<ellipse cx="403.8" cy="331.1" rx="1.4" ry="1.8" fill="#b8964e" opacity="0.55"/>
<ellipse cx="454.2" cy="295.2" rx="2.6" ry="2.5" fill="#b8964e" opacity="0.55"/>
<ellipse cx="424.8" cy="295.1" rx="1.9" ry="1.7" fill="#b8964e" opacity="0.55"/>
<ellipse cx="458.2" cy="314.9" rx="3.2" ry="3.2" fill="#b8964e" opacity="0.55"/>
<ellipse cx="428.9" cy="324.6" rx="2.1" ry="2.3" fill="#b8964e" opacity="0.55"/>
<ellipse cx="401.1" cy="324.1" rx="2.6" ry="2.6" fill="#b8964e" opacity="0.55"/>
<ellipse cx="423.9" cy="324.4" rx="1.7" ry="1.5" fill="#b8964e" opacity="0.55"/>
<ellipse cx="410.1" cy="347.4" rx="1.1" ry="1.4" fill="#b8964e" opacity="0.55"/>
<ellipse cx="458.3" cy="302.8" rx="2.1" ry="1.6" fill="#b8964e" opacity="0.55"/>
<ellipse cx="454.4" cy="295.5" rx="1.5" ry="2.1" fill="#b8964e" opacity="0.55"/>
<ellipse cx="406.2" cy="335.1" rx="3.6" ry="3.3" fill="#b8964e" opacity="0.55"/>
<ellipse cx="403.2" cy="323.6" rx="1.3" ry="1.4" fill="#b8964e" opacity="0.55"/>
<ellipse cx="443.1" cy="329.1" rx="1.3" ry="1.1" fill="#b8964e" opacity="0.55"/>
<ellipse cx="454.2" cy="340.0" rx="2.7" ry="2.7" fill="#b8964e" opacity="0.55"/>
<ellipse cx="412.3" cy="309.8" rx="1.8" ry="1.7" fill="#b8964e" opacity="0.55"/>
<ellipse cx="430.5" cy="341.1" rx="2.0" ry="2.4" fill="#b8964e" opacity="0.55"/>
<ellipse cx="455.5" cy="297.4" rx="1.7" ry="2.4" fill="#b8964e" opacity="0.55"/>
<ellipse cx="425.4" cy="345.1" rx="3.1" ry="2.6" fill="#b8964e" opacity="0.55"/>
<ellipse cx="435.0" cy="353.3" rx="2.4" ry="2.0" fill="#b8964e" opacity="0.55"/>
<ellipse cx="453.9" cy="298.2" rx="3.6" ry="3.1" fill="#b8964e" opacity="0.55"/>
<ellipse cx="455.5" cy="331.1" rx="2.7" ry="2.1" fill="#b8964e" opacity="0.55"/>
<ellipse cx="404.9" cy="339.3" rx="1.6" ry="2.1" fill="#b8964e" opacity="0.55"/>
<ellipse cx="415.7" cy="310.2" rx="3.0" ry="3.2" fill="#b8964e" opacity="0.55"/>
<ellipse cx="447.8" cy="320.8" rx="2.0" ry="1.9" fill="#b8964e" opacity="0.55"/>
<ellipse cx="445.6" cy="347.8" rx="2.0" ry="1.5" fill="#b8964e" opacity="0.55"/>
<ellipse cx="400.8" cy="335.8" rx="2.4" ry="3.4" fill="#b8964e" opacity="0.55"/>
<ellipse cx="442.1" cy="313.8" rx="3.1" ry="2.0" fill="#b8964e" opacity="0.55"/>
<ellipse cx="453.4" cy="320.6" rx="1.6" ry="1.8" fill="#b8964e" opacity="0.55"/>
<ellipse cx="431.0" cy="312.2" rx="1.5" ry="1.6" fill="#b8964e" opacity="0.55"/>
<ellipse cx="440.8" cy="318.3" rx="2.0" ry="2.1" fill="#b8964e" opacity="0.55"/>
<ellipse cx="401.4" cy="327.9" rx="1.8" ry="2.2" fill="#b8964e" opacity="0.55"/>
<ellipse cx="400.5" cy="296.6" rx="3.6" ry="2.2" fill="#b8964e" opacity="0.55"/>
<ellipse cx="438.5" cy="325.1" rx="2.7" ry="2.4" fill="#b8964e" opacity="0.55"/>
<ellipse cx="455.1" cy="335.6" rx="2.2" ry="3.4" fill="#b8964e" opacity="0.55"/>
<ellipse cx="418.9" cy="350.0" rx="3.4" ry="3.1" fill="#b8964e" opacity="0.55"/>
<ellipse cx="423.0" cy="326.0" rx="1.9" ry="2.7" fill="#b8964e" opacity="0.55"/>
<ellipse cx="433.4" cy="337.8" rx="2.0" ry="2.1" fill="#b8964e" opacity="0.55"/>
<ellipse cx="422.5" cy="335.6" rx="2.6" ry="2.9" fill="#b8964e" opacity="0.55"/>
<ellipse cx="428.5" cy="345.1" rx="1.5" ry="1.6" fill="#b8964e" opacity="0.55"/>
<ellipse cx="438.3" cy="303.7" rx="3.0" ry="3.4" fill="#b8964e" opacity="0.55"/>
<ellipse cx="424.3" cy="296.0" rx="2.0" ry="1.5" fill="#b8964e" opacity="0.55"/>
<ellipse cx="457.3" cy="329.9" rx="1.5" ry="1.8" fill="#b8964e" opacity="0.55"/>
<ellipse cx="419.9" cy="333.6" rx="1.4" ry="1.2" fill="#e6dcc0" opacity="0.55"/>
<ellipse cx="433.2" cy="336.0" rx="2.2" ry="2.1" fill="#e6dcc0" opacity="0.55"/>
<ellipse cx="405.2" cy="334.1" rx="2.2" ry="2.4" fill="#e6dcc0" opacity="0.55"/>
<ellipse cx="420.8" cy="345.7" rx="1.7" ry="1.1" fill="#e6dcc0" opacity="0.55"/>
<ellipse cx="448.3" cy="321.3" rx="1.8" ry="1.7" fill="#e6dcc0" opacity="0.55"/>
<ellipse cx="413.7" cy="336.2" rx="1.5" ry="1.8" fill="#e6dcc0" opacity="0.55"/>
<ellipse cx="454.5" cy="311.5" rx="1.7" ry="1.5" fill="#e6dcc0" opacity="0.55"/>
<ellipse cx="455.5" cy="353.8" rx="1.2" ry="1.1" fill="#e6dcc0" opacity="0.55"/>
<ellipse cx="426.2" cy="311.5" rx="2.6" ry="1.6" fill="#e6dcc0" opacity="0.55"/>
<ellipse cx="401.8" cy="301.2" rx="1.3" ry="1.6" fill="#e6dcc0" opacity="0.55"/>
<ellipse cx="421.5" cy="338.3" rx="3.3" ry="2.4" fill="#e6dcc0" opacity="0.55"/>
<ellipse cx="437.7" cy="302.4" rx="2.5" ry="2.5" fill="#e6dcc0" opacity="0.55"/>
<ellipse cx="408.5" cy="304.4" rx="2.8" ry="2.9" fill="#e6dcc0" opacity="0.55"/>
<ellipse cx="404.2" cy="331.8" rx="1.4" ry="1.4" fill="#e6dcc0" opacity="0.55"/>
<ellipse cx="419.0" cy="294.6" rx="2.9" ry="2.4" fill="#e6dcc0" opacity="0.55"/>
<ellipse cx="421.6" cy="314.3" rx="3.0" ry="2.1" fill="#e6dcc0" opacity="0.55"/>
<ellipse cx="413.2" cy="354.6" rx="1.7" ry="1.6" fill="#e6dcc0" opacity="0.55"/>
<ellipse cx="442.5" cy="353.7" rx="2.3" ry="1.7" fill="#e6dcc0" opacity="0.55"/>
<ellipse cx="424.9" cy="342.9" rx="3.0" ry="2.9" fill="#e6dcc0" opacity="0.55"/>
<ellipse cx="448.4" cy="349.9" rx="2.6" ry="2.4" fill="#e6dcc0" opacity="0.55"/>
<ellipse cx="400.7" cy="326.2" rx="1.2" ry="2.2" fill="#e6dcc0" opacity="0.55"/>
<ellipse cx="418.2" cy="350.7" rx="1.1" ry="1.4" fill="#e6dcc0" opacity="0.55"/>
<ellipse cx="439.5" cy="335.0" rx="1.4" ry="2.3" fill="#e6dcc0" opacity="0.55"/>
<ellipse cx="444.6" cy="323.3" rx="2.3" ry="2.0" fill="#e6dcc0" opacity="0.55"/>
<ellipse cx="428.0" cy="323.7" rx="2.5" ry="2.0" fill="#e6dcc0" opacity="0.55"/>
<ellipse cx="445.5" cy="317.1" rx="2.0" ry="2.7" fill="#e6dcc0" opacity="0.55"/>
<ellipse cx="455.0" cy="341.4" rx="1.6" ry="1.7" fill="#e6dcc0" opacity="0.55"/>
<ellipse cx="435.5" cy="296.4" rx="2.5" ry="1.5" fill="#e6dcc0" opacity="0.55"/>
<ellipse cx="452.2" cy="329.0" rx="2.9" ry="2.9" fill="#e6dcc0" opacity="0.55"/>
<ellipse cx="444.1" cy="319.8" rx="1.7" ry="1.7" fill="#e6dcc0" opacity="0.55"/>
<ellipse cx="442.3" cy="307.5" rx="1.9" ry="1.7" fill="#e6dcc0" opacity="0.55"/>
<ellipse cx="428.8" cy="322.0" rx="2.8" ry="3.3" fill="#e6dcc0" opacity="0.55"/>
<ellipse cx="453.2" cy="305.1" rx="2.1" ry="2.4" fill="#e6dcc0" opacity="0.55"/>
<ellipse cx="433.1" cy="339.1" rx="1.8" ry="1.5" fill="#e6dcc0" opacity="0.55"/>
<ellipse cx="445.8" cy="324.2" rx="2.7" ry="1.8" fill="#e6dcc0" opacity="0.55"/>
<ellipse cx="400.6" cy="348.5" rx="2.1" ry="2.3" fill="#e6dcc0" opacity="0.55"/>
<ellipse cx="452.1" cy="317.7" rx="2.4" ry="2.9" fill="#e6dcc0" opacity="0.55"/>
<ellipse cx="448.7" cy="316.3" rx="1.6" ry="1.6" fill="#e6dcc0" opacity="0.55"/>
<ellipse cx="424.3" cy="345.6" rx="1.7" ry="1.5" fill="#e6dcc0" opacity="0.55"/>
<ellipse cx="432.9" cy="333.2" rx="1.9" ry="2.0" fill="#e6dcc0" opacity="0.55"/>
<ellipse cx="422.5" cy="324.6" rx="1.2" ry="1.8" fill="#f1efe9" opacity="0.7"/>
<ellipse cx="437.7" cy="321.4" rx="1.6" ry="1.4" fill="#f1efe9" opacity="0.7"/>
<ellipse cx="421.1" cy="329.1" rx="1.5" ry="1.3" fill="#f1efe9" opacity="0.7"/>
<ellipse cx="415.6" cy="339.1" rx="1.9" ry="1.9" fill="#f1efe9" opacity="0.7"/>
<ellipse cx="422.2" cy="296.3" rx="2.3" ry="2.3" fill="#f1efe9" opacity="0.7"/>
<ellipse cx="440.2" cy="327.5" rx="1.6" ry="2.9" fill="#f1efe9" opacity="0.7"/>
<ellipse cx="436.2" cy="319.0" rx="2.8" ry="2.4" fill="#f1efe9" opacity="0.7"/>
<ellipse cx="400.9" cy="332.1" rx="1.8" ry="2.0" fill="#f1efe9" opacity="0.7"/>
<ellipse cx="408.0" cy="345.4" rx="1.3" ry="1.1" fill="#f1efe9" opacity="0.7"/>
<ellipse cx="406.5" cy="310.6" rx="2.3" ry="1.5" fill="#f1efe9" opacity="0.7"/>
<ellipse cx="417.1" cy="316.9" rx="1.8" ry="2.2" fill="#f1efe9" opacity="0.7"/>
<ellipse cx="409.0" cy="297.0" rx="2.2" ry="1.5" fill="#f1efe9" opacity="0.7"/>
<ellipse cx="403.1" cy="334.8" rx="1.6" ry="1.4" fill="#f1efe9" opacity="0.7"/>
<ellipse cx="409.6" cy="319.1" rx="1.0" ry="1.2" fill="#f1efe9" opacity="0.7"/>
</g><g filter="url(#bl0)">
<path d="M451.4 349.3h0M444.1 332.9h0M434.3 325.3h0M438.5 324.4h0M423.4 344.9h0M417.8 318.9h0M439.8 352.6h0M420.4 320.6h0M423.7 307.1h0M420.9 342.1h0M411.2 323.2h0M416.8 329.3h0M445.3 301.4h0M428.6 305.7h0M437.9 335.3h0M413.2 308.3h0M417.9 314.2h0M452.3 347.2h0M446.4 318.2h0M426.9 306.6h0M427.1 351.8h0M405.6 318.2h0M411.7 345.4h0M417.8 323.8h0M403.3 336.1h0M430.2 342.8h0M442.3 339.3h0M415.6 309.6h0M435.1 297.4h0M454.8 337.9h0M429.0 316.2h0M404.8 327.9h0M445.3 301.5h0M406.1 335.8h0M427.6 342.2h0M424.2 353.7h0M451.1 313.8h0M431.5 329.8h0M426.5 343.8h0M441.3 343.8h0M415.0 324.9h0M431.9 329.6h0M401.2 343.5h0M426.4 304.0h0M450.1 328.0h0M443.4 339.1h0M436.5 349.6h0M403.6 314.5h0M409.8 332.8h0M413.1 296.1h0M408.2 304.9h0M431.7 321.9h0M427.3 295.1h0M431.0 309.7h0M405.6 297.8h0M409.1 318.6h0" stroke="#8a7440" stroke-width="1.6" stroke-linecap="round" opacity="0.34" fill="none"/>
<path d="M410.0 322.4h0M409.8 338.8h0M451.3 314.0h0M404.5 352.7h0M405.2 333.7h0M444.3 323.6h0M452.2 303.3h0M442.2 349.2h0M452.5 345.7h0M425.7 325.3h0M449.7 317.3h0M415.2 296.3h0M412.2 302.9h0M454.4 313.1h0M420.8 353.3h0M440.5 320.6h0M406.4 316.5h0M417.2 351.7h0M424.8 353.2h0M416.0 297.3h0M452.6 298.9h0M446.2 330.4h0M416.8 344.8h0M425.3 353.8h0" stroke="#7d8796" stroke-width="1.5" stroke-linecap="round" opacity="0.38" fill="none"/>
<path d="M432.8 351.4h0M454.5 317.1h0M440.5 338.4h0M438.4 295.8h0M440.3 340.4h0M411.6 300.2h0M404.2 327.3h0M406.5 345.6h0M424.5 354.5h0M443.0 320.3h0M410.9 320.2h0M435.6 346.4h0M452.2 314.0h0M401.7 334.5h0M440.3 333.5h0M447.0 343.5h0M436.7 344.0h0M407.6 351.5h0M439.1 300.1h0M410.1 333.1h0M418.1 351.0h0M416.5 323.7h0M429.6 351.2h0M418.0 348.3h0" stroke="#f6f3ea" stroke-width="1.5" stroke-linecap="round" opacity="0.38" fill="none"/>
</g></g></g>
<rect x="400.3" y="294.4" width="58.2" height="60.4" fill="none" stroke="#444" stroke-width="1"/>
<line x1="431.50" y1="352.20" x2="455.70" y2="352.20" stroke="#1a1210" stroke-width="1.8"/>
<clipPath id="c6"><rect x="461.4" y="294.4" width="59.1" height="60.4"/></clipPath>
<filter id="tx6" x="0" y="0" width="100%" height="100%" color-interpolation-filters="sRGB"><feTurbulence type="fractalNoise" baseFrequency="0.22" numOctaves="3" seed="32" result="n"/><feColorMatrix in="n" type="matrix" values="1 0 0 0 0  1 0 0 0 0  1 0 0 0 0  0 0 0 0 1" result="g"/><feComposite in="SourceGraphic" in2="g" operator="arithmetic" k1="0" k2="1" k3="0.4" k4="-0.200"/></filter>
<g clip-path="url(#c6)"><g filter="url(#tx6)"><rect x="461.4" y="294.4" width="59.1" height="60.4" fill="#d6cfbf"/>
<g filter="url(#bl2)">
<ellipse cx="490.9" cy="314.9" rx="18.3" ry="15.1" fill="#b48c36" opacity="1" transform="rotate(10 490.9 314.9)"/>
<ellipse cx="473.2" cy="339.7" rx="9.5" ry="8.5" fill="#b8903c" opacity="0.95" transform="rotate(0 473.2 339.7)"/>
<ellipse cx="493.9" cy="346.9" rx="9.5" ry="7.2" fill="#b8903c" opacity="0.95" transform="rotate(0 493.9 346.9)"/>
<ellipse cx="514.6" cy="330.6" rx="5.9" ry="12.1" fill="#bc9642" opacity="0.9" transform="rotate(0 514.6 330.6)"/>
<ellipse cx="466.1" cy="312.5" rx="4.1" ry="9.1" fill="#bc9642" opacity="0.8" transform="rotate(0 466.1 312.5)"/>
<ellipse cx="508.7" cy="301.6" rx="7.1" ry="4.8" fill="#eef0f2" opacity="0.8" transform="rotate(0 508.7 301.6)"/>
</g><g filter="url(#bl)">
<ellipse cx="504.1" cy="328.8" rx="3.1" ry="2.9" fill="#b8903a" opacity="0.5"/>
<ellipse cx="493.6" cy="297.0" rx="1.6" ry="1.2" fill="#b8903a" opacity="0.5"/>
<ellipse cx="499.4" cy="315.4" rx="2.1" ry="2.1" fill="#b8903a" opacity="0.5"/>
<ellipse cx="505.6" cy="321.4" rx="2.5" ry="2.4" fill="#b8903a" opacity="0.5"/>
<ellipse cx="497.3" cy="299.2" rx="1.8" ry="1.9" fill="#b8903a" opacity="0.5"/>
<ellipse cx="500.3" cy="306.3" rx="2.5" ry="1.8" fill="#b8903a" opacity="0.5"/>
<ellipse cx="515.1" cy="354.7" rx="2.7" ry="2.5" fill="#b8903a" opacity="0.5"/>
<ellipse cx="489.4" cy="344.2" rx="2.8" ry="1.9" fill="#b8903a" opacity="0.5"/>
<ellipse cx="483.4" cy="336.9" rx="1.4" ry="1.7" fill="#b8903a" opacity="0.5"/>
<ellipse cx="469.7" cy="323.1" rx="1.5" ry="1.1" fill="#b8903a" opacity="0.5"/>
<ellipse cx="516.7" cy="300.9" rx="2.3" ry="1.7" fill="#b8903a" opacity="0.5"/>
<ellipse cx="498.5" cy="327.6" rx="1.7" ry="2.0" fill="#b8903a" opacity="0.5"/>
<ellipse cx="510.8" cy="331.7" rx="1.4" ry="1.9" fill="#b8903a" opacity="0.5"/>
<ellipse cx="464.5" cy="323.3" rx="1.8" ry="1.3" fill="#b8903a" opacity="0.5"/>
<ellipse cx="467.7" cy="345.3" rx="1.6" ry="1.8" fill="#b8903a" opacity="0.5"/>
<ellipse cx="464.5" cy="299.3" rx="2.7" ry="1.9" fill="#b8903a" opacity="0.5"/>
<ellipse cx="480.2" cy="299.0" rx="1.7" ry="1.9" fill="#b8903a" opacity="0.5"/>
<ellipse cx="491.3" cy="345.6" rx="2.7" ry="1.9" fill="#b8903a" opacity="0.5"/>
<ellipse cx="469.3" cy="335.0" rx="1.7" ry="1.0" fill="#b8903a" opacity="0.5"/>
<ellipse cx="464.7" cy="354.5" rx="1.8" ry="1.9" fill="#b8903a" opacity="0.5"/>
<ellipse cx="468.4" cy="314.7" rx="2.0" ry="2.0" fill="#b8903a" opacity="0.5"/>
<ellipse cx="502.5" cy="305.3" rx="2.3" ry="1.5" fill="#b8903a" opacity="0.5"/>
<ellipse cx="482.0" cy="331.6" rx="1.9" ry="2.9" fill="#b8903a" opacity="0.5"/>
<ellipse cx="488.7" cy="326.3" rx="1.8" ry="2.5" fill="#b8903a" opacity="0.5"/>
<ellipse cx="480.1" cy="340.0" rx="2.1" ry="1.7" fill="#b8903a" opacity="0.5"/>
<ellipse cx="506.6" cy="336.7" rx="2.3" ry="2.5" fill="#b8903a" opacity="0.5"/>
<ellipse cx="475.8" cy="336.1" rx="2.0" ry="2.9" fill="#b8903a" opacity="0.5"/>
<ellipse cx="479.9" cy="352.1" rx="2.6" ry="2.5" fill="#b8903a" opacity="0.5"/>
<ellipse cx="507.6" cy="316.8" rx="1.9" ry="2.2" fill="#b8903a" opacity="0.5"/>
<ellipse cx="486.0" cy="348.7" rx="1.5" ry="1.2" fill="#b8903a" opacity="0.5"/>
<ellipse cx="471.5" cy="312.0" rx="1.3" ry="1.4" fill="#b8903a" opacity="0.5"/>
<ellipse cx="484.8" cy="342.6" rx="2.2" ry="1.5" fill="#b8903a" opacity="0.5"/>
<ellipse cx="480.9" cy="295.7" rx="1.7" ry="1.1" fill="#b8903a" opacity="0.5"/>
<ellipse cx="496.6" cy="317.2" rx="2.6" ry="2.6" fill="#b8903a" opacity="0.5"/>
<ellipse cx="518.4" cy="352.7" rx="2.3" ry="2.0" fill="#b8903a" opacity="0.5"/>
<ellipse cx="477.8" cy="314.2" rx="2.3" ry="1.5" fill="#b8903a" opacity="0.5"/>
<ellipse cx="514.1" cy="334.9" rx="1.9" ry="1.9" fill="#b8903a" opacity="0.5"/>
<ellipse cx="485.4" cy="337.6" rx="2.1" ry="2.2" fill="#b8903a" opacity="0.5"/>
<ellipse cx="466.5" cy="295.5" rx="2.1" ry="3.0" fill="#b8903a" opacity="0.5"/>
<ellipse cx="485.3" cy="308.0" rx="1.2" ry="1.3" fill="#b8903a" opacity="0.5"/>
<ellipse cx="464.6" cy="295.1" rx="2.0" ry="1.9" fill="#e8e6e0" opacity="0.6"/>
<ellipse cx="476.6" cy="318.8" rx="2.1" ry="1.6" fill="#e8e6e0" opacity="0.6"/>
<ellipse cx="482.4" cy="324.8" rx="1.5" ry="1.8" fill="#e8e6e0" opacity="0.6"/>
<ellipse cx="491.2" cy="297.8" rx="1.8" ry="1.5" fill="#e8e6e0" opacity="0.6"/>
<ellipse cx="484.3" cy="328.2" rx="1.4" ry="2.2" fill="#e8e6e0" opacity="0.6"/>
<ellipse cx="465.3" cy="349.1" rx="1.4" ry="1.4" fill="#e8e6e0" opacity="0.6"/>
<ellipse cx="485.6" cy="332.2" rx="2.3" ry="1.9" fill="#e8e6e0" opacity="0.6"/>
<ellipse cx="473.2" cy="347.5" rx="2.5" ry="2.0" fill="#e8e6e0" opacity="0.6"/>
<ellipse cx="480.5" cy="336.1" rx="2.6" ry="1.7" fill="#e8e6e0" opacity="0.6"/>
<ellipse cx="481.7" cy="336.2" rx="2.6" ry="3.1" fill="#e8e6e0" opacity="0.6"/>
<ellipse cx="467.9" cy="333.0" rx="1.9" ry="1.5" fill="#e8e6e0" opacity="0.6"/>
<ellipse cx="472.4" cy="310.7" rx="2.7" ry="2.9" fill="#e8e6e0" opacity="0.6"/>
<ellipse cx="485.9" cy="298.4" rx="2.1" ry="2.8" fill="#e8e6e0" opacity="0.6"/>
<ellipse cx="490.3" cy="321.2" rx="1.0" ry="1.4" fill="#e8e6e0" opacity="0.6"/>
<ellipse cx="488.6" cy="347.7" rx="2.5" ry="3.2" fill="#e8e6e0" opacity="0.6"/>
<ellipse cx="461.5" cy="318.6" rx="1.5" ry="2.5" fill="#e8e6e0" opacity="0.6"/>
<ellipse cx="470.3" cy="329.5" rx="1.5" ry="1.6" fill="#e8e6e0" opacity="0.6"/>
<ellipse cx="478.5" cy="304.7" rx="2.4" ry="1.7" fill="#e8e6e0" opacity="0.6"/>
<ellipse cx="518.9" cy="300.8" rx="1.4" ry="1.4" fill="#e8e6e0" opacity="0.6"/>
<ellipse cx="490.4" cy="348.9" rx="1.4" ry="1.5" fill="#e8e6e0" opacity="0.6"/>
<ellipse cx="476.6" cy="315.9" rx="2.4" ry="2.2" fill="#e8e6e0" opacity="0.6"/>
<ellipse cx="489.8" cy="298.6" rx="2.1" ry="1.7" fill="#e8e6e0" opacity="0.6"/>
<ellipse cx="484.5" cy="333.0" rx="1.4" ry="1.4" fill="#e8e6e0" opacity="0.6"/>
<ellipse cx="468.1" cy="319.6" rx="2.2" ry="2.6" fill="#e8e6e0" opacity="0.6"/>
<ellipse cx="481.8" cy="327.8" rx="1.7" ry="2.3" fill="#e8e6e0" opacity="0.6"/>
<ellipse cx="502.3" cy="354.7" rx="1.7" ry="1.6" fill="#e8e6e0" opacity="0.6"/>
<ellipse cx="512.6" cy="316.6" rx="1.8" ry="2.3" fill="#e8e6e0" opacity="0.6"/>
<ellipse cx="477.3" cy="349.6" rx="2.3" ry="1.9" fill="#e8e6e0" opacity="0.6"/>
<ellipse cx="481.6" cy="327.7" rx="3.0" ry="3.2" fill="#e8e6e0" opacity="0.6"/>
<ellipse cx="494.9" cy="331.8" rx="1.7" ry="1.5" fill="#e8e6e0" opacity="0.6"/>
<ellipse cx="499.7" cy="312.8" rx="2.5" ry="2.2" fill="#e8e6e0" opacity="0.6"/>
<ellipse cx="520.0" cy="341.1" rx="2.8" ry="2.6" fill="#e8e6e0" opacity="0.6"/>
<ellipse cx="484.1" cy="352.1" rx="2.9" ry="2.5" fill="#e8e6e0" opacity="0.6"/>
<ellipse cx="491.0" cy="297.2" rx="3.1" ry="2.8" fill="#e8e6e0" opacity="0.6"/>
<ellipse cx="488.9" cy="342.9" rx="1.2" ry="1.0" fill="#e8e6e0" opacity="0.6"/>
<ellipse cx="497.3" cy="315.8" rx="2.7" ry="2.1" fill="#e8e6e0" opacity="0.6"/>
<ellipse cx="468.2" cy="295.2" rx="2.3" ry="2.3" fill="#cdb06a" opacity="0.5"/>
<ellipse cx="463.2" cy="300.6" rx="1.5" ry="0.9" fill="#cdb06a" opacity="0.5"/>
<ellipse cx="480.4" cy="323.0" rx="1.7" ry="2.2" fill="#cdb06a" opacity="0.5"/>
<ellipse cx="499.2" cy="353.9" rx="1.2" ry="1.0" fill="#cdb06a" opacity="0.5"/>
<ellipse cx="478.5" cy="307.3" rx="1.5" ry="1.1" fill="#cdb06a" opacity="0.5"/>
<ellipse cx="505.4" cy="343.6" rx="1.7" ry="2.4" fill="#cdb06a" opacity="0.5"/>
<ellipse cx="511.7" cy="332.6" rx="2.0" ry="2.4" fill="#cdb06a" opacity="0.5"/>
<ellipse cx="492.9" cy="315.7" rx="1.9" ry="1.5" fill="#cdb06a" opacity="0.5"/>
<ellipse cx="501.2" cy="344.8" rx="1.5" ry="2.0" fill="#cdb06a" opacity="0.5"/>
<ellipse cx="506.7" cy="302.3" rx="2.1" ry="1.9" fill="#cdb06a" opacity="0.5"/>
<ellipse cx="480.9" cy="295.4" rx="1.7" ry="2.3" fill="#cdb06a" opacity="0.5"/>
<ellipse cx="492.4" cy="338.1" rx="1.7" ry="1.6" fill="#cdb06a" opacity="0.5"/>
<ellipse cx="513.0" cy="305.5" rx="2.0" ry="2.5" fill="#cdb06a" opacity="0.5"/>
<ellipse cx="502.7" cy="319.1" rx="2.4" ry="2.5" fill="#cdb06a" opacity="0.5"/>
<ellipse cx="503.7" cy="303.5" rx="2.2" ry="3.0" fill="#cdb06a" opacity="0.5"/>
<ellipse cx="470.0" cy="301.9" rx="1.7" ry="2.0" fill="#cdb06a" opacity="0.5"/>
<ellipse cx="473.2" cy="338.1" rx="2.5" ry="1.7" fill="#cdb06a" opacity="0.5"/>
<ellipse cx="464.2" cy="329.6" rx="1.5" ry="1.4" fill="#cdb06a" opacity="0.5"/>
<ellipse cx="516.5" cy="343.8" rx="2.5" ry="2.1" fill="#cdb06a" opacity="0.5"/>
<ellipse cx="478.6" cy="298.1" rx="2.4" ry="2.4" fill="#cdb06a" opacity="0.5"/>
<ellipse cx="491.7" cy="321.9" rx="2.3" ry="1.9" fill="#cdb06a" opacity="0.5"/>
<ellipse cx="517.6" cy="340.4" rx="3.2" ry="2.4" fill="#cdb06a" opacity="0.5"/>
<ellipse cx="470.6" cy="324.2" rx="1.8" ry="2.2" fill="#cdb06a" opacity="0.5"/>
<ellipse cx="476.2" cy="353.0" rx="1.3" ry="1.8" fill="#cdb06a" opacity="0.5"/>
<ellipse cx="475.2" cy="338.2" rx="1.5" ry="1.6" fill="#cdb06a" opacity="0.5"/>
<ellipse cx="476.0" cy="344.1" rx="3.2" ry="2.0" fill="#cdb06a" opacity="0.5"/>
<ellipse cx="462.9" cy="321.0" rx="2.3" ry="2.9" fill="#cdb06a" opacity="0.5"/>
<ellipse cx="519.8" cy="335.6" rx="1.5" ry="1.2" fill="#cdb06a" opacity="0.5"/>
<ellipse cx="484.7" cy="339.8" rx="1.3" ry="1.7" fill="#cdb06a" opacity="0.5"/>
<ellipse cx="514.4" cy="333.4" rx="1.3" ry="1.1" fill="#cdb06a" opacity="0.5"/>
<ellipse cx="509.4" cy="319.7" rx="2.2" ry="1.6" fill="#cdb06a" opacity="0.5"/>
<ellipse cx="487.9" cy="353.6" rx="1.7" ry="1.8" fill="#cdb06a" opacity="0.5"/>
<ellipse cx="481.2" cy="332.4" rx="2.1" ry="1.9" fill="#cdb06a" opacity="0.5"/>
<ellipse cx="504.3" cy="329.0" rx="2.0" ry="1.7" fill="#cdb06a" opacity="0.5"/>
<ellipse cx="482.9" cy="314.1" rx="1.4" ry="1.2" fill="#cdb06a" opacity="0.5"/>
<ellipse cx="489.8" cy="336.9" rx="1.0" ry="1.5" fill="#cdb06a" opacity="0.5"/>
<ellipse cx="463.8" cy="346.9" rx="2.4" ry="2.3" fill="#cdb06a" opacity="0.5"/>
<ellipse cx="485.5" cy="315.2" rx="2.1" ry="1.8" fill="#cdb06a" opacity="0.5"/>
<ellipse cx="504.0" cy="354.3" rx="2.3" ry="2.6" fill="#cdb06a" opacity="0.5"/>
<ellipse cx="490.6" cy="329.5" rx="2.3" ry="2.3" fill="#cdb06a" opacity="0.5"/>
</g><g filter="url(#bl0)">
<path d="M495.0 328.1h0M467.5 328.6h0M516.3 309.0h0M507.2 309.8h0M503.6 311.4h0M496.6 341.2h0M463.3 345.1h0M492.3 309.1h0M479.6 327.9h0M505.2 305.2h0M465.5 308.4h0M498.9 318.7h0M506.5 338.3h0M483.1 330.0h0M470.0 331.2h0M499.7 308.7h0M500.8 302.8h0M518.8 327.5h0M515.9 334.8h0M474.1 338.6h0M497.7 317.3h0M502.3 340.3h0M501.6 307.6h0M518.5 349.3h0M487.1 350.4h0M520.1 315.2h0M472.7 309.1h0M490.3 303.1h0M475.4 338.6h0M462.5 331.4h0M485.5 337.3h0M476.7 323.3h0M474.0 295.4h0M512.5 316.5h0M478.8 350.8h0M483.3 327.1h0M469.7 319.3h0M513.1 344.2h0M509.7 349.6h0M475.0 297.6h0M469.1 333.7h0M493.6 316.7h0M503.5 307.7h0M497.3 319.6h0M469.6 341.2h0M472.3 342.7h0M506.4 320.8h0M488.2 306.8h0M469.6 336.5h0M483.3 328.4h0M483.2 310.5h0M471.0 340.4h0M487.0 303.6h0M513.0 303.7h0M474.9 303.9h0M494.5 341.4h0" stroke="#8a6a24" stroke-width="1.6" stroke-linecap="round" opacity="0.34" fill="none"/>
<path d="M463.2 350.3h0M502.9 344.6h0M486.3 320.8h0M466.9 310.3h0M512.9 311.6h0M514.6 344.7h0M515.8 302.9h0M486.4 344.8h0M479.8 309.2h0M462.6 326.6h0M493.9 307.2h0M476.7 332.6h0M471.6 341.9h0M512.9 319.8h0M469.1 328.9h0M478.9 300.7h0M503.3 328.2h0M477.4 309.3h0M504.2 349.8h0M482.2 329.8h0M474.4 322.5h0M495.7 312.8h0M497.2 327.1h0M464.0 301.6h0M485.9 303.3h0M493.7 330.2h0M498.3 347.9h0M497.3 341.0h0" stroke="#8791a2" stroke-width="1.5" stroke-linecap="round" opacity="0.38" fill="none"/>
<path d="M468.2 347.1h0M516.3 330.1h0M510.3 327.6h0M487.1 304.1h0M489.8 337.5h0M508.3 348.4h0M492.0 351.5h0M483.4 295.5h0M486.6 327.1h0M507.1 308.5h0M462.9 338.0h0M472.7 345.8h0M494.9 302.6h0M492.2 341.0h0M474.6 352.1h0M464.7 303.4h0M496.5 335.3h0M497.0 350.2h0M473.3 297.2h0M493.2 315.6h0M484.8 318.3h0M513.5 311.6h0M502.3 328.7h0M478.2 349.5h0M476.5 312.6h0M472.8 336.7h0M502.4 316.5h0M468.4 330.4h0" stroke="#f4f2ec" stroke-width="1.5" stroke-linecap="round" opacity="0.38" fill="none"/>
</g></g></g>
<rect x="461.4" y="294.4" width="59.1" height="60.4" fill="none" stroke="#444" stroke-width="1"/>
<line x1="490.30" y1="352.20" x2="515.30" y2="352.20" stroke="#1a1210" stroke-width="1.8"/>
<defs>
<linearGradient id="gGray" x1="0" y1="0" x2="0" y2="1"><stop offset="0" stop-color="#dedede"/><stop offset="0.45" stop-color="#b8b8b8"/><stop offset="1" stop-color="#7c7c7c"/></linearGradient>
<radialGradient id="gPink" cx="0.5" cy="0.4" r="0.7"><stop offset="0" stop-color="#fae0df"/><stop offset="0.55" stop-color="#eeaaad"/><stop offset="1" stop-color="#d0636e"/></radialGradient>
<radialGradient id="gRho" cx="0.45" cy="0.4" r="0.7"><stop offset="0" stop-color="#e3c53a"/><stop offset="0.7" stop-color="#c9a51c"/><stop offset="1" stop-color="#9c7d10"/></radialGradient>
<radialGradient id="gRac" cx="0.5" cy="0.5" r="0.55"><stop offset="0" stop-color="#dcaeb0"/><stop offset="0.45" stop-color="#ebcccc"/><stop offset="0.85" stop-color="#f0d8d8"/><stop offset="1" stop-color="#dcb0b4"/></radialGradient>
<radialGradient id="gCdc" cx="0.5" cy="0.5" r="0.55"><stop offset="0" stop-color="#dcc6e4"/><stop offset="0.6" stop-color="#c4a2cf"/><stop offset="0.9" stop-color="#a47ab2"/><stop offset="1" stop-color="#8a5a9c"/></radialGradient>
<radialGradient id="gUb" cx="0.5" cy="0.5" r="0.55"><stop offset="0" stop-color="#e6f0e4"/><stop offset="0.55" stop-color="#b9d5b8"/><stop offset="1" stop-color="#74a07c"/></radialGradient>
<linearGradient id="gProt" x1="0" y1="0" x2="1" y2="0"><stop offset="0" stop-color="#4a4aa4"/><stop offset="0.5" stop-color="#9090d2"/><stop offset="1" stop-color="#4646a0"/></linearGradient>
<marker id="ah" viewBox="0 0 10 10" refX="8" refY="5" markerWidth="3.9" markerHeight="3.9" orient="auto"><path d="M0 0L10 5L0 10z" fill="#111"/></marker>
</defs>
<rect x="28" y="410" width="251" height="224" fill="#e9e9e9"/>
<line x1="28.00" y1="410.00" x2="279.00" y2="410.00" stroke="#9a9a9a" stroke-width="1.2"/>
<line x1="28.30" y1="409.70" x2="28.30" y2="636.00" stroke="#111" stroke-width="3.5"/>
<line x1="26.50" y1="634.30" x2="279.00" y2="634.30" stroke="#111" stroke-width="3.6"/>
<line x1="152.05" y1="410.50" x2="149.70" y2="577.00" stroke="#5a5a5a" stroke-width="1.3"/>
<text x="81.50" y="422.52" font-size="7" text-anchor="middle" font-weight="bold" font-style="italic" fill="#111" stroke="#111" stroke-width="0.2" textLength="47.0" lengthAdjust="spacingAndGlyphs">High E6AP</text>
<line x1="58.00" y1="424.20" x2="105.00" y2="424.20" stroke="#111" stroke-width="0.7"/>
<g transform="rotate(0 69.3 440.2)"><rect x="48.1" y="432.7" width="42.3" height="15" rx="7.5" fill="url(#gGray)" stroke="#4a4a4a" stroke-width="0.9"/>
<text x="69.30" y="443.35" font-size="8.2" text-anchor="middle" font-weight="bold" font-style="normal" fill="#111" stroke="#111" stroke-width="0.2" textLength="22.4" lengthAdjust="spacingAndGlyphs">E6AP</text>
</g>
<g transform="rotate(0 108.3 436.8)"><rect x="87.5" y="428.8" width="41.5" height="16" rx="8.0" fill="url(#gGray)" stroke="#4a4a4a" stroke-width="0.9"/>
<text x="108.30" y="439.95" font-size="8.2" text-anchor="middle" font-weight="bold" font-style="normal" fill="#111" stroke="#111" stroke-width="0.2" textLength="23.0" lengthAdjust="spacingAndGlyphs">E6AP</text>
</g>
<text x="37.80" y="460.12" font-size="7" text-anchor="start" font-weight="bold" font-style="normal" fill="#111" stroke="#111" stroke-width="0.2" textLength="53.3" lengthAdjust="spacingAndGlyphs">Ubiquitination</text>
<text x="55.80" y="470.59" font-size="7.2" text-anchor="start" font-weight="bold" font-style="normal" fill="#111" stroke="#111" stroke-width="0.2" textLength="17.5" lengthAdjust="spacingAndGlyphs">(Ub)</text>
<path d="M94.2 445V469M87.5 469H101.5" fill="none" stroke="#111" stroke-width="1.6"/>
<ellipse cx="92" cy="498.9" rx="26" ry="10.9" fill="url(#gPink)" stroke="#b05a62" stroke-width="0.8"/>
<circle cx="84.6" cy="513.5" r="7.1" fill="url(#gUb)" stroke="#5a8a68" stroke-width="1" stroke-dasharray="1.1 0.5" opacity="0.95"/>
<text x="84.60" y="516.62" font-size="8.4" text-anchor="middle" font-weight="bold" font-style="normal" fill="#2a8038" stroke="#2a8038" stroke-width="0.2" transform="rotate(-4 84.60 513.60)">Ub</text>
<circle cx="98.5" cy="512" r="7.1" fill="url(#gUb)" stroke="#5a8a68" stroke-width="1" stroke-dasharray="1.1 0.5" opacity="0.95"/>
<text x="98.50" y="515.12" font-size="8.4" text-anchor="middle" font-weight="bold" font-style="normal" fill="#2a8038" stroke="#2a8038" stroke-width="0.2" transform="rotate(-10 98.50 512.10)">Ub</text>
<circle cx="112.3" cy="508" r="7.1" fill="url(#gUb)" stroke="#5a8a68" stroke-width="1" stroke-dasharray="1.1 0.5" opacity="0.95"/>
<text x="112.30" y="511.12" font-size="8.4" text-anchor="middle" font-weight="bold" font-style="normal" fill="#2a8038" stroke="#2a8038" stroke-width="0.2" transform="rotate(-24 112.30 508.10)">Ub</text>
<circle cx="124.3" cy="501.3" r="7.1" fill="url(#gUb)" stroke="#5a8a68" stroke-width="1" stroke-dasharray="1.1 0.5" opacity="0.95"/>
<text x="124.30" y="504.42" font-size="8.4" text-anchor="middle" font-weight="bold" font-style="normal" fill="#2a8038" stroke="#2a8038" stroke-width="0.2" transform="rotate(-42 124.30 501.40)">Ub</text>
<g transform="rotate(-21 78.3 489.8)"><rect x="58.8" y="483.0" width="39" height="13.6" rx="6.8" fill="url(#gGray)" stroke="#4a4a4a" stroke-width="0.9"/>
<text x="78.30" y="492.74" font-size="7.6" text-anchor="middle" font-weight="bold" font-style="normal" fill="#111" stroke="#111" stroke-width="0.2" textLength="22.0" lengthAdjust="spacingAndGlyphs">E6AP</text>
</g>
<text x="90.80" y="502.38" font-size="8" text-anchor="middle" font-weight="bold" font-style="normal" fill="#111" stroke="#111" stroke-width="0.2" textLength="23.0" lengthAdjust="spacingAndGlyphs">ECT2</text>
<text x="32.00" y="523.50" font-size="6.4" text-anchor="start" font-weight="bold" font-style="normal" fill="#111" stroke="#111" stroke-width="0.2" textLength="47.0" lengthAdjust="spacingAndGlyphs">Proteasomal</text>
<text x="32.00" y="531.20" font-size="6.4" text-anchor="start" font-weight="bold" font-style="normal" fill="#111" stroke="#111" stroke-width="0.2" textLength="45.0" lengthAdjust="spacingAndGlyphs">degradation</text>
<line x1="92.40" y1="522.00" x2="76.80" y2="538.80" stroke="#111" stroke-width="1.4" marker-end="url(#ah)"/>
<rect x="38" y="541" width="37.5" height="37.5" fill="url(#gProt)"/>
<ellipse cx="56.75" cy="578.5" rx="18.75" ry="3.2" fill="#5252aa"/>
<path d="M41.6 547.6h0M48.6 547.6h0M55.4 547.6h0M62.2 547.6h0M69.1 547.6h0M41.6 553.9h0M48.6 553.9h0M55.4 553.9h0M62.2 553.9h0M69.1 553.9h0M41.6 560.2h0M48.6 560.2h0M55.4 560.2h0M62.2 560.2h0M69.1 560.2h0M41.6 566.5h0M48.6 566.5h0M55.4 566.5h0M62.2 566.5h0M69.1 566.5h0M41.6 572.6h0M48.6 572.6h0M55.4 572.6h0M62.2 572.6h0M69.1 572.6h0M41.6 577.8h0M48.6 577.8h0M55.4 577.8h0M62.2 577.8h0M69.1 577.8h0" stroke="#b4b4e6" stroke-width="5" stroke-linecap="round" opacity="0.55"/>
<path d="M41.6 547.6h0M48.6 547.6h0M55.4 547.6h0M62.2 547.6h0M69.1 547.6h0M41.6 553.9h0M48.6 553.9h0M55.4 553.9h0M62.2 553.9h0M69.1 553.9h0M41.6 560.2h0M48.6 560.2h0M55.4 560.2h0M62.2 560.2h0M69.1 560.2h0M41.6 566.5h0M48.6 566.5h0M55.4 566.5h0M62.2 566.5h0M69.1 566.5h0M41.6 572.6h0M48.6 572.6h0M55.4 572.6h0M62.2 572.6h0M69.1 572.6h0M41.6 577.8h0M48.6 577.8h0M55.4 577.8h0M62.2 577.8h0M69.1 577.8h0" stroke="#f0f0ff" stroke-width="2.6" stroke-linecap="round" opacity="0.9"/>
<ellipse cx="56.75" cy="541" rx="18.75" ry="3.4" fill="#8c8cd2" stroke="#3a3a92" stroke-width="0.9"/>
<ellipse cx="56.75" cy="541.2" rx="9" ry="1.6" fill="#e8e8fa" opacity="0.85"/>
<path d="M110.5 531.8L138 573.8M130.6 575.6L146 572.2" stroke="#111" stroke-width="1.3" fill="none"/>
<rect x="115.6" y="577.2" width="68.4" height="25" fill="#d9eefb" stroke="#7d97ad" stroke-width="0.9"/>
<text x="149.50" y="589.41" font-size="10.3" text-anchor="middle" font-weight="normal" font-style="normal" fill="#222" stroke="#222" stroke-width="0.28">Invasion</text>
<text x="149.50" y="599.71" font-size="10.3" text-anchor="middle" font-weight="normal" font-style="normal" fill="#222" stroke="#222" stroke-width="0.28">colonization</text>
<path d="M151.3 605.2h4.8v5.2h2.6l-5 6l-5-6h2.6z" fill="#9ccb3c" stroke="#26360e" stroke-width="1" stroke-linejoin="round"/>
<rect x="122" y="617.8" width="62" height="14" fill="#7ec24a" stroke="#4a7a2a" stroke-width="0.8"/>
<text x="153.00" y="629.04" font-size="10.1" text-anchor="middle" font-weight="normal" font-style="normal" fill="#1a2a10" stroke="#1a2a10" stroke-width="0.28">Metastasis</text>
<text x="210.20" y="421.52" font-size="7" text-anchor="middle" font-weight="bold" font-style="italic" fill="#111" stroke="#111" stroke-width="0.2" textLength="45.0" lengthAdjust="spacingAndGlyphs">Low E6AP</text>
<line x1="187.60" y1="423.20" x2="232.80" y2="423.20" stroke="#111" stroke-width="0.7"/>
<g transform="rotate(0 214.5 433.1)"><rect x="194.0" y="425.1" width="41" height="16" rx="8.0" fill="url(#gGray)" stroke="#4a4a4a" stroke-width="0.9"/>
<text x="214.50" y="436.40" font-size="8.6" text-anchor="middle" font-weight="bold" font-style="normal" fill="#111" stroke="#111" stroke-width="0.2" textLength="23.5" lengthAdjust="spacingAndGlyphs">E6AP</text>
</g>
<line x1="215.60" y1="442.00" x2="215.60" y2="451.50" stroke="#111" stroke-width="1.5" stroke-dasharray="1.3 0.9"/>
<path d="M213.5 450.2h4.2l-2.1 3.6z" fill="#111"/>
<ellipse cx="217.8" cy="466" rx="26" ry="11.2" fill="url(#gPink)" stroke="#b05a62" stroke-width="0.8"/>
<text x="216.60" y="469.32" font-size="8.4" text-anchor="middle" font-weight="bold" font-style="normal" fill="#111" stroke="#111" stroke-width="0.2" textLength="23.0" lengthAdjust="spacingAndGlyphs">ECT2</text>
<line x1="216.20" y1="478.50" x2="216.20" y2="489.50" stroke="#111" stroke-width="1.4" marker-end="url(#ah)"/>
<ellipse cx="168" cy="514.8" rx="10.3" ry="9.8" fill="url(#gRac)" stroke="#b88088" stroke-width="0.9" stroke-dasharray="1.1 0.6"/>
<text x="166.50" y="514.94" font-size="7.6" text-anchor="middle" font-weight="bold" font-style="normal" fill="#1a0a0a" stroke="#1a0a0a" stroke-width="0.2" textLength="12.0" lengthAdjust="spacingAndGlyphs">Rac</text>
<ellipse cx="181.6" cy="504.1" rx="13.9" ry="9.5" fill="url(#gRac)" stroke="#b88088" stroke-width="0.9" stroke-dasharray="1.1 0.6"/>
<text x="185.80" y="505.34" font-size="7.6" text-anchor="middle" font-weight="bold" font-style="normal" fill="#1a0a0a" stroke="#1a0a0a" stroke-width="0.2" textLength="16.6" lengthAdjust="spacingAndGlyphs">Rac1</text>
<ellipse cx="194.2" cy="519.8" rx="14.4" ry="9.6" fill="url(#gRac)" stroke="#b88088" stroke-width="0.9" stroke-dasharray="1.1 0.6"/>
<text x="197.00" y="520.64" font-size="7.6" text-anchor="middle" font-weight="bold" font-style="normal" fill="#1a0a0a" stroke="#1a0a0a" stroke-width="0.2" textLength="17.0" lengthAdjust="spacingAndGlyphs">Rac1</text>
<ellipse cx="232.5" cy="492.5" rx="15" ry="11.25" fill="url(#gRho)" stroke="#7a5c08" stroke-width="0.7"/>
<text x="233.00" y="494.89" font-size="7.2" text-anchor="middle" font-weight="bold" font-style="normal" fill="#2a1c00" stroke="#2a1c00" stroke-width="0.2" textLength="14.0" lengthAdjust="spacingAndGlyphs">Rho</text>
<ellipse cx="209.5" cy="498.9" rx="15.25" ry="10.5" fill="url(#gRho)" stroke="#7a5c08" stroke-width="0.7"/>
<text x="209.50" y="501.19" font-size="7.2" text-anchor="middle" font-weight="bold" font-style="normal" fill="#2a1c00" stroke="#2a1c00" stroke-width="0.2" textLength="14.0" lengthAdjust="spacingAndGlyphs">Rho</text>
<ellipse cx="229.1" cy="513.3" rx="12" ry="9.9" fill="url(#gCdc)" stroke="#4a2460" stroke-width="0.9" stroke-dasharray="1.1 0.6"/>
<text x="229.60" y="514.26" font-size="7.4" text-anchor="middle" font-weight="bold" font-style="normal" fill="#2a1038" stroke="#2a1038" stroke-width="0.2" textLength="15.5" lengthAdjust="spacingAndGlyphs">Cdc</text>
<ellipse cx="242.6" cy="526.9" rx="15.6" ry="9.8" fill="url(#gCdc)" stroke="#4a2460" stroke-width="0.9" stroke-dasharray="1.1 0.6"/>
<text x="235.60" y="527.06" font-size="7.4" text-anchor="middle" font-weight="bold" font-style="normal" fill="#2a1038" stroke="#2a1038" stroke-width="0.2" textLength="9.5" lengthAdjust="spacingAndGlyphs">Cd</text>
<ellipse cx="253" cy="516.4" rx="15.5" ry="10.8" fill="url(#gCdc)" stroke="#4a2460" stroke-width="0.9" stroke-dasharray="1.1 0.6"/>
<text x="251.20" y="518.30" font-size="7.5" text-anchor="middle" font-weight="bold" font-style="normal" fill="#2a1038" stroke="#2a1038" stroke-width="0.2" textLength="22.5" lengthAdjust="spacingAndGlyphs">Cdc42</text>
<line x1="217.00" y1="524.50" x2="217.00" y2="538.60" stroke="#111" stroke-width="1.4" marker-end="url(#ah)"/>
<text x="196.20" y="548.28" font-size="6.9" text-anchor="start" font-weight="bold" font-style="normal" fill="#111" stroke="#111" stroke-width="0.2" textLength="46.3" lengthAdjust="spacingAndGlyphs">Cytoskeletal</text>
<text x="196.20" y="556.78" font-size="6.9" text-anchor="start" font-weight="bold" font-style="normal" fill="#111" stroke="#111" stroke-width="0.2" textLength="41.8" lengthAdjust="spacingAndGlyphs">remodeling</text>
<line x1="242.50" y1="561.40" x2="201.20" y2="561.40" stroke="#111" stroke-width="1.3" marker-end="url(#ah)"/>
<line x1="171.30" y1="565.60" x2="159.20" y2="575.60" stroke="#111" stroke-width="1.4" marker-end="url(#ah)"/>
<path d="M159.8 547L165.5 549.6L171 554L174.5 557.8L170 556.3L166.5 555.6L161 555.2L159.2 556.8L161 558.6L167 559L171.5 561.2L177 566L183.5 569.3L190 571L196.5 571.6L202.6 572.8L196 567.5L189 563.5L183 561L178.5 560L176 558.5L171 553L165 548.6z" fill="#cfe6a8" stroke="#45642a" stroke-width="0.7" stroke-linejoin="round"/>
<path d="M164.8 542.3L169.5 547.2L174.5 551L179.5 552.2L184.5 552.6L189 555.5L194.5 561.5L199.5 567.5L202.6 572.8L197.5 569L191 564.2L186.5 562.5L181 560.2L176 557L171.5 551.5L167.5 546z" fill="#cfe6a8" stroke="#45642a" stroke-width="0.7" stroke-linejoin="round"/>
<path d="M184 561.8L189 563.8L192.5 565.8L188 565.2z" fill="#f4f8ec" stroke="#45642a" stroke-width="0.4"/>
<ellipse cx="182.8" cy="555.8" rx="4" ry="2.5" fill="#8cc63f" stroke="#4a7a1a" stroke-width="0.6" transform="rotate(22 182.8 555.8)"/>
<ellipse cx="179.2" cy="563.4" rx="4" ry="2.5" fill="#8cc63f" stroke="#4a7a1a" stroke-width="0.6" transform="rotate(22 179.2 563.4)"/>
<path d="M244.2 558q-0.5-6 6-7.5q7-1.5 10 2.5q2.5 4 2 11q-0.5 8-6.5 9.5q-7 1.5-9.5-3.5q-2-5-2-12z" fill="#cfe6a8" stroke="#45642a" stroke-width="0.7" stroke-linejoin="round"/>
<path d="M258.3 557.5q0.5-5.5 7.5-6.3q8-0.5 10.5 4q2 5 0.8 12.5q-1.2 7-7.5 8q-7 0.8-9.6-3.6q-2.4-5.4-1.7-14.6z" fill="#cfe6a8" stroke="#45642a" stroke-width="0.7" stroke-linejoin="round"/>
<ellipse cx="251.3" cy="560.3" rx="4.6" ry="2.7" fill="#8cc63f" stroke="#4a7a1a" stroke-width="0.6" transform="rotate(-8 251.3 560.3)"/>
<ellipse cx="265.5" cy="561" rx="5" ry="3" fill="#8cc63f" stroke="#4a7a1a" stroke-width="0.6" transform="rotate(-8 265.5 561)"/>
</svg>
</body></html>
